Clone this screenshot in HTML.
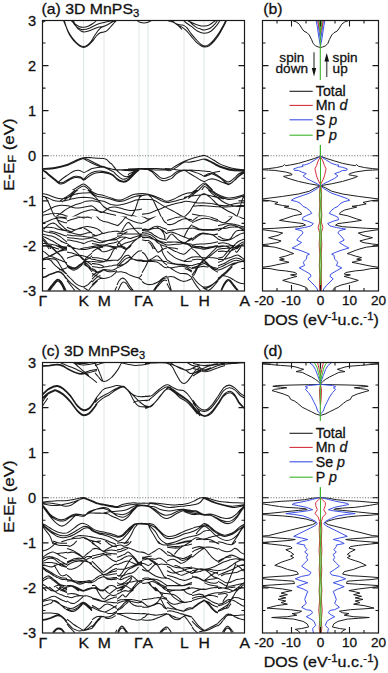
<!DOCTYPE html><html><head><meta charset="utf-8"><style>html,body{margin:0;padding:0;background:#fff;width:388px;height:673px;overflow:hidden;position:relative}</style></head><body>
<svg width="388" height="673" viewBox="0 0 388 673" style="position:absolute;left:0;top:0" font-family='"Liberation Sans", sans-serif' fill="#111">
<defs><clipPath id="clipd0"><rect x="262.5" y="20.5" width="116.0" height="270.5"/></clipPath></defs>
<g clip-path="url(#clipd0)"><path d="M289.0,18.0L293.1,20.8L296.2,21.9L299.3,24.2L301.6,28.0L303.9,31.1L307.0,32.7L309.3,35.0L311.6,39.6L313.2,43.5L315.5,45.8L318.6,47.1L320.5,47.4M352.0,18.0L347.9,20.8L344.8,21.9L341.7,24.2L339.4,28.0L337.1,31.1L334.0,32.7L331.7,35.0L329.4,39.6L327.8,43.5L325.5,45.8L322.4,47.1L320.5,47.4" stroke="#1e1e1e" stroke-width="1.0" fill="none" stroke-linejoin="round"/><path d="M320.5,156.2L326.9,158.6L334.7,161.0L342.6,163.4L350.4,164.9L355.2,165.7L356.7,164.6L358.3,166.2L364.6,167.6L372.5,168.6L383.0,169.5L372.5,170.1L366.2,170.4L363.0,170.9L355.2,172.0L349.7,173.6L348.9,174.8L352.8,175.5L357.5,176.4L355.2,177.5L350.4,179.1L342.6,181.4L331.6,183.8L322.1,185.4L320.6,185.8L325.3,187.7L331.6,191.2L342.6,194.0L358.3,196.4L370.9,198.0L383.0,199.5L370.9,200.8L363.0,202.4L366.2,203.9L358.3,205.5L352.0,206.3L356.7,207.1L350.4,208.6L344.2,210.2L340.2,212.6L339.4,214.2L347.3,215.7L356.7,218.9L361.5,220.4L350.4,222.0L337.9,223.6L335.5,225.2L342.6,226.7L366.2,228.3L383.0,229.0L366.2,231.4L358.3,233.0L363.0,235.4L372.5,237.7L366.2,239.3L359.9,240.9L363.0,242.5L372.5,244.0L383.0,245.2L366.2,247.2L359.9,248.9L355.2,250.5L347.3,253.6L350.4,254.4L355.2,256.0L361.5,257.6L356.7,259.2L361.5,259.9L355.2,261.5L352.0,262.3L359.9,263.9L370.9,266.2L383.0,267.8L370.9,268.6L363.0,270.2L355.2,270.9L345.7,272.5L344.2,274.1L350.4,274.9L344.2,276.4L350.4,278.0L358.3,280.4L350.4,282.7L341.0,285.1L334.7,287.5L333.2,289.8L332.5,293.0M320.5,156.2L314.1,158.6L306.3,161.0L298.4,163.4L290.6,164.9L285.8,165.7L284.3,164.6L282.7,166.2L276.4,167.6L268.5,168.6L258.0,169.5L268.5,170.1L274.8,170.4L278.0,170.9L285.8,172.0L291.3,173.6L292.1,174.8L288.2,175.5L283.5,176.4L285.8,177.5L290.6,179.1L298.4,181.4L309.4,183.8L318.9,185.4L320.4,185.8L315.7,187.7L309.4,191.2L298.4,194.0L282.7,196.4L270.1,198.0L258.0,199.5L270.1,200.8L278.0,202.4L274.8,203.9L282.7,205.5L289.0,206.3L284.3,207.1L290.6,208.6L296.8,210.2L300.8,212.6L301.6,214.2L293.7,215.7L284.3,218.9L279.5,220.4L290.6,222.0L303.1,223.6L305.5,225.2L298.4,226.7L274.8,228.3L258.0,229.0L274.8,231.4L282.7,233.0L278.0,235.4L268.5,237.7L274.8,239.3L281.1,240.9L278.0,242.5L268.5,244.0L258.0,245.2L274.8,247.2L281.1,248.9L285.8,250.5L293.7,253.6L290.6,254.4L285.8,256.0L279.5,257.6L284.3,259.2L279.5,259.9L285.8,261.5L289.0,262.3L281.1,263.9L270.1,266.2L258.0,267.8L270.1,268.6L278.0,270.2L285.8,270.9L295.3,272.5L296.8,274.1L290.6,274.9L296.8,276.4L290.6,278.0L282.7,280.4L290.6,282.7L300.0,285.1L306.3,287.5L307.8,289.8L308.5,293.0" stroke="#1e1e1e" stroke-width="1.0" fill="none" stroke-linejoin="round"/><path d="M315.5,18.0L316.3,20.8L317.5,28.0L318.5,35.0L319.5,41.0L320.5,45.8M325.5,18.0L324.7,20.8L323.5,28.0L322.5,35.0L321.5,41.0L320.5,45.8M317.5,18.0L318.2,24.0L319.2,32.0L320.5,40.0M323.5,18.0L322.8,24.0L321.8,32.0L320.5,40.0" stroke="#3c50e6" stroke-width="1.0" fill="none" stroke-linejoin="round"/><path d="M320.5,156.2L325.3,159.4L331.6,163.4L336.3,164.9L338.7,164.9L337.9,166.5L342.6,167.3L347.3,168.9L346.5,170.4L342.6,170.4L339.4,172.0L334.7,173.6L337.9,175.9L334.7,178.3L330.0,180.7L323.7,183.8L320.6,185.8L323.7,188.5L331.6,193.2L341.0,196.4L347.3,198.7L349.7,200.3L344.2,201.6L341.0,203.1L337.9,206.3L334.7,207.9L331.6,210.2L329.2,213.4L334.7,215.7L337.9,217.3L338.7,219.7L333.2,221.2L327.6,223.6L330.0,225.9L336.3,227.5L345.7,229.1L339.4,230.7L337.9,233.0L341.8,237.0L344.2,240.1L339.4,242.5L344.2,245.6L348.9,248.0L341.0,250.3L334.7,252.7L331.6,254.2L333.9,255.2L334.7,259.2L337.9,262.3L336.3,265.4L341.8,267.8L336.3,270.9L330.8,274.1L330.0,276.4L333.2,278.8L330.0,282.0L326.1,285.9L323.7,289.0L322.8,293.0M320.5,156.2L315.7,159.4L309.4,163.4L304.7,164.9L302.3,164.9L303.1,166.5L298.4,167.3L293.7,168.9L294.5,170.4L298.4,170.4L301.6,172.0L306.3,173.6L303.1,175.9L306.3,178.3L311.0,180.7L317.3,183.8L320.4,185.8L317.3,188.5L309.4,193.2L300.0,196.4L293.7,198.7L291.3,200.3L296.8,201.6L300.0,203.1L303.1,206.3L306.3,207.9L309.4,210.2L311.8,213.4L306.3,215.7L303.1,217.3L302.3,219.7L307.8,221.2L313.4,223.6L311.0,225.9L304.7,227.5L295.3,229.1L301.6,230.7L303.1,233.0L299.2,237.0L296.8,240.1L301.6,242.5L296.8,245.6L292.1,248.0L300.0,250.3L306.3,252.7L309.4,254.2L307.1,255.2L306.3,259.2L303.1,262.3L304.7,265.4L299.2,267.8L304.7,270.9L310.2,274.1L311.0,276.4L307.8,278.8L311.0,282.0L314.9,285.9L317.3,289.0L318.2,293.0" stroke="#3c50e6" stroke-width="1.0" fill="none" stroke-linejoin="round"/><path d="M317.3,18.0L317.8,20.8L318.8,26.0L319.7,30.0L320.5,33.5M323.7,18.0L323.2,20.8L322.2,26.0L321.3,30.0L320.5,33.5" stroke="#d6303c" stroke-width="1.0" fill="none" stroke-linejoin="round"/><path d="M320.5,156.6L322.9,161.0L324.5,165.7L326.1,168.9L325.3,172.0L324.5,175.9L322.9,179.9L320.6,184.6L321.0,186.0L321.6,195.0L321.2,205.0L321.8,215.0L321.3,222.0L322.9,227.5L321.2,233.0L321.8,245.0L321.2,255.0L321.7,265.0L321.2,275.0L321.6,285.0L321.0,293.0M320.5,156.6L318.1,161.0L316.5,165.7L314.9,168.9L315.7,172.0L316.5,175.9L318.1,179.9L320.4,184.6L320.0,186.0L319.4,195.0L319.8,205.0L319.2,215.0L319.7,222.0L318.1,227.5L319.8,233.0L319.2,245.0L319.8,255.0L319.3,265.0L319.8,275.0L319.4,285.0L320.0,293.0" stroke="#d6303c" stroke-width="1.0" fill="none" stroke-linejoin="round"/><path d="M319.0,18.0L319.6,25.0L320.5,32.0M322.0,18.0L321.4,25.0L320.5,32.0" stroke="#3cb428" stroke-width="1.0" fill="none" stroke-linejoin="round"/><path d="M320.5,145.0L320.5,186.0L321.2,195.0L320.8,205.0L321.3,215.0L320.7,225.0L321.2,235.0L320.8,250.0L321.2,265.0L320.8,280.0L320.5,293.0M320.5,145.0L320.5,186.0L319.8,195.0L320.2,205.0L319.7,215.0L320.3,225.0L319.8,235.0L320.2,250.0L319.8,265.0L320.2,280.0L320.5,293.0" stroke="#3cb428" stroke-width="1.0" fill="none" stroke-linejoin="round"/><path d="M320.3,18V80M320.3,145V158" stroke="#3cb428" stroke-width="1.1"/></g>
<rect x="286" y="80" width="66" height="65" fill="#fff"/>
<path d="M289.5,91.3H312.7" stroke="#1e1e1e" stroke-width="1.1"/>
<path d="M289.5,105.4H312.7" stroke="#d6303c" stroke-width="1.1"/>
<path d="M289.5,119.8H312.7" stroke="#3c50e6" stroke-width="1.1"/>
<path d="M289.5,135.2H312.7" stroke="#3cb428" stroke-width="1.1"/>
<text transform="translate(315.80,96.20) scale(1.0,1)" font-size="14.2" text-anchor="start" stroke="#111" stroke-width="0.3" >Total</text>
<text transform="translate(315.80,110.30) scale(1.0,1)" font-size="14.2" text-anchor="start" stroke="#111" stroke-width="0.3" >Mn <tspan font-style="italic">d</tspan></text>
<text transform="translate(315.80,124.70) scale(1.0,1)" font-size="14.2" text-anchor="start" stroke="#111" stroke-width="0.3" >S <tspan font-style="italic">p</tspan></text>
<text transform="translate(315.80,140.10) scale(1.0,1)" font-size="14.2" text-anchor="start" stroke="#111" stroke-width="0.3" >P <tspan font-style="italic">p</tspan></text>
<text transform="translate(291.80,62.00) scale(1.0,1)" font-size="13.6" text-anchor="middle" stroke="#111" stroke-width="0.3" >spin</text>
<text transform="translate(291.80,73.00) scale(1.0,1)" font-size="13.6" text-anchor="middle" stroke="#111" stroke-width="0.3" >down</text>
<text transform="translate(332.60,62.00) scale(1.0,1)" font-size="13.6" text-anchor="start" stroke="#111" stroke-width="0.3" >spin</text>
<text transform="translate(332.60,73.00) scale(1.0,1)" font-size="13.6" text-anchor="start" stroke="#111" stroke-width="0.3" >up</text>
<path d="M314,52.3V69M326.7,61V77" stroke="#666" stroke-width="1.5"/>
<path d="M311.8,68L316.2,68L314,76.4Z M324.4,61.5L329.1,61.5L326.7,53Z" fill="#111"/>
<defs><clipPath id="clipb0"><rect x="42.5" y="20.5" width="202.0" height="270.5"/></clipPath></defs>
<path d="M83.5,20.5V291.0M104,20.5V291.0M139,20.5V291.0M148,20.5V291.0M184,20.5V291.0M204,20.5V291.0" stroke="#dfe6e8" stroke-width="1" fill="none"/>
<path d="M42.5,155.75H244.5M262.5,155.75H378.5" stroke="#666" stroke-width="1" stroke-dasharray="1,1.7" fill="none"/>
<rect x="42.5" y="20.5" width="202.0" height="270.5" fill="none" stroke="#1a1a1a" stroke-width="1.2"/>
<rect x="262.5" y="20.5" width="116.0" height="270.5" fill="none" stroke="#1a1a1a" stroke-width="1.2"/>
<path d="M42.5,268.46h3M244.5,268.46h-3M42.5,245.92h6M244.5,245.92h-6M42.5,223.38h3M244.5,223.38h-3M42.5,200.83h6M244.5,200.83h-6M42.5,178.29h3M244.5,178.29h-3M42.5,155.75h6M244.5,155.75h-6M42.5,133.21h3M244.5,133.21h-3M42.5,110.67h6M244.5,110.67h-6M42.5,88.12h3M244.5,88.12h-3M42.5,65.58h6M244.5,65.58h-6M42.5,43.04h3M244.5,43.04h-3" stroke="#1a1a1a" stroke-width="1.1" fill="none"/>
<path d="M262.5,268.46h3M378.5,268.46h-3M262.5,245.92h6M378.5,245.92h-6M262.5,223.38h3M378.5,223.38h-3M262.5,200.83h6M378.5,200.83h-6M262.5,178.29h3M378.5,178.29h-3M262.5,155.75h6M378.5,155.75h-6M262.5,133.21h3M378.5,133.21h-3M262.5,110.67h6M378.5,110.67h-6M262.5,88.12h3M378.5,88.12h-3M262.5,65.58h6M378.5,65.58h-6M262.5,43.04h3M378.5,43.04h-3" stroke="#1a1a1a" stroke-width="1.1" fill="none"/>
<path d="M277.00,291.0v-3M277.00,20.5v3M291.50,291.0v-6M291.50,20.5v6M306.00,291.0v-3M306.00,20.5v3M320.50,291.0v-6M320.50,20.5v6M335.00,291.0v-3M335.00,20.5v3M349.50,291.0v-6M349.50,20.5v6M364.00,291.0v-3M364.00,20.5v3" stroke="#1a1a1a" stroke-width="1.1" fill="none"/>
<text transform="translate(36.00,296.00) scale(1.0,1)" font-size="14.6" text-anchor="end" stroke="#111" stroke-width="0.3" >-3</text>
<text transform="translate(36.00,250.92) scale(1.0,1)" font-size="14.6" text-anchor="end" stroke="#111" stroke-width="0.3" >-2</text>
<text transform="translate(36.00,205.83) scale(1.0,1)" font-size="14.6" text-anchor="end" stroke="#111" stroke-width="0.3" >-1</text>
<text transform="translate(36.00,160.75) scale(1.0,1)" font-size="14.6" text-anchor="end" stroke="#111" stroke-width="0.3" >0</text>
<text transform="translate(36.00,115.67) scale(1.0,1)" font-size="14.6" text-anchor="end" stroke="#111" stroke-width="0.3" >1</text>
<text transform="translate(36.00,70.58) scale(1.0,1)" font-size="14.6" text-anchor="end" stroke="#111" stroke-width="0.3" >2</text>
<text transform="translate(36.00,25.50) scale(1.0,1)" font-size="14.6" text-anchor="end" stroke="#111" stroke-width="0.3" >3</text>
<text transform="translate(42.80,305.60) scale(1.05,1)" font-size="15.0" text-anchor="middle" stroke="#111" stroke-width="0.3" >Γ</text>
<text transform="translate(83.80,305.60) scale(1.05,1)" font-size="15.0" text-anchor="middle" stroke="#111" stroke-width="0.3" >K</text>
<text transform="translate(104.30,305.60) scale(1.05,1)" font-size="15.0" text-anchor="middle" stroke="#111" stroke-width="0.3" >M</text>
<text transform="translate(184.30,305.60) scale(1.05,1)" font-size="15.0" text-anchor="middle" stroke="#111" stroke-width="0.3" >L</text>
<text transform="translate(204.30,305.60) scale(1.05,1)" font-size="15.0" text-anchor="middle" stroke="#111" stroke-width="0.3" >H</text>
<text transform="translate(244.80,305.60) scale(1.05,1)" font-size="15.0" text-anchor="middle" stroke="#111" stroke-width="0.3" >A</text>
<text transform="translate(143.50,305.60) scale(1.05,1)" font-size="15.0" text-anchor="middle" stroke="#111" stroke-width="0.3" >ΓA</text>
<text transform="translate(264.00,305.20) scale(1.0,1)" font-size="13.6" text-anchor="middle" stroke="#111" stroke-width="0.3" >-20</text>
<text transform="translate(291.00,305.20) scale(1.0,1)" font-size="13.6" text-anchor="middle" stroke="#111" stroke-width="0.3" >-10</text>
<text transform="translate(320.50,305.20) scale(1.0,1)" font-size="13.6" text-anchor="middle" stroke="#111" stroke-width="0.3" >0</text>
<text transform="translate(349.50,305.20) scale(1.0,1)" font-size="13.6" text-anchor="middle" stroke="#111" stroke-width="0.3" >10</text>
<text transform="translate(378.50,305.20) scale(1.0,1)" font-size="13.6" text-anchor="middle" stroke="#111" stroke-width="0.3" >20</text>
<text transform="translate(321.20,324.90) scale(1.08,1)" font-size="14.8" text-anchor="middle" stroke="#111" stroke-width="0.3" >DOS (eV<tspan font-size="10.5" dy="-5">-1</tspan><tspan dy="5">u.c.</tspan><tspan font-size="10.5" dy="-5">-1</tspan><tspan dy="5">)</tspan></text>
<defs><clipPath id="cb0_0"><rect x="42.5" y="20.5" width="202.0" height="169.5"/></clipPath></defs>
<g clip-path="url(#cb0_0)"><path d="M42.0,168.8C44.1,168.6,50.6,168.3,54.9,167.5C59.2,166.7,64.4,165.4,67.8,164.2C71.2,163.0,72.9,161.5,75.5,160.4C78.1,159.3,80.9,158.3,83.2,157.8C85.5,157.3,87.5,157.6,89.4,157.6C91.3,157.6,92.5,158.0,94.8,158.1C97.1,158.2,101.5,158.1,103.5,158.4C105.5,158.7,105.6,158.9,106.7,159.7C107.8,160.5,109.1,162.2,110.0,163.0C110.9,163.8,111.0,163.2,112.0,164.3C113.0,165.4,114.6,167.8,115.9,169.3C117.2,170.8,118.4,172.0,119.7,173.1C121.0,174.2,122.3,175.3,123.6,175.9C124.9,176.5,126.2,176.8,127.5,176.6C128.8,176.4,130.0,175.6,131.3,174.7C132.6,173.8,133.9,172.1,135.2,171.2C136.5,170.2,138.5,169.4,139.2,169.0M42.0,169.4C44.1,169.2,50.6,169.1,54.9,168.4C59.2,167.7,64.4,166.4,67.8,165.3C71.2,164.2,72.9,162.8,75.5,161.7C78.1,160.5,81.0,158.7,83.2,158.4C85.4,158.1,86.5,158.9,88.4,159.7C90.3,160.5,92.8,162.0,94.8,163.0C96.8,164.0,98.8,165.1,100.2,165.7C101.7,166.3,102.2,166.1,103.5,166.5C104.8,166.9,106.2,167.4,107.8,167.9C109.4,168.4,111.4,169.2,113.2,169.5C115.0,169.8,116.5,170.0,118.6,170.0C120.7,170.0,123.3,169.6,126.0,169.5C128.7,169.4,132.8,169.2,135.0,169.2C137.2,169.2,138.5,169.3,139.2,169.3M83.2,158.6C84.2,159.2,87.5,160.9,89.4,161.9C91.3,162.9,93.0,163.8,94.8,164.6C96.6,165.4,98.8,166.4,100.2,166.8C101.7,167.2,102.0,166.8,103.5,167.1C105.0,167.4,107.1,168.0,108.9,168.4C110.7,168.8,112.5,169.3,114.3,169.5C116.1,169.7,117.5,169.6,119.7,169.8C121.9,170.0,124.9,170.5,127.5,170.6C130.1,170.7,133.2,170.5,135.2,170.4C137.1,170.3,138.5,169.9,139.2,169.8M42.0,169.4C42.7,169.8,44.7,170.9,46.0,171.8C47.3,172.7,48.0,173.6,49.7,175.0C51.4,176.4,54.5,178.9,56.2,180.2C57.9,181.5,58.7,182.4,60.0,182.7C61.3,183.0,62.2,182.8,63.9,182.1C65.6,181.3,68.5,179.2,70.4,178.2C72.3,177.2,73.8,176.5,75.5,176.3C77.2,176.1,79.3,176.5,80.7,176.9C82.1,177.3,82.6,179.3,83.9,178.9C85.2,178.5,86.6,175.8,88.4,174.6C90.2,173.4,92.8,172.2,94.8,171.6C96.8,171.0,98.8,171.1,100.2,171.1C101.7,171.1,102.0,171.3,103.5,171.6C105.0,171.9,107.3,172.1,108.9,172.7C110.5,173.2,111.9,174.0,113.2,174.9C114.5,175.8,115.4,177.2,116.5,178.1C117.6,179.0,118.6,179.8,119.7,180.3C120.8,180.8,122.0,181.1,123.0,181.2C124.0,181.3,125.0,181.2,126.0,180.8C127.0,180.4,127.8,179.6,129.0,178.6C130.2,177.6,131.6,176.0,132.9,174.7C134.2,173.4,135.6,171.6,136.7,170.8C137.8,170.0,138.8,169.9,139.2,169.7M42.0,170.0C42.7,170.5,44.7,171.8,46.0,172.8C47.3,173.8,48.0,174.8,49.7,176.2C51.4,177.6,54.5,180.1,56.2,181.4C57.9,182.7,58.7,183.6,60.0,183.9C61.3,184.2,62.2,184.1,63.9,183.3C65.6,182.6,68.5,180.4,70.4,179.4C72.3,178.4,73.8,177.7,75.5,177.5C77.2,177.3,79.3,177.7,80.7,178.1C82.1,178.5,82.5,180.4,83.9,180.1C85.4,179.8,87.6,177.1,89.4,176.0C91.2,174.9,93.0,173.9,94.8,173.3C96.6,172.7,98.8,172.5,100.2,172.4C101.7,172.3,102.0,172.4,103.5,172.6C105.0,172.8,107.3,173.1,108.9,173.7C110.5,174.2,111.9,175.0,113.2,175.9C114.5,176.8,115.4,178.1,116.5,179.0C117.6,179.9,118.6,180.7,119.7,181.2C120.8,181.7,122.0,182.0,123.0,182.1C124.0,182.2,125.0,182.2,126.0,181.8C127.0,181.4,127.8,180.8,129.0,179.8C130.2,178.8,131.6,177.3,132.9,176.0C134.2,174.7,135.6,172.9,136.7,172.0C137.8,171.1,138.8,170.6,139.2,170.3M58.8,181.9C59.3,181.4,60.7,180.0,62.0,179.0C63.3,178.0,64.5,177.1,66.5,175.8C68.5,174.5,72.0,172.0,74.2,171.1C76.4,170.2,77.8,170.2,79.4,170.4C81.0,170.6,82.4,172.4,83.9,172.4C85.4,172.4,87.1,171.0,88.4,170.4C89.8,169.8,90.9,169.0,92.0,168.6C93.1,168.2,93.4,168.1,94.8,167.9C96.2,167.7,98.8,167.4,100.2,167.3C101.7,167.2,102.0,166.9,103.5,167.3C105.0,167.7,107.3,168.8,108.9,169.5C110.5,170.2,111.9,170.7,113.2,171.6C114.5,172.5,115.4,173.9,116.5,174.9C117.6,175.9,118.6,176.9,119.7,177.6C120.8,178.3,122.0,179.0,123.0,179.2C124.0,179.4,124.8,179.1,126.0,178.7C127.2,178.2,129.3,176.9,130.0,176.5M58.0,200.0C58.7,199.6,60.4,198.7,62.0,197.5C63.6,196.3,65.8,194.4,67.8,193.0C69.8,191.6,72.3,190.4,74.2,189.2C76.1,188.0,77.8,186.9,79.4,186.0C81.0,185.1,82.4,183.8,83.9,184.0C85.4,184.2,87.1,186.1,88.4,187.2C89.8,188.3,90.5,189.3,92.0,190.5C93.5,191.7,95.0,193.6,97.2,194.5C99.4,195.4,102.6,195.3,104.9,195.8C107.2,196.3,109.2,197.0,111.3,197.7C113.4,198.3,115.6,199.0,117.8,199.7C120.0,200.4,123.1,201.6,124.2,202.0M60.0,201.0C60.7,200.6,62.5,199.9,64.0,198.8C65.5,197.7,67.1,195.7,69.0,194.3C70.9,192.9,73.5,191.7,75.5,190.5C77.5,189.3,79.3,187.9,80.7,187.2C82.1,186.4,82.6,185.7,83.9,186.0C85.2,186.3,87.1,188.0,88.4,189.2C89.8,190.4,90.6,191.7,92.0,193.0C93.4,194.3,95.3,195.8,97.0,197.0C98.7,198.2,100.5,199.2,102.0,200.0C103.5,200.8,105.3,201.7,106.0,202.0M66.0,202.0C66.6,201.5,68.3,200.1,69.5,199.0C70.7,197.9,71.3,196.8,73.0,195.6C74.7,194.4,77.6,192.8,79.4,191.8C81.2,190.8,82.4,189.8,83.9,189.8C85.4,189.8,87.1,191.1,88.4,191.8C89.8,192.6,90.7,193.3,92.0,194.3C93.3,195.3,94.8,196.7,96.0,198.0C97.2,199.3,98.9,201.3,99.5,202.0M42.0,193.7C43.1,193.9,46.2,194.3,48.4,195.0C50.5,195.7,52.8,197.0,54.9,197.6C57.0,198.2,59.1,198.7,61.3,198.8C63.4,198.9,65.6,198.6,67.8,198.2C70.0,197.8,72.0,197.1,74.2,196.3C76.4,195.6,78.8,194.2,80.7,193.7C82.6,193.2,83.9,193.2,85.8,193.2C87.7,193.2,89.6,193.4,92.0,193.8C94.4,194.2,97.7,195.0,100.0,195.5C102.3,196.0,104.0,196.6,106.0,197.0C108.0,197.4,110.3,197.5,112.0,197.9C113.7,198.3,114.6,199.0,115.9,199.4C117.2,199.8,118.4,200.3,119.7,200.2C121.0,200.1,122.3,199.3,123.6,198.7C124.9,198.1,126.2,197.1,127.5,196.4C128.8,195.7,130.0,194.9,131.3,194.4C132.6,193.9,133.9,193.6,135.2,193.3C136.5,193.1,138.4,193.0,139.1,192.9M42.0,195.6C42.9,195.7,45.3,195.8,47.2,196.3C49.1,196.8,51.7,198.3,53.6,198.8C55.5,199.3,56.9,199.5,58.8,199.5C60.7,199.5,63.1,199.1,65.2,198.8C67.3,198.5,69.4,197.9,71.6,197.6C73.8,197.3,75.9,197.1,78.1,196.9C80.2,196.7,82.2,196.4,84.5,196.3C86.8,196.2,89.4,196.2,92.0,196.3C94.6,196.4,97.3,196.6,100.0,197.0C102.7,197.4,105.3,198.4,108.0,199.0C110.7,199.6,114.0,200.2,115.9,200.5C117.9,200.8,118.4,201.1,119.7,201.0C121.0,200.9,122.3,200.6,123.6,200.2C124.9,199.8,126.1,199.3,127.5,198.7C128.9,198.1,130.6,197.0,132.1,196.4C133.6,195.8,135.5,195.4,136.7,195.2C137.9,195.0,138.7,195.4,139.1,195.4M42.0,196.9C42.6,197.0,44.8,196.9,45.9,197.6C47.0,198.2,47.5,199.6,48.4,200.8C49.2,202.0,50.6,204.3,51.0,205.0M54.9,205.0C55.5,204.8,56.6,204.5,58.8,204.0C60.9,203.5,65.2,202.5,67.8,202.0C70.4,201.5,72.0,201.1,74.2,200.8C76.4,200.5,77.7,200.4,80.7,200.1C83.7,199.8,88.8,198.9,92.0,198.8C95.2,198.7,97.7,199.1,100.0,199.5C102.3,199.9,105.0,200.8,106.0,201.0M71.6,205.0C72.7,204.5,76.0,202.8,78.1,202.0C80.1,201.2,82.2,200.3,83.9,200.1C85.6,199.9,87.1,200.5,88.4,200.8C89.8,201.1,91.4,201.8,92.0,202.0M130.6,205.0C131.1,204.2,132.7,201.6,133.7,200.2C134.7,198.8,135.8,197.2,136.7,196.4C137.6,195.6,138.7,195.4,139.1,195.2M112.0,200.2C112.8,200.3,115.0,200.5,116.6,201.0C118.1,201.5,120.0,202.6,121.3,203.3C122.6,204.0,123.9,204.7,124.4,205.0M128.0,169.0C129.9,168.9,135.8,168.7,139.2,168.6C142.6,168.5,145.4,168.4,148.4,168.4C151.4,168.4,154.1,168.5,157.0,168.6C159.9,168.7,163.5,168.8,165.7,168.9C167.9,169.0,168.2,169.9,170.0,169.3C171.8,168.7,174.1,166.8,176.4,165.5C178.7,164.2,181.5,162.7,183.9,161.6C186.3,160.5,188.2,159.8,190.6,159.0C193.0,158.2,196.1,157.3,198.4,156.7C200.7,156.1,202.7,155.2,204.5,155.4C206.3,155.6,207.7,156.7,209.4,157.6C211.1,158.5,213.0,159.7,214.8,160.8C216.6,161.9,218.4,163.2,220.2,164.1C222.0,165.0,223.8,165.6,225.6,166.2C227.4,166.8,229.3,167.4,231.1,167.9C232.9,168.4,234.0,168.6,236.5,168.9C239.0,169.2,244.4,169.8,246.0,170.0M128.0,169.8C129.9,169.7,135.8,169.4,139.2,169.3C142.6,169.2,145.4,169.4,148.4,169.5C151.4,169.6,154.1,169.9,157.0,170.0C159.9,170.1,163.5,169.9,165.7,170.0C167.9,170.1,168.2,171.0,170.0,170.6C171.8,170.2,174.1,168.8,176.4,167.4C178.7,166.0,181.8,163.1,183.9,162.2C186.1,161.3,187.3,162.4,189.3,162.2C191.3,162.0,193.3,161.5,195.8,161.0C198.3,160.5,202.2,159.0,204.5,159.0C206.8,159.0,207.7,160.1,209.4,160.8C211.1,161.6,213.0,162.6,214.8,163.5C216.6,164.4,218.4,165.5,220.2,166.2C222.0,166.9,223.6,167.3,225.6,167.9C227.6,168.5,229.9,169.2,232.1,169.5C234.3,169.8,236.3,169.8,238.6,170.0C240.9,170.2,244.8,170.5,246.0,170.6M204.5,159.6C205.3,159.9,207.7,160.8,209.4,161.6C211.1,162.4,213.0,163.6,214.8,164.5C216.6,165.4,218.4,166.4,220.2,167.2C222.0,167.9,223.6,168.5,225.6,169.0C227.6,169.5,228.7,170.0,232.1,170.4C235.5,170.8,243.7,171.1,246.0,171.2M165.0,168.4C165.8,168.4,167.9,168.4,170.0,168.7C172.1,169.0,175.4,169.7,177.7,170.0C180.0,170.3,181.8,170.4,183.9,170.4C186.1,170.4,188.2,170.0,190.6,170.0C193.0,170.0,196.2,170.4,198.4,170.6C200.6,170.8,202.2,170.9,204.0,171.1C205.8,171.3,207.6,171.1,209.4,171.6C211.2,172.1,213.0,172.9,214.8,173.8C216.6,174.7,218.6,176.0,220.2,177.1C221.8,178.2,223.3,179.5,224.6,180.3C225.9,181.1,226.7,181.8,227.8,181.9C228.9,182.0,229.8,181.6,231.1,180.8C232.4,180.0,234.0,178.3,235.4,177.1C236.8,175.8,237.9,174.4,239.7,173.3C241.5,172.2,244.9,170.9,246.0,170.4M148.4,169.3C148.9,169.5,150.3,169.8,151.6,170.6C152.9,171.3,154.6,172.6,156.0,173.8C157.4,175.0,158.9,176.8,160.3,177.6C161.7,178.4,163.2,178.5,164.6,178.4C166.0,178.3,167.8,177.6,169.0,177.1C170.2,176.6,170.8,176.3,172.0,175.4C173.2,174.5,174.4,172.8,176.4,171.9C178.4,171.0,181.8,170.2,183.9,170.0C186.1,169.8,187.3,170.2,189.3,170.6C191.3,171.0,193.9,171.9,195.8,172.6C197.7,173.2,199.5,173.9,200.9,174.5C202.3,175.1,203.2,176.3,204.5,176.4C205.8,176.5,207.1,175.7,208.7,175.1C210.2,174.5,211.9,173.2,213.8,172.6C215.7,172.0,219.0,171.5,220.0,171.3M204.0,176.0C204.9,175.6,207.6,173.8,209.4,173.6C211.2,173.4,213.0,174.2,214.8,174.9C216.6,175.7,218.4,176.8,220.2,178.1C222.0,179.4,224.1,181.5,225.6,182.5C227.1,183.5,227.8,184.1,228.9,184.1C230.0,184.1,230.8,183.5,232.1,182.5C233.4,181.5,235.1,179.5,236.5,178.1C237.9,176.7,239.2,175.0,240.8,173.8C242.4,172.6,245.1,171.5,246.0,171.0M148.4,169.8C148.9,170.1,150.5,170.8,151.6,171.6C152.7,172.4,153.8,173.8,154.9,174.9C156.0,176.0,157.0,177.2,158.1,178.1C159.2,179.0,160.3,179.9,161.4,180.3C162.5,180.8,163.5,180.9,164.6,180.8C165.7,180.7,166.7,180.2,167.9,179.8C169.1,179.4,170.6,179.1,172.0,178.1C173.4,177.1,174.4,175.1,176.4,173.8C178.4,172.6,181.8,170.7,183.9,170.6C186.1,170.5,187.3,172.1,189.3,173.2C191.3,174.3,193.9,175.9,195.8,177.1C197.7,178.3,199.5,179.5,200.9,180.2C202.3,180.9,203.1,181.6,204.5,181.4C205.9,181.2,207.7,179.6,209.4,179.2C211.1,178.8,213.0,178.8,214.8,179.2C216.6,179.6,218.4,180.7,220.2,181.4C222.0,182.1,224.1,183.0,225.6,183.5C227.1,184.0,227.8,184.8,228.9,184.6C230.0,184.4,230.9,183.4,232.1,182.5C233.3,181.6,234.7,180.2,236.0,179.0C237.3,177.8,238.3,176.7,240.0,175.5C241.7,174.3,245.0,172.6,246.0,172.0M128.0,177.5C128.3,177.2,128.9,176.8,130.0,176.0C131.1,175.2,132.8,173.8,134.3,172.7C135.8,171.6,138.4,170.0,139.2,169.5M128.0,175.0C128.3,174.7,128.8,174.0,130.0,173.3C131.2,172.7,133.9,171.8,135.4,171.1C136.9,170.4,138.6,169.6,139.2,169.3M188.0,199.0C188.5,198.3,189.7,196.5,191.0,195.0C192.3,193.5,194.4,191.5,195.8,190.0C197.2,188.5,198.2,187.3,199.6,186.1C201.0,184.9,203.0,182.9,204.5,182.9C206.0,182.9,207.4,184.9,208.7,186.1C210.0,187.3,211.3,188.6,212.5,190.0C213.7,191.4,214.9,193.2,216.0,194.5C217.1,195.8,218.0,196.8,219.0,198.0C220.0,199.2,221.5,201.3,222.0,202.0M190.0,200.0C190.5,199.4,191.8,197.8,193.0,196.5C194.2,195.2,195.8,193.4,197.0,192.0C198.2,190.6,199.2,189.4,200.5,188.2C201.8,187.0,203.2,184.8,204.5,184.6C205.8,184.4,206.9,185.7,208.3,186.8C209.7,187.9,211.2,189.7,212.7,191.1C214.1,192.5,215.8,194.2,217.0,195.5C218.2,196.8,219.2,197.6,220.2,198.7C221.2,199.8,222.5,201.4,223.0,202.0M192.0,201.0C192.5,200.5,193.9,199.2,195.0,198.0C196.1,196.8,197.4,195.2,198.5,194.0C199.6,192.8,200.5,191.8,201.5,190.5C202.5,189.2,203.4,186.8,204.5,186.5C205.6,186.2,206.9,187.9,208.3,189.0C209.7,190.1,211.4,191.9,212.7,193.3C214.0,194.7,215.0,196.2,215.9,197.6C216.8,199.0,217.7,201.3,218.0,202.0M194.0,192.2C194.9,191.8,197.7,189.8,199.4,190.0C201.1,190.2,202.3,192.6,204.0,193.3C205.7,194.0,207.6,193.9,209.4,194.4C211.2,194.9,213.0,195.8,214.8,196.5C216.6,197.2,218.5,197.9,220.2,198.7C221.9,199.5,224.2,201.0,225.0,201.5M224.0,202.0C224.7,201.6,226.8,200.2,228.0,199.5C229.2,198.8,229.7,198.3,231.1,197.6C232.5,196.9,234.9,196.0,236.5,195.5C238.1,195.0,239.2,194.8,240.8,194.4C242.4,194.0,245.1,193.5,246.0,193.3M233.0,202.0C233.6,201.7,235.2,200.7,236.5,200.0C237.8,199.3,239.2,198.3,240.8,197.6C242.4,196.8,245.1,195.8,246.0,195.5M139.0,194.5C139.5,194.4,140.5,194.1,142.0,193.9C143.5,193.7,145.7,192.8,147.8,193.2C150.0,193.6,152.7,195.5,154.9,196.5C157.2,197.5,159.5,198.1,161.3,199.0C163.2,199.9,165.2,201.5,166.0,202.0M139.0,195.5C139.5,195.4,140.6,195.1,142.0,195.2C143.4,195.2,145.5,195.3,147.2,195.8C148.9,196.3,150.8,197.4,152.3,198.4C153.9,199.4,155.8,201.4,156.5,202.0M165.0,199.5C165.5,199.3,166.1,199.0,167.8,198.4C169.6,197.8,172.9,196.7,175.5,195.8C178.1,194.9,180.4,193.8,183.2,193.2C185.9,192.6,190.2,192.2,192.0,192.0C193.8,191.8,193.7,192.2,194.0,192.2M178.0,203.0C178.4,202.8,179.2,202.8,180.7,202.0C182.2,201.2,185.2,199.4,187.1,198.4C189.0,197.4,190.5,196.5,192.0,195.8C193.5,195.1,195.3,194.3,196.0,194.0M62.5,18.0C63.4,20.1,66.4,27.7,68.0,30.9C69.6,34.1,70.6,35.5,71.9,37.3C73.2,39.1,74.4,40.5,75.7,41.8C77.0,43.1,78.3,44.3,79.6,45.1C80.9,45.9,82.4,46.4,83.7,46.4C85.0,46.4,86.0,46.0,87.3,45.1C88.5,44.2,89.9,42.9,91.2,41.2C92.5,39.5,93.8,36.7,95.1,34.8C96.4,32.9,97.7,30.9,98.9,29.6C100.1,28.3,101.0,27.6,102.1,27.0C103.2,26.4,104.2,26.2,105.4,25.7C106.6,25.2,107.9,24.6,109.2,23.8C110.5,23.0,112.3,21.6,113.1,20.6C113.9,19.6,113.8,18.4,114.0,18.0M63.5,18.0C64.2,20.3,66.6,28.5,68.0,31.9C69.4,35.3,70.6,36.6,71.9,38.4C73.2,40.2,74.4,41.4,75.7,42.7C77.0,44.0,78.3,45.3,79.6,46.1C80.9,46.9,82.4,47.4,83.7,47.4C85.0,47.4,85.8,47.1,87.3,46.1C88.8,45.1,91.0,42.9,92.5,41.2C94.0,39.5,95.1,37.4,96.4,36.0C97.7,34.6,99.1,33.4,100.2,32.8C101.3,32.2,101.9,32.5,103.0,32.2C104.1,31.9,105.5,31.8,106.7,30.9C108.0,30.0,109.2,28.4,110.5,27.0C111.8,25.6,113.4,23.6,114.4,22.5C115.4,21.4,115.9,21.4,116.3,20.6C116.7,19.9,116.9,18.4,117.0,18.0M70.0,18.0C70.2,18.4,70.2,19.5,71.2,20.6C72.2,21.7,74.3,23.4,75.7,24.4C77.1,25.4,78.3,26.3,79.6,26.8C80.9,27.3,82.2,27.4,83.7,27.3C85.2,27.2,87.1,26.6,88.6,26.0C90.1,25.4,91.3,24.6,92.5,23.8C93.7,23.0,95.0,22.2,95.7,21.2C96.4,20.2,96.4,18.5,96.5,18.0M70.5,18.0C70.7,18.4,71.0,19.3,71.9,20.6C72.8,21.9,74.3,24.6,75.7,26.0C77.1,27.4,78.9,28.4,80.2,29.0C81.5,29.6,82.3,29.7,83.7,29.6C85.1,29.5,86.9,29.2,88.6,28.6C90.3,28.0,92.1,26.8,93.8,26.0C95.5,25.2,97.2,24.4,98.9,23.8C100.6,23.2,102.3,22.9,104.0,22.5C105.7,22.1,107.9,21.5,109.2,21.2C110.5,20.9,111.2,21.1,111.8,20.6C112.4,20.1,112.8,18.4,113.0,18.0M72.0,18.0C72.2,18.4,72.4,19.0,73.2,20.6C74.0,22.2,75.7,26.0,77.0,27.7C78.3,29.4,79.8,30.2,80.9,30.9C82.0,31.6,82.4,31.9,83.7,31.9C85.0,31.9,86.9,31.4,88.6,30.9C90.3,30.4,92.1,29.6,93.8,29.0C95.5,28.4,97.4,27.4,98.9,27.0C100.4,26.6,101.5,26.8,103.0,26.4C104.5,26.0,106.3,25.2,108.0,24.4C109.7,23.6,111.8,22.2,113.1,21.6C114.4,21.0,115.0,21.2,115.7,20.6C116.4,20.0,116.8,18.4,117.0,18.0M42.5,22.5C42.8,22.3,43.5,21.8,44.0,21.5C44.5,21.2,45.2,20.7,45.5,20.5M137.0,20.5C137.5,20.8,138.8,21.9,140.0,22.3C141.2,22.7,142.7,23.0,144.0,23.0C145.3,23.0,146.8,22.7,148.0,22.3C149.2,21.9,150.9,20.8,151.5,20.5M169.0,18.0C169.4,18.4,170.1,19.5,171.3,20.5C172.5,21.5,174.5,23.1,176.2,23.8C177.8,24.5,179.9,24.6,181.2,24.9C182.4,25.2,182.7,24.9,183.7,25.4C184.7,25.9,185.8,26.5,187.0,27.9C188.2,29.3,189.6,31.8,191.1,33.7C192.6,35.6,194.3,37.6,196.0,39.4C197.7,41.2,199.6,43.3,201.0,44.4C202.4,45.5,203.2,46.0,204.6,46.0C206.0,46.0,207.6,45.5,209.2,44.4C210.8,43.3,212.5,41.3,214.2,39.4C215.8,37.5,217.6,35.1,219.1,32.8C220.6,30.5,222.2,27.4,223.3,25.4C224.4,23.3,225.2,21.7,225.7,20.5C226.2,19.3,226.4,18.4,226.5,18.0M170.0,18.0C170.3,18.4,170.9,19.4,172.1,20.5C173.3,21.6,175.4,23.8,177.1,24.9C178.8,26.0,180.5,26.2,182.0,27.1C183.5,28.0,184.6,28.9,186.1,30.4C187.6,31.9,189.4,34.2,191.1,36.1C192.8,38.0,194.3,40.3,196.0,41.9C197.7,43.5,199.6,44.9,201.0,45.7C202.4,46.6,203.2,47.0,204.6,47.0C206.0,47.0,207.6,46.7,209.2,45.7C210.8,44.7,212.5,43.0,214.2,41.1C215.8,39.2,217.6,36.8,219.1,34.5C220.6,32.2,222.1,29.4,223.3,27.1C224.6,24.8,225.9,22.0,226.6,20.5C227.3,19.0,227.3,18.4,227.5,18.0M186.5,18.0C186.7,18.4,186.5,19.5,187.8,20.5C189.1,21.5,192.5,23.0,194.4,23.8C196.3,24.6,197.6,25.0,199.3,25.4C201.0,25.8,202.9,26.0,204.6,25.9C206.2,25.8,207.7,25.5,209.2,24.9C210.7,24.3,212.3,22.8,213.4,22.1C214.5,21.4,215.2,21.2,215.8,20.5C216.4,19.8,216.8,18.4,217.0,18.0M188.0,18.0C188.2,18.6,188.1,19.8,189.4,21.3C190.7,22.8,194.1,25.8,196.0,27.1C197.9,28.4,199.6,28.7,201.0,29.2C202.4,29.7,203.1,30.1,204.6,29.9C206.1,29.7,208.4,29.2,210.1,28.2C211.8,27.2,213.8,25.1,215.0,23.8C216.2,22.5,216.9,21.5,217.5,20.5C218.1,19.5,218.3,18.4,218.5,18.0M183.0,18.0C183.2,18.6,183.2,19.9,184.5,21.3C185.8,22.7,188.9,24.6,191.1,26.2C193.3,27.8,195.4,30.0,197.7,31.2C199.9,32.4,202.4,33.2,204.6,33.2C206.8,33.2,208.9,32.5,210.9,31.2C212.9,29.9,215.2,27.2,216.7,25.4C218.2,23.6,219.3,21.7,220.0,20.5C220.7,19.3,220.8,18.4,221.0,18.0M167.0,18.0C167.2,18.4,167.0,19.8,168.0,20.5C169.0,21.2,171.3,21.3,173.0,22.1C174.7,22.9,176.4,24.2,177.9,25.4C179.4,26.6,181.3,28.8,182.0,29.5" stroke="#1c1c1c" stroke-width="1.05" fill="none"/></g>
<defs><clipPath id="cb0_1"><rect x="42.5" y="190" width="202.0" height="26.5"/></clipPath></defs>
<g clip-path="url(#cb0_1)"><path d="M60.0,201.0C60.9,200.4,63.5,198.6,65.2,197.5C66.9,196.4,68.7,195.5,70.4,194.2C72.1,192.9,73.8,191.2,75.5,189.7C77.2,188.2,79.4,186.2,80.7,185.2C82.0,184.2,82.1,183.7,83.2,183.9C84.3,184.1,85.6,185.2,87.1,186.5C88.6,187.8,90.3,190.4,92.0,191.7C93.7,193.0,95.3,193.6,97.2,194.2C99.1,194.8,101.2,194.8,103.6,195.5C105.9,196.2,108.9,197.3,111.3,198.1C113.7,198.8,115.9,199.8,117.8,200.0C119.7,200.2,121.0,200.0,122.9,199.4C124.8,198.8,127.5,197.1,129.4,196.2C131.3,195.3,132.4,194.6,134.5,194.2C136.6,193.8,139.7,193.6,142.0,193.6C144.3,193.6,146.0,193.8,148.2,194.2C150.3,194.6,152.7,195.4,154.9,196.2C157.1,197.0,159.4,198.0,161.3,198.8C163.2,199.7,164.6,201.2,166.5,201.3C168.4,201.4,170.8,200.2,172.9,199.4C175.1,198.6,177.6,197.1,179.4,196.2C181.2,195.3,182.5,194.7,183.9,194.2C185.3,193.7,186.7,193.3,188.0,193.0C189.3,192.7,190.4,193.2,192.0,192.4C193.6,191.6,195.5,189.7,197.6,188.3C199.7,186.9,202.4,184.0,204.5,184.1C206.6,184.2,208.2,187.5,210.1,189.0C212.0,190.5,213.8,191.9,215.7,193.1C217.5,194.2,219.1,195.1,221.2,195.9C223.3,196.7,225.9,197.8,228.2,198.0C230.5,198.2,232.8,197.8,235.1,197.3C237.4,196.8,240.3,195.7,242.1,195.2C243.9,194.7,245.3,194.6,246.0,194.5M62.0,202.0C63.0,201.2,66.0,198.9,67.8,197.5C69.6,196.1,71.2,195.0,72.9,193.6C74.6,192.2,76.4,190.4,78.1,189.1C79.8,187.8,81.7,186.0,83.2,185.9C84.7,185.8,85.6,187.2,87.1,188.4C88.6,189.6,90.3,191.7,92.0,193.0C93.7,194.3,95.3,195.4,97.2,196.2C99.1,196.9,101.2,197.0,103.6,197.5C105.9,198.0,108.9,198.8,111.3,199.4C113.7,200.0,115.6,201.1,117.8,201.3C120.0,201.5,122.1,201.2,124.2,200.7C126.3,200.2,128.8,198.8,130.7,198.1C132.6,197.3,133.9,196.6,135.8,196.2C137.7,195.8,139.9,195.7,142.0,195.5C144.1,195.3,146.0,194.6,148.2,194.9C150.3,195.2,152.7,196.5,154.9,197.5C157.1,198.5,159.2,199.8,161.3,200.7C163.5,201.5,165.7,202.5,167.8,202.6C170.0,202.7,172.0,201.8,174.2,201.3C176.3,200.8,179.1,199.8,180.7,199.4C182.3,199.0,182.7,199.3,183.9,198.8C185.1,198.3,186.7,197.3,188.0,196.5C189.3,195.7,190.4,194.9,192.0,193.8C193.6,192.7,195.5,191.1,197.6,189.7C199.7,188.3,202.4,185.4,204.5,185.5C206.6,185.6,208.2,188.9,210.1,190.4C212.0,191.9,213.8,193.3,215.7,194.5C217.5,195.7,219.1,196.5,221.2,197.3C223.3,198.1,225.9,199.2,228.2,199.4C230.5,199.6,232.8,199.2,235.1,198.7C237.4,198.2,240.3,197.0,242.1,196.6C243.9,196.2,245.3,196.1,246.0,196.0M69.0,200.0C70.1,198.6,73.1,193.8,75.5,191.7C77.9,189.6,81.1,187.5,83.2,187.2C85.3,186.9,86.5,188.8,88.0,190.0C89.5,191.2,90.7,192.9,92.0,194.2C93.3,195.4,94.6,196.2,95.9,197.5C97.2,198.8,98.4,200.5,99.7,202.0C101.0,203.5,102.1,205.2,103.6,206.5C105.1,207.8,106.9,208.8,108.8,209.7C110.7,210.5,113.1,211.1,115.2,211.6C117.3,212.1,119.4,212.3,121.6,212.9C123.8,213.5,125.9,214.4,128.1,214.9C130.2,215.4,132.8,215.7,134.5,216.1C136.2,216.5,137.4,217.3,138.0,217.5M42.0,193.6C43.1,193.8,46.2,194.2,48.4,194.9C50.5,195.6,52.8,196.8,54.9,197.5C57.0,198.2,59.1,198.8,61.3,198.8C63.4,198.8,65.9,198.2,67.8,197.5C69.7,196.8,71.2,195.6,72.9,194.9C74.6,194.2,76.4,193.9,78.1,193.6C79.8,193.3,80.9,193.2,83.2,193.0C85.5,192.8,90.5,192.7,92.0,192.6M42.0,196.2C42.9,196.4,45.5,196.9,47.2,197.5C48.9,198.1,50.4,199.4,52.3,200.0C54.2,200.6,56.6,201.2,58.8,201.3C60.9,201.4,62.9,201.1,65.2,200.7C67.6,200.3,70.3,199.3,72.9,198.8C75.5,198.3,78.3,197.7,80.7,197.5C83.1,197.3,85.2,197.4,87.1,197.5C89.0,197.6,90.3,197.7,92.0,198.1C93.7,198.5,95.3,199.5,97.2,200.0C99.1,200.5,101.2,200.5,103.6,201.3C105.9,202.1,108.9,203.9,111.3,204.6C113.7,205.2,115.6,205.3,117.8,205.2C120.0,205.1,122.1,204.4,124.2,203.9C126.3,203.4,128.8,202.7,130.7,202.0C132.6,201.3,133.9,200.4,135.8,200.0C137.7,199.6,140.0,199.5,142.0,199.4C144.0,199.3,146.1,199.4,148.0,199.5C149.9,199.6,151.4,199.2,153.6,200.0C155.8,200.8,158.9,203.2,161.3,204.6C163.7,206.0,165.7,207.2,167.8,208.4C170.0,209.6,172.0,210.4,174.2,211.6C176.3,212.8,179.0,214.5,180.7,215.5C182.4,216.5,183.9,217.2,184.5,217.5M44.6,196.2C45.0,196.8,46.4,198.5,47.2,200.0C48.1,201.5,48.9,203.3,49.7,205.2C50.6,207.1,51.4,209.5,52.3,211.6C53.2,213.7,54.5,216.5,54.9,217.5M42.0,212.9C42.6,212.6,44.6,211.6,45.9,211.0C47.2,210.4,48.2,209.8,49.7,209.1C51.2,208.3,53.0,207.2,54.9,206.5C56.8,205.8,59.1,205.3,61.3,205.2C63.4,205.1,65.6,205.4,67.8,205.8C70.0,206.2,72.0,207.5,74.2,207.8C76.4,208.1,78.6,208.0,80.7,207.8C82.8,207.6,85.2,206.8,87.1,206.5C89.0,206.2,90.5,205.6,92.0,206.0C93.5,206.4,94.8,208.1,96.0,209.0C97.2,209.9,98.0,210.9,99.0,211.5C100.0,212.1,100.8,212.8,102.0,212.5C103.2,212.2,104.7,210.8,106.0,210.0C107.3,209.2,108.5,208.0,110.0,207.5C111.5,207.0,113.3,206.9,115.0,207.0C116.7,207.1,118.3,207.6,120.0,208.0C121.7,208.4,123.3,209.1,125.0,209.5C126.7,209.9,128.2,210.4,130.0,210.5C131.8,210.6,134.0,210.2,136.0,210.0C138.0,209.8,141.0,209.2,142.0,209.0M54.9,217.5C56.0,216.7,59.1,214.4,61.3,212.9C63.4,211.4,65.6,209.7,67.8,208.4C70.0,207.1,72.0,206.0,74.2,205.2C76.4,204.3,78.8,204.0,80.7,203.3C82.6,202.7,83.9,201.7,85.8,201.3C87.7,200.9,90.1,200.7,92.0,200.7C93.9,200.7,95.5,201.1,97.0,201.5C98.5,201.9,100.3,202.8,101.0,203.0M71.6,217.5C72.7,216.9,75.9,215.2,78.1,214.2C80.2,213.2,82.2,212.3,84.5,211.6C86.8,210.8,89.8,209.8,92.0,209.7C94.2,209.6,96.0,210.5,98.0,211.0C100.0,211.5,102.0,212.0,104.0,212.5C106.0,213.0,108.0,213.5,110.0,214.0C112.0,214.5,115.0,215.2,116.0,215.5M42.0,215.5C43.1,215.3,46.2,214.6,48.4,214.2C50.6,213.8,52.7,213.1,55.0,213.2C57.3,213.2,59.8,213.9,62.0,214.5C64.2,215.1,67.0,216.2,68.0,216.5M148.2,194.9C148.9,195.6,151.0,196.9,152.3,198.8C153.6,200.7,155.1,204.4,156.2,206.5C157.3,208.6,158.0,209.8,158.8,211.6C159.7,213.4,160.9,216.5,161.3,217.5M142.0,214.2C143.0,214.1,146.0,214.1,148.2,213.6C150.3,213.1,152.7,211.9,154.9,211.0C157.1,210.1,159.2,209.3,161.3,208.4C163.5,207.5,165.7,206.6,167.8,205.8C170.0,205.1,172.0,204.4,174.2,203.9C176.3,203.4,178.8,203.0,180.7,202.6C182.6,202.2,183.9,201.4,185.8,201.3C187.7,201.2,190.0,201.7,192.0,202.0C194.0,202.3,195.5,202.8,197.6,202.9C199.7,203.1,202.2,202.8,204.5,202.9C206.8,203.0,209.2,203.2,211.5,203.6C213.8,203.9,216.1,204.7,218.4,205.0C220.7,205.3,223.1,205.8,225.4,205.7C227.7,205.6,230.1,204.8,232.4,204.3C234.7,203.8,237.0,203.1,239.3,202.9C241.6,202.7,244.9,202.9,246.0,202.9M184.0,217.5C184.9,216.5,188.4,213.2,189.7,211.6C191.0,210.0,190.9,209.5,192.0,207.8C193.1,206.1,195.0,203.2,196.2,201.5C197.4,199.8,198.1,198.5,199.0,197.3C199.9,196.1,200.8,195.1,201.7,194.5C202.6,193.9,203.1,193.3,204.5,193.8C205.9,194.3,208.2,195.8,210.1,197.3C212.0,198.8,213.8,201.3,215.7,202.9C217.5,204.5,219.1,205.6,221.2,207.0C223.3,208.4,226.1,210.0,228.2,211.2C230.3,212.4,232.2,212.9,233.8,214.0C235.4,215.1,237.3,216.9,238.0,217.5M184.0,197.5C184.7,197.3,186.7,196.8,188.0,196.5C189.3,196.2,190.4,196.1,192.0,195.9C193.6,195.7,195.5,195.4,197.6,195.2C199.7,195.0,202.2,194.4,204.5,194.5C206.8,194.6,209.2,195.4,211.5,195.9C213.8,196.4,215.9,197.0,218.0,197.5C220.1,198.0,223.0,198.8,224.0,199.0M192.0,206.4C192.9,206.3,195.5,205.8,197.6,205.7C199.7,205.6,202.2,205.6,204.5,205.7C206.8,205.8,209.2,206.0,211.5,206.2C213.8,206.4,216.1,206.7,218.4,206.8C220.7,206.9,223.1,207.1,225.4,207.0C227.7,206.9,230.1,206.7,232.4,206.4C234.7,206.2,237.0,205.7,239.3,205.5C241.6,205.3,244.9,205.5,246.0,205.5M236.5,217.5C237.0,216.2,238.4,212.7,239.3,209.8C240.2,206.9,241.3,202.4,242.1,200.1C242.9,197.8,243.5,196.9,244.2,195.9C244.8,194.9,245.7,194.3,246.0,194.0M188.0,198.5C188.7,198.0,190.4,196.8,192.0,195.5C193.6,194.2,195.5,192.4,197.6,191.0C199.7,189.6,202.2,186.6,204.5,186.9C206.8,187.2,209.4,191.4,211.5,193.1C213.6,194.8,215.2,195.9,217.1,197.3C218.9,198.7,220.8,200.3,222.6,201.5C224.4,202.7,226.3,203.6,228.2,204.3C230.1,205.1,232.0,205.6,234.0,206.0C236.0,206.4,238.0,206.5,240.0,206.5C242.0,206.5,245.0,206.1,246.0,206.0M192.0,214.0C193.2,214.2,196.9,215.1,199.0,215.4C201.1,215.8,202.7,215.8,204.5,216.1C206.3,216.4,209.1,217.3,210.0,217.5M130.7,217.5C131.3,216.4,133.4,213.2,134.5,211.0C135.6,208.8,136.2,206.2,137.0,204.0C137.8,201.8,138.7,198.8,139.5,197.5C140.3,196.2,141.6,196.2,142.0,196.0" stroke="#1c1c1c" stroke-width="1.05" fill="none"/></g>
<defs><clipPath id="cb0_2"><rect x="42.5" y="216.5" width="202.0" height="74.5"/></clipPath></defs>
<g clip-path="url(#cb0_2)"><path d="M46.8,199.0C47.3,199.7,48.7,202.0,49.4,203.5C50.1,204.9,50.3,206.4,50.9,207.9C51.5,209.4,52.4,211.0,53.1,212.4C53.9,213.7,54.8,215.0,55.4,216.1C56.0,217.2,56.2,217.9,56.9,219.1C57.5,220.2,58.2,221.7,59.1,222.8C60.0,223.9,61.2,224.9,62.1,225.7C62.9,226.6,63.5,227.2,64.3,228.0C65.1,228.7,66.5,229.8,67.0,230.2M53.1,199.0C53.8,199.1,55.6,199.2,56.9,199.4C58.1,199.5,58.9,199.6,60.6,199.7C62.3,199.9,65.9,200.1,67.0,200.1M49.4,206.4C50.0,206.4,51.9,206.2,53.1,206.1C54.4,205.9,55.6,205.7,56.9,205.7C58.1,205.6,58.9,205.8,60.6,205.7C62.3,205.6,65.9,205.1,67.0,204.9M42.0,215.0C42.5,214.7,44.0,213.8,45.0,213.1C46.0,212.4,47.1,211.4,47.9,210.9C48.8,210.3,49.6,210.0,50.2,209.8C50.7,209.5,51.1,209.5,51.3,209.4M42.0,216.1C42.6,215.9,44.5,215.4,45.7,215.0C47.0,214.5,48.2,213.9,49.4,213.5C50.7,213.1,51.9,212.5,53.1,212.7C54.4,213.0,55.7,214.4,56.9,215.0C58.0,215.6,58.7,216.1,59.8,216.5C60.9,216.8,62.4,217.1,63.5,217.2C64.7,217.3,66.4,216.9,67.0,216.8M55.4,216.1C56.0,215.7,57.8,214.6,59.1,213.9C60.3,213.1,61.5,212.4,62.8,211.6C64.1,210.9,66.3,209.8,67.0,209.4M56.1,217.6C56.7,217.3,58.6,216.3,59.8,215.7C61.1,215.2,62.4,214.7,63.5,214.2C64.7,213.8,66.4,213.3,67.0,213.1M42.0,223.1C42.6,223.0,44.5,222.5,45.7,222.0C47.0,221.6,48.2,221.0,49.4,220.5C50.7,220.1,51.9,219.4,53.1,219.1C54.4,218.7,55.6,218.6,56.9,218.3C58.1,218.1,59.3,217.6,60.6,217.6C61.8,217.6,63.2,218.1,64.3,218.3C65.4,218.6,66.5,218.9,67.0,219.1M56.9,219.8C57.5,220.1,59.3,220.9,60.6,221.3C61.8,221.7,63.2,222.2,64.3,222.4C65.4,222.7,66.5,222.7,67.0,222.8M43.5,229.5C44.0,229.0,45.5,227.4,46.5,226.5C47.4,225.6,48.3,224.8,49.4,224.3C50.5,223.7,52.2,223.2,53.1,223.1C54.1,223.1,54.5,223.3,55.4,223.9C56.2,224.4,57.4,225.7,58.3,226.5C59.3,227.3,60.3,228.1,61.3,228.7C62.3,229.3,63.3,229.8,64.3,230.2C65.2,230.6,66.5,230.8,67.0,230.9M42.0,228.3C42.5,228.2,44.0,227.8,45.0,227.6C46.0,227.4,46.8,227.2,47.9,227.2C49.1,227.2,50.4,227.4,51.7,227.6C52.9,227.8,54.1,228.0,55.4,228.3C56.6,228.7,57.8,229.2,59.1,229.5C60.3,229.8,61.5,230.0,62.8,230.2C64.1,230.5,66.3,230.8,67.0,230.9M42.0,230.2C42.6,230.5,44.5,231.3,45.7,231.7C47.0,232.1,48.2,232.2,49.4,232.4C50.7,232.7,51.9,232.8,53.1,233.2C54.4,233.5,55.6,234.0,56.9,234.7C58.1,235.3,59.3,236.0,60.6,236.9C61.8,237.8,63.2,239.0,64.3,239.9C65.4,240.7,66.5,241.7,67.0,242.1M42.0,233.9C42.5,234.0,44.0,234.4,45.0,234.7C46.0,234.9,46.8,235.2,47.9,235.4C49.1,235.7,50.4,235.8,51.7,236.1C52.9,236.5,54.1,237.0,55.4,237.6C56.6,238.3,57.8,239.1,59.1,239.9C60.3,240.6,61.5,241.5,62.8,242.1C64.1,242.7,66.3,243.3,67.0,243.6M42.0,236.1C42.4,236.3,43.5,236.6,44.2,236.9C45.0,237.2,45.6,237.6,46.5,238.0C47.3,238.4,48.3,238.9,49.4,239.5C50.5,240.0,51.9,240.7,53.1,241.3C54.4,242.0,55.6,242.8,56.9,243.6C58.1,244.3,59.3,245.1,60.6,245.8C61.8,246.5,63.4,247.5,64.3,248.0C65.2,248.6,65.5,248.8,65.8,249.0M42.0,237.6C42.4,237.9,43.5,238.7,44.2,239.5C45.0,240.2,45.7,241.2,46.5,242.1C47.2,243.0,47.9,243.9,48.7,245.1C49.4,246.2,50.5,248.3,50.9,249.0M42.0,239.1C42.4,239.5,43.5,240.5,44.2,241.3C45.0,242.2,45.8,243.3,46.5,244.3C47.1,245.3,47.5,246.5,47.9,247.3C48.4,248.1,48.9,248.7,49.1,249.0M42.0,243.6C42.5,243.6,43.7,243.5,45.0,243.6C46.2,243.6,47.8,243.7,49.4,243.9C51.0,244.2,52.9,244.6,54.6,245.1C56.4,245.5,58.2,246.1,59.8,246.5C61.4,247.0,63.1,247.4,64.3,247.7C65.5,247.9,66.5,248.0,67.0,248.0M42.0,245.8C42.6,245.8,44.5,245.7,45.7,245.8C47.0,245.9,48.2,246.3,49.4,246.5C50.7,246.8,51.9,247.0,53.1,247.3C54.4,247.6,55.9,248.1,56.9,248.4C57.8,248.7,58.7,248.9,59.1,249.0M49.4,230.9C50.0,231.1,51.9,231.4,53.1,231.7C54.4,232.0,55.6,232.4,56.9,232.8C58.1,233.2,59.3,233.5,60.6,233.9C61.8,234.4,63.2,235.0,64.3,235.4C65.4,235.8,66.5,236.0,67.0,236.1M67.0,206.1C67.4,205.7,68.8,204.9,69.6,204.2C70.4,203.5,71.2,202.5,71.8,201.6C72.4,200.7,73.1,199.4,73.3,199.0M73.7,199.0C74.4,199.1,76.5,199.6,78.1,199.7C79.8,199.9,82.4,200.0,83.7,200.1C85.1,200.2,85.4,200.1,86.3,200.5C87.2,200.9,88.3,201.7,89.3,202.7C90.2,203.7,91.5,205.8,92.0,206.4M67.0,210.5C67.7,210.3,70.0,209.5,71.5,209.0C72.9,208.6,74.4,208.2,75.9,207.9C77.4,207.7,79.1,207.6,80.4,207.5C81.7,207.5,82.5,207.5,83.7,207.5C85.0,207.6,86.4,207.7,87.8,207.9C89.2,208.1,91.3,208.5,92.0,208.7M67.0,215.0C67.6,214.9,69.5,214.5,70.7,214.6C72.0,214.7,73.1,215.0,74.4,215.3C75.8,215.7,77.3,216.0,78.9,216.5C80.4,216.9,82.5,217.9,83.7,217.9C85.0,218.0,85.4,217.2,86.3,216.8C87.2,216.5,88.3,216.0,89.3,215.7C90.2,215.5,91.5,215.4,92.0,215.3M67.0,221.3C67.6,221.0,69.5,220.2,70.7,219.8C72.0,219.4,73.1,219.1,74.4,218.7C75.8,218.3,77.3,217.9,78.9,217.6C80.4,217.3,82.0,216.8,83.7,216.8C85.4,216.8,87.9,217.3,89.3,217.6C90.7,217.8,91.5,218.2,92.0,218.3M67.0,227.2C67.6,227.5,69.5,228.3,70.7,228.7C72.0,229.2,73.2,229.8,74.4,229.8C75.7,229.8,76.6,229.2,78.1,228.7C79.7,228.2,82.1,227.2,83.7,226.9C85.3,226.5,86.4,226.4,87.8,226.5C89.2,226.6,91.3,227.1,92.0,227.2M67.0,230.2C67.7,230.5,70.2,231.7,71.5,231.7C72.7,231.7,73.3,230.7,74.4,230.2C75.5,229.7,76.9,229.0,78.1,228.7C79.4,228.4,81.2,228.4,81.9,228.3M67.0,231.7C67.7,231.9,70.0,232.4,71.5,232.8C72.9,233.2,74.4,233.6,75.9,233.9C77.4,234.2,79.1,234.7,80.4,234.7C81.7,234.7,82.5,234.2,83.7,233.9C85.0,233.6,86.4,233.1,87.8,232.8C89.2,232.6,91.3,232.5,92.0,232.4M67.0,234.7C67.7,234.8,70.0,235.2,71.5,235.4C72.9,235.6,74.4,235.7,75.9,235.8C77.4,235.9,79.1,236.0,80.4,236.1C81.7,236.3,82.5,236.4,83.7,236.5C85.0,236.6,86.4,236.8,87.8,236.9C89.2,237.0,91.3,237.2,92.0,237.3M67.0,237.6C67.7,237.7,70.0,237.9,71.5,238.0C72.9,238.1,74.4,238.2,75.9,238.4C77.4,238.6,79.1,239.0,80.4,239.1C81.7,239.2,82.5,239.2,83.7,239.1C85.0,239.0,86.4,238.6,87.8,238.4C89.2,238.1,91.3,237.8,92.0,237.6M67.0,239.9C67.7,240.0,70.0,240.4,71.5,240.6C72.9,240.9,74.4,241.0,75.9,241.3C77.4,241.7,79.1,242.1,80.4,242.5C81.7,242.8,82.6,243.6,83.7,243.6C84.8,243.5,85.7,242.6,87.1,242.1C88.4,241.6,91.1,240.9,92.0,240.6M67.0,243.6C67.5,243.9,69.0,245.1,70.0,245.8C71.0,246.5,72.2,247.5,72.9,248.0C73.7,248.6,74.2,248.8,74.4,249.0M80.4,249.0C80.9,248.8,82.5,248.3,83.7,248.0C85.0,247.7,86.4,247.5,87.8,247.3C89.2,247.0,91.3,246.7,92.0,246.5M83.7,228.0C84.4,228.3,86.4,229.3,87.8,230.2C89.2,231.1,91.3,232.7,92.0,233.2M96.5,199.0C97.0,199.6,98.3,201.2,99.4,202.3C100.5,203.5,101.9,205.4,103.1,206.1C104.4,206.7,105.5,206.4,106.9,206.4C108.2,206.5,109.6,206.4,111.3,206.4C113.0,206.4,116.0,206.4,117.0,206.4M92.0,207.2C92.4,207.8,93.4,210.0,94.2,210.9C95.1,211.8,96.2,212.5,97.2,212.4C98.2,212.2,99.2,211.1,100.2,210.1C101.2,209.2,102.6,207.0,103.1,206.4M100.2,200.5C100.8,200.6,102.6,200.7,103.9,201.2C105.1,201.7,106.4,202.6,107.6,203.5C108.8,204.3,110.2,205.4,111.3,206.4C112.4,207.4,113.3,208.6,114.3,209.4C115.2,210.2,116.5,210.9,117.0,211.3M103.9,199.0C104.6,199.1,106.9,199.6,108.3,199.7C109.8,199.9,111.4,200.1,112.8,200.1C114.2,200.1,116.3,199.8,117.0,199.7M92.0,216.1C92.4,215.9,93.5,215.0,94.2,215.0C95.0,215.0,95.6,215.3,96.5,216.1C97.3,216.8,98.3,218.6,99.4,219.4C100.5,220.3,101.9,220.9,103.1,221.3C104.4,221.7,105.5,221.7,106.9,222.0C108.2,222.4,110.1,223.1,111.3,223.5C112.6,224.0,113.3,224.3,114.3,224.6C115.2,224.9,116.5,225.3,117.0,225.4M92.0,212.0C92.5,212.2,94.0,212.7,95.0,213.1C96.0,213.5,97.0,213.9,97.9,214.2C98.9,214.5,99.4,214.8,100.9,215.0C102.4,215.1,104.2,215.2,106.9,215.2C109.5,215.2,115.3,215.2,117.0,215.2M92.0,227.2C92.6,227.4,94.5,227.9,95.7,228.3C97.0,228.8,98.4,229.5,99.4,230.2C100.4,230.9,101.0,231.9,101.7,232.4C102.3,233.0,102.3,233.5,103.1,233.5C104.0,233.5,105.5,232.7,106.9,232.4C108.2,232.1,109.6,231.9,111.3,231.7C113.0,231.4,116.0,231.1,117.0,230.9M92.0,233.9C92.6,234.2,94.5,235.3,95.7,235.4C97.0,235.5,98.4,235.0,99.4,234.7C100.4,234.4,101.0,233.7,101.7,233.5C102.3,233.4,102.9,233.5,103.1,233.5M92.0,236.1C92.7,236.1,95.0,236.1,96.5,235.8C97.9,235.4,99.8,234.3,100.9,233.9C102.0,233.5,102.8,233.6,103.1,233.5M92.0,237.6C92.7,237.9,95.2,238.6,96.5,239.1C97.7,239.6,98.3,240.2,99.4,240.6C100.5,241.0,101.9,241.3,103.1,241.3C104.4,241.3,105.5,240.9,106.9,240.6C108.2,240.3,109.6,240.0,111.3,239.5C113.0,239.0,116.0,237.9,117.0,237.6M92.0,240.6C92.7,240.9,95.0,241.7,96.5,242.1C97.9,242.5,99.6,242.9,100.9,242.8C102.3,242.8,103.4,242.1,104.6,241.7C105.9,241.3,107.0,240.9,108.3,240.6C109.7,240.3,111.4,240.0,112.8,239.9C114.2,239.7,116.3,239.6,117.0,239.5M92.0,243.6C92.7,243.7,95.0,244.1,96.5,244.3C97.9,244.6,99.4,245.0,100.9,245.1C102.4,245.1,103.9,244.9,105.4,244.7C106.9,244.4,108.3,243.9,109.8,243.6C111.3,243.3,113.1,243.1,114.3,242.8C115.5,242.6,116.5,242.2,117.0,242.1M92.0,246.5C92.7,246.7,95.0,247.3,96.5,247.3C97.9,247.3,99.4,246.8,100.9,246.5C102.4,246.3,103.9,245.8,105.4,245.8C106.9,245.8,108.3,246.2,109.8,246.5C111.3,246.9,113.1,247.6,114.3,248.0C115.5,248.4,116.5,248.8,117.0,249.0M96.5,249.0C97.0,248.8,98.3,248.3,99.4,248.0C100.5,247.7,102.5,247.4,103.1,247.3M117.0,199.7C117.7,199.7,120.0,199.5,121.5,199.4C122.9,199.2,125.2,199.1,125.9,199.0M117.0,202.0C117.7,201.8,120.2,201.5,121.5,201.2C122.7,201.0,123.3,200.7,124.4,200.5C125.5,200.2,126.9,200.0,128.1,199.7C129.4,199.5,131.2,199.1,131.9,199.0M117.0,206.1C117.7,205.9,120.0,205.3,121.5,204.9C122.9,204.6,124.4,204.6,125.9,204.2C127.4,203.8,129.0,203.6,130.4,202.7C131.7,201.8,133.5,199.6,134.1,199.0M120.0,199.0C120.5,199.5,122.0,201.1,122.9,202.0C123.9,202.8,124.8,203.6,125.9,204.2C127.0,204.8,128.4,205.1,129.6,205.3C130.9,205.6,132.2,205.7,133.3,205.7C134.5,205.6,135.8,205.1,136.3,204.9M134.8,199.0C134.5,199.7,133.3,201.8,132.6,203.5C131.9,205.1,131.1,207.0,130.4,208.7C129.6,210.3,129.0,211.6,128.1,213.1C127.3,214.6,126.2,216.2,125.2,217.6C124.2,218.9,123.3,220.1,122.2,221.3C121.1,222.5,119.4,224.3,118.5,225.0C117.6,225.7,117.2,225.6,117.0,225.7M117.0,210.9C117.6,211.3,119.5,212.2,120.7,213.1C122.0,214.0,123.6,215.3,124.4,216.1C125.3,216.8,125.0,217.0,125.9,217.6C126.8,218.2,128.4,219.2,129.6,219.8C130.9,220.4,132.0,220.8,133.3,221.3C134.7,221.8,136.4,222.4,137.8,222.8C139.2,223.1,141.3,223.4,142.0,223.5M117.0,215.0C117.6,215.1,119.5,215.4,120.7,215.7C122.0,216.0,123.4,216.5,124.4,216.8C125.4,217.1,126.3,217.4,126.7,217.6M130.4,210.9C131.0,211.3,132.8,212.5,134.1,213.1C135.3,213.7,136.5,214.1,137.8,214.6C139.1,215.1,141.3,215.8,142.0,216.1M117.0,230.9C117.5,231.1,119.0,231.9,120.0,232.1C121.0,232.2,122.2,231.9,122.9,231.7C123.7,231.5,123.7,231.3,124.4,230.9C125.2,230.6,126.2,229.8,127.4,229.5C128.6,229.1,130.4,228.9,131.9,228.7C133.3,228.5,134.6,228.4,136.3,228.3C138.0,228.3,141.0,228.3,142.0,228.3M121.5,231.7C122.0,230.8,123.3,228.0,124.4,226.5C125.5,224.9,126.9,222.5,128.1,222.4C129.4,222.3,130.7,224.6,131.9,225.7C133.0,226.9,133.8,228.3,134.8,229.5C135.8,230.6,136.9,231.6,137.8,232.4C138.7,233.3,139.3,234.2,140.0,234.7C140.7,235.2,141.6,235.3,142.0,235.4M117.0,233.9C117.6,233.9,119.5,233.5,120.7,233.5C122.0,233.5,123.2,233.9,124.4,233.9C125.7,234.0,126.9,233.9,128.1,233.9C129.4,233.9,130.5,233.9,131.9,233.9C133.2,233.9,135.1,233.9,136.3,233.9C137.6,233.9,138.3,233.9,139.3,233.9C140.2,233.9,141.5,233.9,142.0,233.9M117.0,236.1C117.6,236.1,119.5,236.3,120.7,235.8C122.0,235.3,123.3,233.9,124.4,233.2C125.5,232.5,126.9,231.9,127.4,231.7M117.0,239.1C117.5,238.9,119.0,238.0,120.0,237.6C121.0,237.3,121.8,236.9,122.9,236.9C124.1,236.9,125.4,237.4,126.7,237.6C127.9,237.9,129.0,238.5,130.4,238.4C131.7,238.3,133.3,237.4,134.8,236.9C136.3,236.4,138.1,235.8,139.3,235.4C140.5,235.0,141.5,234.8,142.0,234.7M117.0,245.1C117.5,244.4,119.0,242.3,120.0,241.3C121.0,240.4,122.0,239.7,122.9,239.1C123.9,238.5,125.4,237.9,125.9,237.6M117.0,247.3C117.6,247.0,119.5,246.1,120.7,245.4C122.0,244.8,123.1,244.1,124.4,243.6C125.8,243.0,127.4,242.6,128.9,242.1C130.4,241.6,131.9,241.2,133.3,240.6C134.8,240.0,136.4,239.1,137.8,238.4C139.2,237.6,141.3,236.5,142.0,236.1M125.9,249.0C126.4,248.6,127.9,247.5,128.9,246.5C129.9,245.6,130.9,244.6,131.9,243.6C132.8,242.6,133.8,241.5,134.8,240.6C135.8,239.7,136.9,239.1,137.8,238.4C138.7,237.6,139.3,236.8,140.0,236.1C140.7,235.5,141.6,234.9,142.0,234.7M117.0,240.6C117.5,241.1,119.0,242.6,120.0,243.6C121.0,244.6,122.1,245.6,122.9,246.5C123.8,247.5,124.8,248.6,125.2,249.0M153.1,199.0C153.5,199.6,154.6,201.2,155.4,202.7C156.1,204.2,156.9,206.2,157.6,207.9C158.3,209.6,159.1,211.5,159.8,213.1C160.6,214.7,161.3,216.2,162.1,217.6C162.8,218.9,163.5,220.3,164.3,221.3C165.1,222.3,166.5,223.1,167.0,223.5M156.1,199.0C156.6,199.4,158.0,200.6,159.1,201.2C160.2,201.8,161.5,202.3,162.8,202.7C164.1,203.1,166.3,203.3,167.0,203.5M157.6,199.0C158.2,199.4,160.2,200.5,161.3,201.2C162.4,202.0,163.3,202.6,164.3,203.5C165.2,204.3,166.5,205.9,167.0,206.4M153.1,204.9C153.8,204.8,155.6,204.4,156.9,204.2C158.1,204.0,159.3,203.8,160.6,203.5C161.8,203.1,163.2,202.5,164.3,202.0C165.4,201.5,166.5,200.7,167.0,200.5M142.0,214.6C142.5,214.6,143.9,214.7,145.0,214.6C146.0,214.5,147.2,214.5,148.3,214.2C149.4,214.0,150.5,213.5,151.7,213.1C152.8,212.7,154.1,212.1,155.4,211.6C156.6,211.1,157.8,210.6,159.1,210.1C160.3,209.6,161.5,209.3,162.8,208.7C164.1,208.0,166.3,206.8,167.0,206.4M142.0,216.5C142.5,216.6,143.9,217.1,145.0,217.6C146.0,218.0,147.0,219.1,148.3,219.1C149.7,219.1,151.7,218.2,153.1,217.6C154.6,217.0,156.2,215.7,156.9,215.3M142.0,223.1C142.5,223.0,143.9,222.5,145.0,222.0C146.0,221.5,147.0,220.9,148.3,220.2C149.7,219.4,151.7,218.4,153.1,217.6C154.6,216.7,155.5,216.0,156.9,215.0C158.2,214.0,159.6,212.8,161.3,211.6C163.0,210.5,166.0,208.5,167.0,207.9M142.0,229.5C142.5,229.4,143.9,229.1,145.0,229.1C146.0,229.1,147.2,229.6,148.3,229.5C149.4,229.3,150.5,228.5,151.7,228.0C152.8,227.5,154.1,226.7,155.4,226.5C156.6,226.2,157.8,226.2,159.1,226.5C160.3,226.7,161.5,227.5,162.8,228.0C164.1,228.5,166.3,229.2,167.0,229.5M142.0,230.6C142.5,230.5,143.9,230.3,145.0,230.2C146.0,230.1,147.1,230.5,148.3,230.2C149.6,230.0,151.0,229.0,152.4,228.7C153.8,228.4,155.4,228.2,156.9,228.3C158.3,228.5,160.1,228.9,161.3,229.5C162.6,230.0,163.3,230.9,164.3,231.7C165.2,232.4,166.5,233.5,167.0,233.9M142.0,232.4C142.5,232.4,143.9,232.2,145.0,232.1C146.0,231.9,147.2,231.5,148.3,231.7C149.4,231.9,150.6,232.6,151.7,233.2C152.7,233.8,153.5,234.7,154.6,235.4C155.7,236.1,157.1,237.0,158.3,237.6C159.6,238.3,160.6,238.7,162.1,239.1C163.5,239.5,166.1,239.7,167.0,239.9M142.0,233.9C142.5,233.9,143.9,233.9,145.0,233.9C146.0,233.9,147.2,233.7,148.3,233.9C149.4,234.2,150.5,234.7,151.7,235.4C152.8,236.1,154.3,237.5,155.4,238.4C156.5,239.2,157.1,240.0,158.3,240.6C159.6,241.2,161.4,241.7,162.8,242.1C164.2,242.5,166.3,242.7,167.0,242.8M142.0,236.1C142.5,236.1,143.9,235.8,145.0,235.8C146.0,235.8,147.2,235.8,148.3,236.1C149.4,236.5,150.5,236.9,151.7,237.6C152.8,238.4,154.1,239.6,155.4,240.6C156.6,241.6,157.7,242.7,159.1,243.6C160.4,244.4,162.2,245.3,163.5,245.8C164.9,246.3,166.4,246.4,167.0,246.5M142.0,239.9C142.5,240.0,143.9,240.5,145.0,240.6C146.0,240.7,147.3,240.4,148.3,240.6C149.3,240.9,150.1,241.3,150.9,242.1C151.7,242.8,152.5,243.9,153.1,245.1C153.8,246.2,154.4,248.3,154.6,249.0M142.0,237.6C142.5,237.6,143.9,237.6,145.0,237.6C146.0,237.6,147.2,237.4,148.3,237.6C149.4,237.8,150.2,238.3,151.7,238.7C153.1,239.2,155.2,239.9,156.9,240.6C158.5,241.3,159.6,242.1,161.3,242.8C163.0,243.6,166.0,244.7,167.0,245.1M148.3,242.1C148.6,242.3,149.6,243.0,150.2,243.6C150.7,244.2,151.2,244.9,151.7,245.8C152.2,246.7,152.9,248.5,153.1,249.0M156.9,227.2C157.6,227.7,160.1,229.0,161.3,230.2C162.6,231.4,163.7,233.2,164.3,234.7C164.9,236.1,164.9,238.4,165.0,239.1M167.0,200.5C167.7,200.4,170.0,200.2,171.5,200.1C172.9,200.0,174.4,199.9,175.9,199.7C177.4,199.6,179.1,199.5,180.4,199.4C181.7,199.2,183.2,199.1,183.7,199.0M167.0,206.4C167.7,206.2,170.0,205.5,171.5,204.9C172.9,204.4,174.4,203.7,175.9,203.1C177.4,202.5,179.1,201.7,180.4,201.2C181.7,200.7,182.5,200.5,183.7,200.1C185.0,199.7,187.1,199.2,187.8,199.0M167.0,201.2C167.7,201.2,170.0,201.4,171.5,201.2C172.9,201.1,174.7,200.9,175.9,200.5C177.2,200.1,178.4,199.2,178.9,199.0M167.0,207.9C167.6,208.4,169.5,210.0,170.7,210.9C172.0,211.8,173.2,212.7,174.4,213.5C175.7,214.3,176.9,215.2,178.1,215.7C179.4,216.2,180.7,216.4,181.9,216.5C183.0,216.5,183.8,216.8,184.8,216.1C185.8,215.4,186.8,213.5,187.8,212.4C188.8,211.3,190.1,210.1,190.8,209.4C191.5,208.7,191.8,208.2,192.0,207.9M183.7,200.1C184.3,200.4,186.0,201.4,187.1,202.0C188.1,202.5,189.2,203.1,190.0,203.5C190.8,203.8,191.6,204.1,192.0,204.2M167.0,220.5C167.7,220.3,170.0,219.6,171.5,219.1C172.9,218.6,174.4,217.9,175.9,217.6C177.4,217.2,179.1,217.0,180.4,216.8C181.7,216.7,182.7,216.6,183.7,216.8C184.7,217.1,185.4,217.7,186.3,218.3C187.2,218.9,188.3,220.1,189.3,220.5C190.2,221.0,191.5,221.2,192.0,221.3M167.0,224.3C167.6,224.3,169.5,224.8,170.7,224.6C172.0,224.5,173.2,224.1,174.4,223.5C175.7,223.0,176.9,222.0,178.1,221.3C179.4,220.6,180.7,219.9,181.9,219.4C183.0,219.0,183.8,218.7,184.8,218.7C185.8,218.6,186.6,218.9,187.8,219.1C189.0,219.2,191.3,219.7,192.0,219.8M167.0,230.9C167.7,230.8,170.0,230.5,171.5,230.2C172.9,230.0,174.4,229.7,175.9,229.5C177.4,229.2,179.1,228.8,180.4,228.7C181.7,228.6,182.5,228.8,183.7,228.7C185.0,228.7,186.4,228.4,187.8,228.3C189.2,228.3,191.3,228.3,192.0,228.3M167.0,233.2C167.7,233.0,170.0,232.0,171.5,232.1C172.9,232.1,174.4,233.0,175.9,233.5C177.4,234.1,179.0,234.8,180.4,235.4C181.7,236.0,182.8,236.4,184.1,236.9C185.3,237.4,186.5,238.0,187.8,238.4C189.1,238.7,191.3,239.0,192.0,239.1M167.0,239.1C167.4,238.6,168.5,237.0,169.2,236.1C170.0,235.3,170.6,233.9,171.5,233.9C172.3,233.9,173.4,235.3,174.4,236.1C175.4,237.0,176.4,238.3,177.4,239.1C178.4,240.0,179.3,240.7,180.4,241.3C181.5,242.0,182.8,242.5,184.1,242.8C185.3,243.2,186.5,243.3,187.8,243.6C189.1,243.8,191.3,244.2,192.0,244.3M184.1,236.9C184.5,236.1,185.6,233.8,186.3,232.4C187.1,231.1,187.8,229.8,188.5,228.7C189.3,227.6,190.2,226.4,190.8,225.7C191.3,225.1,191.8,224.8,192.0,224.6M167.0,242.1C167.7,242.1,170.0,242.1,171.5,242.1C172.9,242.1,174.4,242.0,175.9,242.1C177.4,242.2,179.1,242.3,180.4,242.5C181.7,242.6,182.7,242.9,183.7,242.8C184.7,242.8,185.4,242.5,186.3,242.1C187.2,241.7,188.3,241.1,189.3,240.6C190.2,240.1,191.5,239.4,192.0,239.1M167.0,245.1C167.7,245.0,170.0,244.8,171.5,244.7C172.9,244.6,174.4,244.4,175.9,244.3C177.4,244.2,179.1,244.1,180.4,243.9C181.7,243.8,182.6,243.5,183.7,243.6C184.8,243.6,185.9,243.9,187.1,244.3C188.2,244.7,190.0,245.4,190.8,245.8C191.6,246.2,191.8,246.4,192.0,246.5M167.0,247.3C167.7,247.4,170.0,247.5,171.5,247.7C172.9,247.8,174.8,248.2,175.9,248.4C177.0,248.6,177.8,248.9,178.1,249.0M184.8,243.6C185.3,243.1,186.8,241.5,187.8,240.6C188.8,239.7,190.1,238.9,190.8,238.4C191.5,237.9,191.8,237.8,192.0,237.6M192.0,204.6C192.4,204.1,193.5,202.9,194.2,202.0C194.9,201.0,195.8,199.5,196.1,199.0M212.1,199.0C212.4,199.5,213.5,201.0,214.3,202.0C215.0,203.0,215.9,204.2,216.5,204.9C217.1,205.7,217.8,206.2,218.0,206.4M213.5,199.0C213.9,199.4,215.0,200.5,215.8,201.2C216.5,202.0,217.6,203.1,218.0,203.5M192.0,206.4C192.6,206.2,194.5,205.4,195.7,204.9C197.0,204.5,198.0,204.1,199.4,203.8C200.9,203.6,202.6,203.5,204.3,203.5C205.9,203.4,207.5,203.5,209.1,203.5C210.6,203.5,212.1,203.5,213.5,203.5C215.0,203.4,217.3,203.1,218.0,203.1M192.0,207.9C192.6,207.7,194.5,206.7,195.7,206.4C197.0,206.2,198.0,206.2,199.4,206.4C200.9,206.7,202.6,207.7,204.3,207.9C205.9,208.1,207.5,207.8,209.1,207.5C210.6,207.3,212.1,206.7,213.5,206.4C215.0,206.2,217.3,206.1,218.0,206.1M192.0,221.3C192.6,220.8,194.5,219.2,195.7,218.3C197.0,217.4,198.0,216.6,199.4,216.1C200.9,215.6,202.6,215.3,204.3,215.3C205.9,215.4,207.5,216.0,209.1,216.5C210.6,217.0,212.1,217.8,213.5,218.3C215.0,218.9,217.3,219.6,218.0,219.8M192.0,222.8C192.6,222.5,194.5,221.5,195.7,220.9C197.0,220.4,198.0,219.9,199.4,219.4C200.9,219.0,202.6,218.4,204.3,218.3C205.9,218.2,207.5,218.4,209.1,218.7C210.6,219.0,212.1,219.7,213.5,220.2C215.0,220.6,217.3,221.1,218.0,221.3M192.0,225.7C192.6,226.0,194.5,226.7,195.7,227.2C197.0,227.8,198.0,228.7,199.4,229.1C200.9,229.5,202.6,229.4,204.3,229.5C205.9,229.5,207.5,229.5,209.1,229.5C210.6,229.5,212.1,229.6,213.5,229.5C215.0,229.3,217.3,228.8,218.0,228.7M192.0,228.0C192.6,228.1,194.5,228.4,195.7,228.7C197.0,229.0,198.0,229.6,199.4,229.8C200.9,230.1,202.6,230.1,204.3,230.2C205.9,230.3,207.5,230.2,209.1,230.2C210.6,230.2,212.1,230.3,213.5,230.2C215.0,230.1,217.3,229.6,218.0,229.5M192.0,239.1C192.5,238.7,194.0,237.6,195.0,236.9C196.0,236.1,196.8,235.3,197.9,234.7C199.1,234.0,200.6,233.4,201.7,233.2C202.7,232.9,203.0,233.1,204.3,233.2C205.5,233.3,207.5,233.7,209.1,233.9C210.6,234.2,212.1,234.7,213.5,234.7C215.0,234.7,217.3,234.0,218.0,233.9M192.0,240.6C192.5,240.2,194.0,239.1,195.0,238.4C196.0,237.6,196.8,236.9,197.9,236.1C199.1,235.4,200.6,234.3,201.7,233.9C202.7,233.5,203.0,233.9,204.3,233.9C205.5,234.0,207.5,234.0,209.1,234.3C210.6,234.5,212.3,234.8,213.5,235.4C214.8,236.0,215.8,237.0,216.5,237.6C217.3,238.3,217.8,238.9,218.0,239.1M192.0,245.1C192.7,244.9,195.0,244.5,196.5,244.3C197.9,244.1,199.6,244.0,200.9,243.9C202.2,243.9,202.9,244.0,204.3,243.9C205.6,243.9,207.5,243.8,209.1,243.6C210.6,243.4,212.1,243.1,213.5,242.8C215.0,242.5,217.3,241.9,218.0,241.7M192.0,247.3C192.7,247.2,195.0,247.0,196.5,246.9C197.9,246.8,199.6,246.5,200.9,246.5C202.2,246.6,202.9,247.0,204.3,247.3C205.6,247.5,207.5,248.0,209.1,248.0C210.6,248.0,212.1,247.7,213.5,247.3C215.0,246.9,217.3,246.1,218.0,245.8M218.0,199.7C218.7,199.8,221.0,200.0,222.5,200.1C223.9,200.2,225.4,200.5,226.9,200.5C228.4,200.5,229.9,200.2,231.4,200.1C232.9,200.0,234.3,199.9,235.8,199.7C237.3,199.6,239.5,199.4,240.3,199.4M218.0,203.1C218.7,203.4,221.0,204.4,222.5,204.9C223.9,205.4,225.4,205.4,226.9,206.1C228.4,206.7,230.1,207.8,231.4,208.7C232.6,209.5,233.2,210.6,234.3,211.3C235.5,211.9,236.7,212.0,238.1,212.4C239.4,212.7,241.2,213.2,242.5,213.5C243.8,213.7,245.4,213.8,246.0,213.9M240.3,199.0C239.9,199.7,238.8,201.8,238.1,203.5C237.3,205.1,236.6,206.9,235.8,208.7C235.1,210.4,234.3,212.4,233.6,213.9C232.9,215.3,232.2,216.5,231.4,217.6C230.5,218.7,229.5,219.7,228.4,220.5C227.3,221.4,225.9,222.5,224.7,222.8C223.4,223.0,222.1,222.4,221.0,222.0C219.9,221.7,218.5,220.8,218.0,220.5M218.0,206.1C218.7,206.1,221.0,206.4,222.5,206.4C223.9,206.5,225.4,206.2,226.9,206.4C228.4,206.7,230.1,207.2,231.4,207.9C232.6,208.7,233.8,210.4,234.3,210.9M218.0,208.7C218.5,209.2,220.0,210.8,221.0,211.6C222.0,212.5,223.0,213.2,223.9,213.9C224.9,214.5,225.8,214.9,226.9,215.3C228.0,215.8,229.4,216.7,230.6,216.5C231.9,216.2,233.7,214.3,234.3,213.9M234.3,213.9C235.0,214.2,236.7,215.3,238.1,216.1C239.4,216.8,241.2,217.8,242.5,218.3C243.8,218.8,245.4,218.9,246.0,219.1M218.0,230.9C218.6,230.6,220.5,229.5,221.7,228.7C223.0,228.0,224.1,227.1,225.4,226.5C226.8,225.9,228.4,225.2,229.9,225.0C231.4,224.8,232.9,225.0,234.3,225.4C235.8,225.7,237.4,226.6,238.8,227.2C240.2,227.9,241.3,229.0,242.5,229.5C243.7,230.0,245.4,230.1,246.0,230.2M218.0,228.7C218.6,228.7,220.5,228.4,221.7,228.3C223.0,228.3,224.1,228.5,225.4,228.3C226.8,228.2,228.4,227.5,229.9,227.2C231.4,227.0,232.9,226.9,234.3,226.9C235.8,226.9,237.4,227.0,238.8,227.2C240.2,227.4,241.3,227.8,242.5,228.0C243.7,228.2,245.4,228.3,246.0,228.3M218.0,225.7C218.5,225.6,220.0,225.3,221.0,225.0C222.0,224.8,222.8,224.5,223.9,224.3C225.1,224.0,226.2,223.6,227.7,223.5C229.1,223.5,231.2,223.6,232.9,223.9C234.5,224.1,235.8,224.6,237.3,225.0C238.8,225.4,240.3,226.1,241.8,226.5C243.2,226.9,245.3,227.1,246.0,227.2M218.0,236.1C218.5,236.4,220.0,237.1,221.0,237.6C222.0,238.1,222.8,238.8,223.9,239.1C225.1,239.4,226.5,239.6,227.7,239.5C228.8,239.4,229.6,239.3,230.6,238.4C231.6,237.4,232.6,235.2,233.6,233.9C234.6,232.7,235.5,231.6,236.6,230.9C237.7,230.3,238.7,230.2,240.3,230.2C241.9,230.2,245.1,230.8,246.0,230.9M218.0,239.1C218.5,239.3,220.0,240.0,221.0,240.2C222.0,240.5,222.8,240.6,223.9,240.6C225.1,240.6,226.4,240.5,227.7,240.2C228.9,240.0,230.1,239.7,231.4,239.1C232.6,238.6,233.8,237.6,235.1,236.9C236.3,236.1,237.6,235.3,238.8,234.7C240.0,234.0,241.3,233.5,242.5,233.2C243.7,232.9,245.4,232.9,246.0,232.8M232.9,246.5C233.4,246.1,234.8,244.4,235.8,243.6C236.8,242.7,237.8,242.0,238.8,241.3C239.8,240.7,240.6,240.2,241.8,239.9C243.0,239.5,245.3,239.2,246.0,239.1M234.3,248.0C234.8,247.7,236.3,246.5,237.3,245.8C238.3,245.1,239.3,244.2,240.3,243.6C241.3,243.0,242.3,242.4,243.3,242.1C244.2,241.8,245.6,241.8,246.0,241.7M236.6,249.0C237.1,248.6,238.6,247.3,239.5,246.5C240.5,245.8,241.4,244.9,242.5,244.3C243.6,243.8,245.4,243.4,246.0,243.2M218.0,243.6C218.7,243.5,221.0,242.8,222.5,242.8C223.9,242.8,225.6,243.2,226.9,243.6C228.3,243.9,229.4,244.4,230.6,245.1C231.9,245.7,233.2,246.6,234.3,247.3C235.5,247.9,236.8,248.7,237.3,249.0M218.0,246.5C218.7,246.4,221.0,245.8,222.5,245.8C223.9,245.8,225.7,246.2,226.9,246.5C228.2,246.9,229.1,247.6,229.9,248.0C230.6,248.4,231.1,248.8,231.4,249.0M49.1,245.0C49.6,245.5,50.9,246.8,52.0,247.9C53.1,248.9,54.4,250.3,55.6,251.4C56.7,252.5,58.0,253.3,59.1,254.3C60.2,255.2,61.0,255.9,62.0,257.1C62.9,258.3,64.0,260.1,64.8,261.4C65.7,262.7,66.7,264.4,67.0,265.0M50.6,245.0C51.0,245.6,52.3,247.4,53.4,248.6C54.5,249.8,55.8,250.9,57.0,252.1C58.2,253.3,59.5,254.5,60.5,255.7C61.6,256.9,62.4,258.0,63.4,259.3C64.3,260.6,65.6,262.6,66.2,263.5C66.9,264.5,66.9,264.7,67.0,265.0M55.6,245.0C56.1,245.4,57.9,246.5,59.1,247.1C60.3,247.7,61.4,248.2,62.7,248.6C64.0,248.9,66.3,249.2,67.0,249.3M58.4,245.0C59.0,245.2,60.5,246.1,62.0,246.4C63.4,246.8,66.2,247.0,67.0,247.1M42.0,250.7C42.6,251.1,44.4,252.0,45.6,252.8C46.8,253.7,47.9,255.0,49.1,255.7C50.3,256.4,51.5,256.6,52.7,257.1C53.9,257.6,55.1,258.1,56.3,258.6C57.5,259.0,58.6,259.5,59.8,260.0C61.0,260.5,62.2,260.9,63.4,261.4C64.6,261.9,66.4,262.6,67.0,262.8M43.4,258.6C44.4,258.2,47.3,257.2,49.1,256.4C50.9,255.6,52.7,254.3,54.1,253.6C55.6,252.8,56.4,252.6,57.7,252.1C59.0,251.7,60.4,251.1,62.0,250.7C63.5,250.3,66.2,250.1,67.0,250.0M42.0,259.3C42.6,259.0,44.4,258.3,45.6,257.8C46.8,257.4,47.9,256.9,49.1,256.4C50.3,255.9,51.5,255.6,52.7,255.0C53.9,254.4,55.1,253.6,56.3,252.8C57.5,252.1,58.6,251.3,59.8,250.7C61.0,250.1,62.2,249.6,63.4,249.3C64.6,248.9,66.4,248.7,67.0,248.6M42.0,260.3C42.7,260.2,44.9,259.3,46.3,259.3C47.7,259.3,49.4,259.6,50.6,260.3C51.7,261.0,52.5,262.5,53.4,263.5C54.4,264.6,55.3,265.6,56.3,266.4C57.2,267.2,58.2,267.8,59.1,268.5C60.1,269.2,61.0,270.0,62.0,270.7C62.9,271.4,64.0,272.2,64.8,272.8C65.7,273.4,66.7,274.0,67.0,274.2M42.0,260.0C42.7,259.8,44.9,259.1,46.3,258.9C47.7,258.7,49.1,258.5,50.6,258.6C52.0,258.6,53.6,258.8,54.8,259.3C56.0,259.7,56.9,260.5,57.7,261.4C58.5,262.4,59.1,263.8,59.8,265.0C60.5,266.2,61.3,267.5,62.0,268.5C62.7,269.6,63.3,270.4,64.1,271.4C65.0,272.3,66.5,273.8,67.0,274.2M42.0,277.8C42.6,277.7,44.4,277.6,45.6,277.1C46.8,276.6,47.8,275.5,49.1,275.0C50.4,274.4,52.0,274.0,53.4,273.5C54.8,273.1,56.5,272.3,57.7,272.1C58.9,271.9,59.6,272.0,60.5,272.5C61.5,272.9,62.6,274.1,63.4,275.0C64.2,275.8,64.9,277.1,65.5,277.8C66.1,278.5,66.8,279.0,67.0,279.2M42.0,277.2C42.6,277.1,44.4,277.0,45.6,276.5C46.8,276.0,47.8,275.0,49.1,274.4C50.4,273.8,52.0,273.4,53.4,273.0C54.8,272.5,56.5,271.7,57.7,271.5C58.9,271.4,59.6,271.4,60.5,271.9C61.5,272.4,62.6,273.5,63.4,274.4C64.2,275.3,64.9,276.5,65.5,277.2C66.1,278.0,66.8,278.4,67.0,278.7M47.7,290.6C48.3,289.8,50.1,287.2,51.3,285.7C52.5,284.1,53.8,282.4,54.8,281.4C55.9,280.3,56.7,279.4,57.7,279.2C58.6,279.1,59.6,279.7,60.5,280.7C61.5,281.6,62.6,283.5,63.4,284.9C64.2,286.4,65.1,288.3,65.5,289.2C66.0,290.2,66.1,290.4,66.2,290.6M48.8,290.6C49.3,289.9,50.9,287.4,52.0,286.0C53.1,284.6,54.2,283.1,55.2,282.1C56.1,281.1,56.9,280.2,57.7,280.1C58.5,280.0,59.3,280.6,60.2,281.5C61.0,282.4,62.0,284.1,62.8,285.5C63.6,286.9,64.6,289.1,65.0,289.9C65.4,290.8,65.2,290.5,65.3,290.6M49.8,290.6C50.3,290.0,51.7,288.0,52.7,286.7C53.6,285.4,54.7,283.8,55.6,282.8C56.4,281.8,57.0,281.1,57.7,281.0C58.4,281.0,59.1,281.6,59.8,282.4C60.6,283.3,61.6,284.6,62.3,286.0C63.1,287.4,63.9,289.9,64.3,290.6M59.1,270.0C59.7,269.8,61.4,269.6,62.7,269.2C64.0,268.9,66.3,268.1,67.0,267.8M67.0,245.4C67.7,245.7,69.9,246.6,71.3,247.1C72.7,247.7,74.1,248.2,75.6,248.6C77.0,248.9,78.5,249.1,79.8,249.3C81.2,249.4,82.5,249.5,83.8,249.4C85.1,249.4,86.3,249.2,87.7,248.9C89.1,248.7,91.3,248.0,92.0,247.9M68.4,245.0C69.1,245.6,71.4,247.4,72.7,248.6C74.0,249.8,75.1,250.9,76.3,252.1C77.5,253.3,78.6,254.5,79.8,255.7C81.1,256.9,82.5,258.2,83.8,259.3C85.1,260.3,86.3,261.2,87.7,262.1C89.1,263.1,91.3,264.5,92.0,265.0M67.0,252.1C67.7,252.3,69.9,252.5,71.3,252.8C72.7,253.2,74.1,253.7,75.6,254.3C77.0,254.9,78.5,255.5,79.8,256.4C81.2,257.4,82.6,259.9,83.8,260.0C84.9,260.1,85.8,258.1,87.0,257.1C88.1,256.2,89.7,255.0,90.5,254.3C91.4,253.6,91.8,253.1,92.0,252.8M67.0,258.2C68.2,257.8,72.0,256.2,74.1,255.7C76.3,255.2,78.2,255.3,79.8,255.3C81.4,255.4,82.5,255.7,83.8,256.1C85.1,256.4,86.3,256.9,87.7,257.5C89.1,258.0,91.3,259.0,92.0,259.3M83.8,261.4C84.3,261.0,85.8,260.0,87.0,259.3C88.1,258.6,89.7,257.7,90.5,257.1C91.4,256.5,91.8,255.9,92.0,255.7M67.0,265.7C67.6,266.0,69.4,267.3,70.6,267.8C71.8,268.4,72.9,269.0,74.1,268.9C75.3,268.8,76.5,267.9,77.7,267.1C78.9,266.3,80.3,265.1,81.3,264.3C82.3,263.4,82.7,262.1,83.8,262.1C84.8,262.1,86.6,263.3,87.7,264.3C88.8,265.2,89.8,266.9,90.5,267.8C91.3,268.8,91.8,269.6,92.0,270.0M67.0,266.4C67.6,266.8,69.4,268.2,70.6,268.9C71.8,269.5,72.9,270.4,74.1,270.3C75.3,270.3,76.5,269.3,77.7,268.5C78.9,267.8,80.3,266.6,81.3,265.7C82.3,264.7,82.8,262.8,83.8,262.8C84.7,262.8,85.8,264.5,87.0,265.7C88.1,266.9,89.7,268.9,90.5,270.0C91.4,271.0,91.8,271.7,92.0,272.1M67.0,265.0C67.7,265.3,70.0,266.6,71.3,267.1C72.6,267.6,73.7,268.1,74.8,267.8C76.0,267.6,77.2,266.5,78.4,265.7C79.6,264.9,81.1,263.8,82.0,263.2C82.9,262.5,83.5,262.0,83.8,261.8M67.0,275.0C67.6,275.5,69.4,277.3,70.6,278.5C71.8,279.7,72.9,281.0,74.1,282.1C75.3,283.2,76.5,284.2,77.7,284.9C78.9,285.7,80.3,286.1,81.3,286.4C82.3,286.7,82.7,287.0,83.8,286.7C84.8,286.5,86.6,285.7,87.7,284.9C88.8,284.2,89.8,282.8,90.5,282.1C91.3,281.4,91.8,280.9,92.0,280.7M67.0,279.2C67.6,279.8,69.4,281.7,70.6,282.8C71.8,283.9,72.9,284.7,74.1,285.7C75.3,286.6,76.6,287.7,77.7,288.5C78.8,289.3,80.1,290.3,80.6,290.6M67.0,280.7C67.5,281.3,68.9,283.0,69.9,284.2C70.8,285.4,71.9,286.7,72.7,287.8C73.5,288.9,74.5,290.2,74.8,290.6M83.8,287.4C84.2,287.7,85.5,288.7,86.3,289.2C87.0,289.8,88.0,290.4,88.4,290.6M88.4,290.6C88.8,290.2,89.9,288.6,90.5,287.8C91.1,287.0,91.8,286.0,92.0,285.7M83.8,264.3C84.3,264.6,85.8,265.7,87.0,266.4C88.1,267.1,89.7,268.0,90.5,268.5C91.4,269.1,91.8,269.4,92.0,269.6M83.8,261.4C84.4,261.4,86.3,261.3,87.7,261.4C89.1,261.5,91.3,261.7,92.0,261.8M92.0,246.4C92.7,246.3,94.9,245.9,96.3,245.7C97.7,245.5,99.3,245.4,100.6,245.4C101.8,245.3,102.5,245.3,103.8,245.4C105.1,245.4,106.9,245.5,108.4,245.7C109.9,245.9,111.2,246.2,112.7,246.4C114.1,246.6,116.3,246.7,117.0,246.8M92.0,247.9C92.7,247.8,95.1,247.3,96.3,247.5C97.5,247.7,98.2,248.6,99.1,249.3C100.1,249.9,101.2,251.0,102.0,251.4C102.8,251.8,102.7,251.9,103.8,251.8C104.8,251.7,106.9,251.2,108.4,250.7C109.9,250.2,111.6,249.4,112.7,248.9C113.8,248.4,114.1,248.2,114.8,247.9C115.5,247.6,116.7,247.3,117.0,247.1M92.0,252.1C92.5,251.8,93.9,250.6,94.9,250.0C95.8,249.3,96.9,248.3,97.7,248.2C98.5,248.1,99.1,248.7,99.8,249.3C100.6,249.8,101.6,251.1,102.0,251.4M92.0,257.5C92.7,257.5,94.9,257.7,96.3,257.8C97.7,258.0,99.3,258.3,100.6,258.6C101.8,258.8,102.8,259.0,103.8,259.3C104.7,259.5,105.3,259.7,106.3,260.0C107.3,260.2,108.6,260.6,109.8,260.7C111.0,260.8,112.2,260.4,113.4,260.3C114.6,260.3,116.4,260.3,117.0,260.3M92.0,259.3C92.7,259.4,94.9,259.7,96.3,260.0C97.7,260.2,99.3,260.5,100.6,260.7C101.8,260.9,102.7,261.5,103.8,261.4C104.8,261.3,106.0,260.7,107.0,260.0C108.0,259.3,109.0,258.3,109.8,257.1C110.7,255.9,111.3,254.2,112.0,252.8C112.7,251.5,113.4,250.2,114.1,249.3C114.8,248.3,115.8,247.6,116.2,247.1C116.7,246.7,116.9,246.5,117.0,246.4M92.0,261.4C92.7,261.5,94.9,261.6,96.3,261.8C97.7,261.9,99.3,262.1,100.6,262.1C101.8,262.1,102.6,262.0,103.8,261.8C105.0,261.5,106.3,260.9,107.7,260.7C109.1,260.5,110.4,260.4,112.0,260.3C113.5,260.3,116.2,260.3,117.0,260.3M92.0,266.4C92.7,266.5,94.9,266.9,96.3,267.1C97.7,267.3,99.3,267.8,100.6,267.8C101.8,267.8,102.6,267.3,103.8,267.1C105.0,266.9,106.3,266.6,107.7,266.4C109.1,266.2,110.4,265.9,112.0,265.7C113.5,265.4,116.2,265.1,117.0,265.0M92.0,263.5C92.7,263.6,94.9,263.7,96.3,263.9C97.7,264.1,99.3,264.6,100.6,265.0C101.8,265.4,103.2,266.2,103.8,266.4M92.0,268.5C92.5,268.8,93.9,269.4,94.9,270.0C95.8,270.6,96.8,272.0,97.7,272.1C98.7,272.2,99.5,271.1,100.6,270.7C101.6,270.3,102.6,269.7,103.8,269.6C105.0,269.5,106.3,269.8,107.7,270.0C109.1,270.1,110.8,270.4,112.0,270.3C113.2,270.2,114.0,269.7,114.8,269.2C115.7,268.8,116.7,268.1,117.0,267.8M92.0,270.0C92.5,270.2,93.9,270.9,94.9,271.4C95.8,271.9,96.6,272.8,97.7,272.8C98.8,272.8,100.3,271.9,101.3,271.4C102.3,270.9,102.7,270.0,103.8,270.0C104.8,270.0,106.3,271.1,107.7,271.4C109.1,271.7,110.4,271.9,112.0,271.7C113.5,271.6,116.2,270.9,117.0,270.7M92.0,273.5C92.5,273.8,93.9,274.5,94.9,275.0C95.8,275.4,96.8,275.9,97.7,276.4C98.7,276.9,99.5,277.5,100.6,277.8C101.6,278.2,102.6,278.5,103.8,278.5C105.0,278.5,106.4,278.2,107.7,277.8C108.9,277.5,110.1,277.1,111.3,276.4C112.4,275.7,113.9,274.4,114.8,273.5C115.8,272.7,116.7,271.7,117.0,271.4M92.0,276.4C92.4,276.0,93.4,274.8,94.1,274.2C94.9,273.6,95.4,273.3,96.3,272.8C97.1,272.3,97.9,271.9,99.1,271.4C100.4,270.9,103.0,269.9,103.8,269.6M92.0,279.2C92.4,278.9,93.4,277.8,94.1,277.1C94.9,276.4,95.6,275.5,96.3,275.0C97.0,274.4,98.1,273.8,98.4,273.5M92.0,282.1C92.4,281.7,93.4,280.7,94.1,279.9C94.9,279.2,95.6,278.4,96.3,277.8C97.0,277.2,97.7,276.7,98.4,276.4C99.1,276.0,100.2,275.8,100.6,275.7M92.0,284.9C92.5,284.5,93.9,282.9,94.9,282.1C95.8,281.3,96.8,280.5,97.7,279.9C98.7,279.4,99.5,278.8,100.6,278.5C101.6,278.3,103.2,278.5,103.8,278.5M92.0,286.4C92.5,285.9,93.9,284.5,94.9,283.5C95.8,282.6,97.2,281.1,97.7,280.7M114.8,290.6C115.1,290.2,115.9,288.5,116.2,287.8C116.6,287.1,116.9,286.6,117.0,286.4M117.0,245.7C117.6,245.8,119.4,245.8,120.6,246.1C121.8,246.3,123.1,246.7,124.1,247.1C125.2,247.6,126.0,248.6,127.0,248.6C127.9,248.6,129.1,247.7,129.8,247.1C130.6,246.5,131.0,245.4,131.3,245.0M117.0,246.8C117.6,246.8,119.4,246.8,120.6,247.1C121.8,247.4,123.2,248.2,124.1,248.6C125.1,249.0,125.6,249.8,126.3,249.6C127.0,249.5,127.7,248.5,128.4,247.9C129.1,247.2,130.1,246.2,130.6,245.7C131.0,245.2,131.1,245.1,131.3,245.0M126.3,249.6C125.9,250.2,125.0,251.6,124.1,252.8C123.3,254.1,122.2,255.9,121.3,257.1C120.3,258.3,119.1,259.4,118.4,260.0C117.7,260.6,117.2,260.6,117.0,260.7M117.0,265.0C117.5,264.5,118.9,263.2,119.9,262.1C120.8,261.0,121.8,259.6,122.7,258.6C123.7,257.5,124.6,256.2,125.6,255.7C126.5,255.2,127.5,255.0,128.4,255.3C129.4,255.7,130.3,257.1,131.3,257.8C132.2,258.6,133.0,259.1,134.1,259.6C135.2,260.1,136.4,260.5,137.7,260.7C139.0,260.9,141.3,261.0,142.0,261.0M117.0,266.4C117.5,266.0,118.9,265.1,119.9,264.3C120.8,263.4,121.8,262.3,122.7,261.4C123.7,260.5,124.5,259.6,125.6,258.9C126.6,258.3,128.2,257.7,129.1,257.5C130.1,257.3,130.9,257.8,131.3,257.8M117.0,267.8C117.6,267.6,119.4,267.0,120.6,266.4C121.8,265.8,122.9,265.1,124.1,264.3C125.3,263.4,126.6,262.4,127.7,261.4C128.8,260.5,129.6,259.5,130.6,258.6C131.5,257.6,132.5,256.6,133.4,255.7C134.4,254.7,135.3,253.6,136.3,252.8C137.2,252.1,138.1,251.4,139.1,251.1C140.1,250.7,141.5,250.8,142.0,250.7M117.0,266.0C117.7,265.9,119.9,265.4,121.3,265.0C122.7,264.6,124.4,264.1,125.6,263.5C126.7,262.9,127.6,262.1,128.4,261.4C129.2,260.7,129.6,259.6,130.6,259.3C131.5,258.9,132.9,259.1,134.1,259.3C135.3,259.4,136.4,259.9,137.7,260.0C139.0,260.1,141.3,260.0,142.0,260.0M117.0,272.1C117.7,272.0,119.9,271.6,121.3,271.7C122.7,271.9,124.1,272.3,125.6,272.8C127.0,273.4,128.4,274.3,129.8,275.0C131.3,275.6,132.7,276.3,134.1,276.7C135.5,277.2,137.3,277.9,138.4,277.8C139.5,277.7,139.9,277.0,140.5,276.4C141.1,275.8,141.8,274.6,142.0,274.2M138.4,277.8C138.8,278.0,139.9,278.8,140.5,279.2C141.1,279.7,141.8,280.1,142.0,280.3M117.0,284.9C117.4,284.2,118.3,281.8,119.1,280.7C120.0,279.5,121.0,278.4,122.0,278.2C122.9,277.9,123.9,278.5,124.8,279.2C125.8,280.0,126.7,281.5,127.7,282.8C128.6,284.1,129.6,285.8,130.6,287.1C131.5,288.4,132.9,290.1,133.4,290.6M118.1,290.6C118.5,289.7,119.7,286.4,120.6,284.9C121.5,283.5,122.5,282.3,123.4,282.1C124.4,281.8,125.3,282.6,126.3,283.5C127.2,284.5,128.2,286.6,129.1,287.8C130.1,289.0,131.5,290.2,132.0,290.6M152.7,245.0C153.1,245.5,154.0,246.7,154.8,247.9C155.7,249.0,156.9,251.5,157.7,252.1C158.5,252.7,159.1,251.8,159.8,251.4C160.5,251.1,161.1,250.5,162.0,250.0C162.8,249.5,164.0,248.9,164.8,248.6C165.7,248.2,166.7,248.0,167.0,247.9M160.5,245.0C160.8,245.5,161.5,247.0,162.0,247.9C162.4,248.7,163.2,249.6,163.4,250.0M161.3,249.3C161.6,250.1,162.7,252.8,163.4,254.3C164.1,255.7,164.9,256.9,165.5,257.8C166.1,258.8,166.8,259.6,167.0,260.0M142.0,252.1C142.5,252.5,144.0,253.3,144.9,254.3C145.7,255.2,146.5,256.8,147.0,257.8C147.5,258.8,148.1,259.4,148.1,260.3C148.1,261.3,147.5,262.3,147.0,263.5C146.5,264.8,145.7,266.3,144.9,267.8C144.0,269.4,142.5,272.0,142.0,272.8M142.0,260.3C142.5,260.4,143.8,260.6,144.9,260.7C145.9,260.8,146.9,261.0,148.1,260.7C149.3,260.3,150.5,259.4,152.0,258.6C153.5,257.7,155.6,255.7,157.0,255.7C158.4,255.7,159.5,257.5,160.5,258.6C161.6,259.6,162.3,261.0,163.4,262.1C164.5,263.2,166.4,264.5,167.0,265.0M142.0,261.4C142.5,261.4,143.8,261.4,144.9,261.4C145.9,261.4,146.8,261.4,148.1,261.4C149.4,261.4,151.2,261.3,152.7,261.4C154.2,261.5,155.7,261.6,157.0,262.1C158.3,262.6,159.4,263.4,160.5,264.3C161.7,265.1,163.0,266.5,164.1,267.1C165.2,267.7,166.5,267.7,167.0,267.8M148.1,260.3C148.7,260.3,150.6,260.4,152.0,260.3C153.4,260.3,154.8,259.9,156.3,260.0C157.7,260.0,159.1,260.5,160.5,260.7C162.0,260.9,163.7,261.2,164.8,261.4C165.9,261.6,166.7,261.7,167.0,261.8M142.0,281.4C142.5,281.7,143.8,283.0,144.9,283.5C145.9,284.0,147.1,284.5,148.4,284.6C149.7,284.7,151.4,284.5,152.7,284.2C154.0,283.9,155.1,283.4,156.3,282.8C157.5,282.2,158.6,281.5,159.8,280.7C161.0,279.8,162.4,278.5,163.4,277.8C164.3,277.1,164.9,276.6,165.5,276.4C166.1,276.1,166.8,276.4,167.0,276.4M153.4,290.6C153.9,289.9,155.3,287.7,156.3,286.4C157.2,285.1,158.2,283.9,159.1,282.8C160.1,281.7,161.1,280.7,162.0,279.9C162.8,279.2,163.3,278.9,164.1,278.5C165.0,278.2,166.5,277.9,167.0,277.8M154.5,290.6C155.0,290.0,156.4,287.9,157.3,286.7C158.3,285.5,159.3,284.5,160.2,283.5C161.1,282.6,161.9,281.6,162.7,281.0C163.5,280.4,164.1,280.0,164.8,279.9C165.5,279.9,166.7,280.5,167.0,280.7M167.0,247.1C167.7,247.5,169.9,248.6,171.3,249.3C172.7,250.0,174.1,250.8,175.6,251.4C177.0,252.1,178.5,252.7,179.8,253.2C181.2,253.7,182.6,254.5,183.8,254.3C184.9,254.1,186.0,253.0,187.0,252.1C188.0,251.3,189.0,250.0,189.8,249.3C190.7,248.6,191.7,248.1,192.0,247.9M167.0,251.4C167.6,251.9,169.4,253.3,170.6,254.3C171.8,255.2,172.8,256.3,174.1,257.1C175.4,258.0,176.8,258.6,178.4,259.3C180.0,259.9,182.2,261.1,183.8,261.0C185.3,261.0,186.3,259.6,187.7,258.9C189.1,258.3,191.3,257.4,192.0,257.1M167.0,260.0C167.6,260.3,169.4,261.5,170.6,262.1C171.8,262.7,172.8,263.2,174.1,263.5C175.4,263.9,176.8,264.1,178.4,264.3C180.0,264.4,182.2,264.4,183.8,264.6C185.3,264.8,186.3,265.1,187.7,265.3C189.1,265.5,191.3,265.6,192.0,265.7M167.0,262.8C167.7,262.9,169.9,263.3,171.3,263.5C172.7,263.8,174.1,264.0,175.6,264.3C177.0,264.5,178.5,264.8,179.8,265.0C181.2,265.1,182.5,265.1,183.8,265.3C185.1,265.6,186.3,265.9,187.7,266.4C189.1,266.9,191.3,268.2,192.0,268.5M167.0,266.4C167.7,266.8,169.9,267.7,171.3,268.5C172.7,269.4,174.1,270.6,175.6,271.4C177.0,272.2,178.5,272.8,179.8,273.2C181.2,273.5,182.5,273.4,183.8,273.5C185.1,273.7,186.6,273.8,187.7,274.2C188.8,274.7,189.8,275.8,190.5,276.4C191.3,277.0,191.8,277.6,192.0,277.8M167.0,267.1C167.7,267.2,169.9,267.8,171.3,267.8C172.7,267.8,174.1,267.3,175.6,267.1C177.0,266.9,178.5,266.5,179.8,266.4C181.2,266.3,182.6,266.2,183.8,266.4C184.9,266.6,185.8,267.2,187.0,267.8C188.1,268.4,189.7,269.5,190.5,270.0C191.4,270.4,191.8,270.6,192.0,270.7M183.8,261.4C184.4,261.4,186.3,261.5,187.7,261.4C189.1,261.3,191.3,261.1,192.0,261.0M167.0,277.1C167.6,277.0,169.4,276.4,170.6,276.4C171.8,276.4,172.9,276.6,174.1,277.1C175.3,277.6,176.5,278.6,177.7,279.2C178.9,279.8,180.3,280.3,181.3,280.7C182.3,281.0,182.8,281.4,183.8,281.4C184.7,281.4,185.8,281.0,187.0,280.7C188.1,280.3,189.7,279.6,190.5,279.2C191.4,278.9,191.8,278.6,192.0,278.5M167.7,277.8C168.0,278.6,168.7,281.1,169.1,282.8C169.6,284.5,170.2,286.5,170.6,287.8C170.9,289.1,171.2,290.2,171.3,290.6M167.0,283.5C167.2,284.0,168.0,285.4,168.4,286.4C168.9,287.3,169.5,288.5,169.9,289.2C170.2,289.9,170.4,290.4,170.6,290.6M184.8,268.5C185.4,268.8,187.2,269.4,188.4,270.0C189.6,270.6,191.4,271.7,192.0,272.1M188.4,245.0C188.8,245.2,189.9,246.0,190.5,246.4C191.1,246.9,191.8,247.6,192.0,247.9M192.0,245.7C192.7,245.8,194.9,246.2,196.3,246.4C197.7,246.7,199.2,246.9,200.6,247.1C201.9,247.4,203.1,247.9,204.5,247.9C205.9,247.9,207.6,247.4,209.1,247.1C210.6,246.9,211.9,246.7,213.4,246.4C214.9,246.2,217.3,245.8,218.0,245.7M192.0,247.1C192.7,247.3,194.9,247.6,196.3,247.9C197.7,248.1,199.2,248.3,200.6,248.6C201.9,248.8,203.1,249.3,204.5,249.3C205.9,249.2,207.6,248.6,209.1,248.2C210.6,247.9,211.9,247.4,213.4,247.1C214.9,246.8,217.3,246.5,218.0,246.4M192.0,248.6C192.6,249.0,194.4,250.3,195.6,251.4C196.8,252.5,197.9,253.8,199.1,255.0C200.3,256.2,201.8,257.7,202.7,258.6C203.6,259.4,203.6,259.5,204.5,260.3C205.3,261.2,206.6,262.5,207.7,263.5C208.8,264.6,210.1,265.7,211.3,266.4C212.4,267.1,213.7,267.5,214.8,267.8C216.0,268.2,217.5,268.4,218.0,268.5M218.0,246.4C217.5,246.9,216.0,248.2,214.8,249.3C213.7,250.3,212.4,251.7,211.3,252.8C210.1,254.0,208.8,255.3,207.7,256.4C206.6,257.5,205.6,258.3,204.5,259.3C203.4,260.2,202.4,260.9,201.3,262.1C200.1,263.3,198.9,264.7,197.7,266.4C196.5,268.1,195.1,270.7,194.1,272.1C193.2,273.5,192.4,274.5,192.0,275.0M218.0,249.3C217.5,249.8,216.0,251.2,214.8,252.1C213.7,253.1,212.4,254.0,211.3,255.0C210.1,255.9,208.8,257.0,207.7,257.8C206.6,258.7,205.6,259.1,204.5,260.0C203.4,260.8,202.4,261.5,201.3,262.8C200.1,264.1,198.8,266.0,197.7,267.8C196.6,269.6,195.6,272.2,194.9,273.5C194.1,274.8,193.7,275.3,193.4,275.7M192.0,257.1C192.7,257.1,194.9,256.8,196.3,256.8C197.7,256.8,199.2,256.9,200.6,257.1C201.9,257.3,203.1,257.8,204.5,257.8C205.9,257.9,207.6,257.5,209.1,257.5C210.6,257.5,211.9,257.7,213.4,257.8C214.9,258.0,217.3,258.4,218.0,258.6M192.0,260.0C192.7,259.9,194.9,259.3,196.3,259.3C197.7,259.2,199.2,259.4,200.6,259.6C201.9,259.8,203.8,260.2,204.5,260.3M192.0,265.7C192.7,265.4,194.9,264.7,196.3,264.3C197.7,263.8,199.2,263.5,200.6,263.2C201.9,262.8,203.1,261.8,204.5,262.1C205.9,262.4,207.6,263.9,209.1,265.0C210.6,266.0,211.9,267.7,213.4,268.5C214.9,269.4,217.3,269.7,218.0,270.0M192.0,267.8C192.7,267.6,194.9,266.9,196.3,266.4C197.7,265.9,199.2,265.4,200.6,265.0C201.9,264.5,203.1,263.3,204.5,263.5C205.9,263.8,207.8,265.4,209.1,266.4C210.5,267.3,211.5,268.4,212.7,269.2C213.9,270.1,215.4,270.9,216.2,271.4C217.1,271.9,217.7,272.0,218.0,272.1M192.0,268.5C192.7,268.4,194.9,268.1,196.3,267.8C197.7,267.5,199.2,267.0,200.6,266.8C201.9,266.5,203.2,266.3,204.5,266.4C205.8,266.5,207.8,267.0,208.4,267.1M192.0,275.7C192.4,276.1,193.4,277.6,194.1,278.5C194.9,279.5,195.4,280.4,196.3,281.4C197.1,282.3,198.2,283.4,199.1,284.2C200.1,285.1,201.1,285.9,202.0,286.4C202.9,286.8,203.4,287.1,204.5,287.1C205.6,287.1,207.0,286.8,208.4,286.4C209.8,285.9,211.4,285.1,212.7,284.2C214.0,283.4,215.4,282.2,216.2,281.4C217.1,280.5,217.7,279.6,218.0,279.2M192.0,278.5C192.4,279.1,193.3,280.8,194.1,282.1C195.0,283.4,196.0,285.1,197.0,286.4C197.9,287.7,199.3,289.2,199.8,289.9C200.4,290.6,200.4,290.5,200.6,290.6M204.5,288.9C205.0,288.7,206.6,288.3,207.7,287.8C208.8,287.3,210.1,286.5,211.3,285.7C212.4,284.8,213.7,283.6,214.8,282.8C216.0,282.0,217.5,281.0,218.0,280.7M208.4,290.6C208.9,290.3,210.3,289.3,211.3,288.5C212.2,287.7,213.2,286.7,214.1,285.7C215.1,284.6,216.3,282.9,217.0,282.1C217.6,281.3,217.9,280.9,218.0,280.7M202.7,287.8C203.0,287.9,203.8,288.2,204.5,288.5C205.2,288.9,206.2,289.6,207.0,289.9C207.8,290.3,208.8,290.5,209.1,290.6M218.0,247.2C218.7,247.0,220.9,246.6,222.3,246.4C223.8,246.3,225.2,246.2,226.7,246.1C228.1,246.0,229.5,245.8,231.0,245.7C232.4,245.6,234.6,245.4,235.3,245.4M218.0,249.3C218.7,249.2,220.9,248.8,222.3,248.6C223.8,248.4,225.2,248.4,226.7,248.2C228.1,248.1,229.5,248.1,231.0,247.9C232.4,247.7,233.9,247.5,235.3,247.2C236.8,246.9,238.4,246.4,239.6,246.1C240.9,245.7,242.1,245.2,242.5,245.0M218.0,251.5C218.7,251.4,220.9,251.1,222.3,251.1C223.8,251.1,225.2,251.6,226.7,251.5C228.1,251.4,229.7,251.1,231.0,250.8C232.3,250.4,233.5,249.9,234.6,249.3C235.7,248.7,236.6,247.9,237.5,247.2C238.3,246.4,239.3,245.4,239.6,245.0M235.3,250.8C235.6,251.0,236.0,252.6,236.8,252.2C237.5,251.9,238.9,249.6,239.6,248.6C240.4,247.6,240.9,246.8,241.1,246.4M218.0,258.0C218.7,257.9,221.1,257.9,222.3,257.3C223.5,256.7,224.3,255.5,225.2,254.4C226.2,253.3,227.1,251.9,228.1,250.8C229.1,249.7,230.0,248.7,231.0,247.9C232.0,247.0,233.4,246.1,233.9,245.7M218.0,262.3C218.7,262.1,221.1,261.6,222.3,260.9C223.5,260.2,224.3,259.1,225.2,258.0C226.2,256.9,227.1,255.6,228.1,254.4C229.1,253.2,230.0,251.9,231.0,250.8C232.0,249.7,233.0,248.6,233.9,247.9C234.7,247.2,235.7,246.7,236.0,246.4M218.0,259.4C218.7,259.4,220.9,259.6,222.3,259.4C223.8,259.3,225.2,259.1,226.7,258.7C228.1,258.4,229.7,257.7,231.0,257.3C232.3,256.8,233.5,256.2,234.6,255.8C235.7,255.5,236.5,255.0,237.5,255.1C238.4,255.2,239.4,255.9,240.4,256.5C241.3,257.1,242.3,258.2,243.3,258.7C244.2,259.2,245.5,259.3,246.0,259.4M218.0,265.9C218.6,265.7,220.4,265.0,221.6,264.5C222.8,264.0,223.9,263.8,225.2,263.0C226.5,262.3,228.3,260.8,229.5,260.2C230.7,259.5,231.4,259.4,232.4,259.1C233.5,258.7,234.8,258.0,236.0,258.0C237.2,257.9,238.6,258.4,239.6,258.7C240.7,259.1,241.5,259.9,242.5,260.2C243.6,260.4,245.4,260.2,246.0,260.2M218.0,268.1C218.6,267.9,220.4,267.2,221.6,266.6C222.8,266.1,224.0,265.4,225.2,264.8C226.4,264.2,227.6,263.6,228.8,263.0C230.0,262.4,231.2,261.7,232.4,261.2C233.6,260.8,234.8,260.2,236.0,260.2C237.2,260.1,238.6,260.6,239.6,260.9C240.7,261.1,241.5,261.5,242.5,261.6C243.6,261.7,245.4,261.3,246.0,261.2M218.0,270.3C218.7,270.0,220.9,269.4,222.3,268.8C223.8,268.2,225.2,267.4,226.7,266.6C228.1,265.9,229.7,265.1,231.0,264.5C232.3,263.9,233.4,263.4,234.6,263.0C235.8,262.7,237.0,262.6,238.2,262.3C239.4,262.1,240.5,261.8,241.8,261.6C243.1,261.4,245.3,261.3,246.0,261.2M218.0,278.9C218.6,278.3,220.4,276.4,221.6,275.3C222.8,274.2,224.0,273.5,225.2,272.4C226.4,271.3,227.6,270.0,228.8,268.8C230.0,267.6,231.4,266.0,232.4,265.2C233.5,264.4,234.4,264.2,235.3,263.8C236.3,263.3,237.7,262.6,238.2,262.3M218.0,280.4C218.6,279.8,220.4,277.8,221.6,276.8C222.8,275.7,224.0,274.9,225.2,273.9C226.4,272.8,227.6,271.5,228.8,270.3C230.0,269.1,231.8,267.3,232.4,266.6M218.0,278.2C218.6,277.8,220.4,276.4,221.6,276.0C222.8,275.7,223.9,275.8,225.2,276.0C226.5,276.3,228.2,276.9,229.5,277.5C230.9,278.1,232.0,278.9,233.2,279.6C234.4,280.4,235.6,281.2,236.8,281.8C238.0,282.4,238.8,282.9,240.4,283.2C241.9,283.6,245.1,283.8,246.0,284.0M220.9,290.5C221.4,289.4,222.7,285.8,223.8,284.0C224.9,282.2,226.3,280.2,227.4,279.6C228.5,279.0,229.3,279.6,230.3,280.4C231.2,281.1,232.2,282.8,233.2,284.0C234.1,285.2,235.2,286.5,236.0,287.6C236.9,288.7,237.8,290.0,238.2,290.5M221.6,290.5C222.1,289.5,223.5,286.3,224.5,284.7C225.5,283.1,226.8,281.3,227.7,280.7C228.6,280.2,229.1,280.8,229.9,281.4C230.7,282.1,231.5,283.5,232.4,284.7C233.3,285.8,234.5,287.3,235.3,288.3C236.2,289.3,237.1,290.1,237.5,290.5" stroke="#1c1c1c" stroke-width="1.05" fill="none"/></g>
<text transform="translate(41.50,14.30) scale(1.07,1)" font-size="14.8" text-anchor="start" stroke="#111" stroke-width="0.3" >(a) 3D MnPS<tspan font-size="10.5" dy="3">3</tspan></text>
<text transform="translate(263.30,14.30) scale(1.07,1)" font-size="14.8" text-anchor="start" stroke="#111" stroke-width="0.3" >(b)</text>
<text transform="translate(13.6,154.6) rotate(-90) scale(1.12,1)" font-size="15.2" text-anchor="middle" stroke="#111" stroke-width="0.3">E-E<tspan font-size="11" dy="2.6">F</tspan><tspan dy="-2.6"> (eV)</tspan></text>
<defs><clipPath id="clipd342"><rect x="262.5" y="362.5" width="116.0" height="270.5"/></clipPath></defs>
<g clip-path="url(#clipd342)"><path d="M262.0,364.0L271.3,364.6L280.6,365.4L291.4,366.2L296.0,367.0L300.7,368.5L303.7,369.3L299.1,370.8L296.0,371.6L302.2,372.4L306.8,374.7L311.5,377.0L315.3,379.3L318.4,381.6L320.5,384.0M379.0,364.0L369.7,364.6L360.4,365.4L349.6,366.2L345.0,367.0L340.3,368.5L337.3,369.3L341.9,370.8L345.0,371.6L338.8,372.4L334.2,374.7L329.5,377.0L325.7,379.3L322.6,381.6L320.5,384.0M320.5,384.4L308.4,384.7L292.9,385.0L277.5,385.5L272.8,386.3L280.6,387.1L286.7,387.8L280.6,388.6L274.4,389.4L272.0,390.6L275.9,391.7L283.6,394.0L289.1,396.3L290.6,399.4L294.5,401.0L297.6,403.3L302.2,407.2L306.8,409.5L311.5,411.8L316.1,414.1L320.5,415.4M320.5,384.4L332.6,384.7L348.1,385.0L363.5,385.5L368.2,386.3L360.4,387.1L354.3,387.8L360.4,388.6L366.6,389.4L369.0,390.6L365.1,391.7L357.4,394.0L351.9,396.3L350.4,399.4L346.5,401.0L343.4,403.3L338.8,407.2L334.2,409.5L329.5,411.8L324.9,414.1L320.5,415.4M262.0,363.5L270.0,363.0L277.0,362.0M379.0,363.5L371.0,363.0L364.0,362.0" stroke="#1e1e1e" stroke-width="1.0" fill="none" stroke-linejoin="round"/><path d="M320.6,497.5L328.4,498.2L336.3,499.7L347.3,500.7L359.9,501.3L370.9,502.3L383.0,503.0L369.3,505.4L361.5,506.5L355.2,507.3L342.6,508.1L334.7,508.9L333.9,509.7L342.6,510.4L358.3,512.0L370.9,513.3L383.0,514.0L370.9,515.2L358.3,515.9L347.3,517.0L334.7,519.1L326.9,521.4L325.3,523.0L328.4,524.6L337.9,527.0L350.4,530.1L363.0,533.2L372.5,535.6L383.0,536.4L370.9,537.2L363.0,538.0L353.6,538.7L345.7,539.5L350.4,540.3L359.9,541.1L370.9,541.9L383.0,542.7L369.3,544.2L358.3,545.4L350.4,546.6L348.9,548.1L355.2,549.7L350.4,552.1L347.3,554.4L350.4,556.0L347.3,557.6L350.4,559.2L355.2,560.7L359.9,562.3L366.2,565.4L359.9,567.0L353.6,569.4L344.2,571.7L342.6,574.1L350.4,575.7L363.0,576.4L374.0,577.2L383.0,578.0L370.9,579.6L358.3,580.4L347.3,581.2L346.5,583.5L358.3,584.3L370.9,585.1L383.0,585.9L370.9,587.5L358.3,589.0L348.9,590.6L355.2,591.8L359.9,593.1L353.6,594.7L361.5,596.3L355.2,597.9L363.0,599.4L355.2,601.0L359.9,602.6L353.6,604.2L364.6,605.7L374.0,608.1L363.0,608.9L350.4,609.7L339.4,611.2L342.6,612.8L348.9,613.6L344.2,615.2L353.6,616.7L369.3,617.5L358.3,618.3L347.3,619.1L337.9,621.4L333.9,623.8L332.4,627.0L339.4,628.5L345.7,629.3L342.6,630.9L341.0,633.0M320.4,497.5L312.6,498.2L304.7,499.7L293.7,500.7L281.1,501.3L270.1,502.3L258.0,503.0L271.7,505.4L279.5,506.5L285.8,507.3L298.4,508.1L306.3,508.9L307.1,509.7L298.4,510.4L282.7,512.0L270.1,513.3L258.0,514.0L270.1,515.2L282.7,515.9L293.7,517.0L306.3,519.1L314.1,521.4L315.7,523.0L312.6,524.6L303.1,527.0L290.6,530.1L278.0,533.2L268.5,535.6L258.0,536.4L270.1,537.2L278.0,538.0L287.4,538.7L295.3,539.5L290.6,540.3L281.1,541.1L270.1,541.9L258.0,542.7L271.7,544.2L282.7,545.4L290.6,546.6L292.1,548.1L285.8,549.7L290.6,552.1L293.7,554.4L290.6,556.0L293.7,557.6L290.6,559.2L285.8,560.7L281.1,562.3L274.8,565.4L281.1,567.0L287.4,569.4L296.8,571.7L298.4,574.1L290.6,575.7L278.0,576.4L267.0,577.2L258.0,578.0L270.1,579.6L282.7,580.4L293.7,581.2L294.5,583.5L282.7,584.3L270.1,585.1L258.0,585.9L270.1,587.5L282.7,589.0L292.1,590.6L285.8,591.8L281.1,593.1L287.4,594.7L279.5,596.3L285.8,597.9L278.0,599.4L285.8,601.0L281.1,602.6L287.4,604.2L276.4,605.7L267.0,608.1L278.0,608.9L290.6,609.7L301.6,611.2L298.4,612.8L292.1,613.6L296.8,615.2L287.4,616.7L271.7,617.5L282.7,618.3L293.7,619.1L303.1,621.4L307.1,623.8L308.6,627.0L301.6,628.5L295.3,629.3L298.4,630.9L300.0,633.0" stroke="#1e1e1e" stroke-width="1.0" fill="none" stroke-linejoin="round"/><path d="M309.0,361.0L309.9,363.1L313.0,365.4L315.3,369.3L317.7,375.5L320.5,383.2M332.0,361.0L331.1,363.1L328.0,365.4L325.7,369.3L323.3,375.5L320.5,383.2M320.5,384.4L308.4,385.5L305.3,386.6L307.6,387.8L305.3,389.4L308.4,392.5L311.5,397.1L313.8,401.8L316.1,406.4L317.7,411.0L320.5,414.1M320.5,384.4L332.6,385.5L335.7,386.6L333.4,387.8L335.7,389.4L332.6,392.5L329.5,397.1L327.2,401.8L324.9,406.4L323.3,411.0L320.5,414.1" stroke="#3c50e6" stroke-width="1.0" fill="none" stroke-linejoin="round"/><path d="M320.6,497.5L328.4,499.4L334.7,501.0L341.0,502.3L347.3,503.4L348.9,504.5L342.6,505.7L334.7,507.3L328.4,509.7L333.2,510.8L342.6,512.0L355.2,513.6L347.3,514.4L337.9,515.9L331.6,518.3L325.3,521.4L323.7,523.8L326.9,526.2L334.7,530.1L342.6,534.0L347.3,536.4L339.4,538.0L333.2,539.5L339.4,541.1L344.2,543.5L336.3,545.0L336.3,546.6L333.9,549.7L336.3,552.1L333.2,554.4L334.7,557.6L333.2,559.9L336.3,563.1L339.4,566.2L334.7,569.4L330.0,572.5L331.6,574.9L339.4,576.4L345.7,578.8L341.0,580.4L333.2,582.7L337.9,584.3L344.2,586.7L337.9,589.0L333.2,591.4L334.7,595.0L336.3,599.4L334.7,603.4L339.4,607.3L334.7,609.7L330.0,610.4L328.4,612.8L331.6,615.2L334.7,616.7L330.0,619.1L326.9,621.4L325.3,625.4L328.4,628.5L327.6,633.0M320.4,497.5L312.6,499.4L306.3,501.0L300.0,502.3L293.7,503.4L292.1,504.5L298.4,505.7L306.3,507.3L312.6,509.7L307.8,510.8L298.4,512.0L285.8,513.6L293.7,514.4L303.1,515.9L309.4,518.3L315.7,521.4L317.3,523.8L314.1,526.2L306.3,530.1L298.4,534.0L293.7,536.4L301.6,538.0L307.8,539.5L301.6,541.1L296.8,543.5L304.7,545.0L304.7,546.6L307.1,549.7L304.7,552.1L307.8,554.4L306.3,557.6L307.8,559.9L304.7,563.1L301.6,566.2L306.3,569.4L311.0,572.5L309.4,574.9L301.6,576.4L295.3,578.8L300.0,580.4L307.8,582.7L303.1,584.3L296.8,586.7L303.1,589.0L307.8,591.4L306.3,595.0L304.7,599.4L306.3,603.4L301.6,607.3L306.3,609.7L311.0,610.4L312.6,612.8L309.4,615.2L306.3,616.7L311.0,619.1L314.1,621.4L315.7,625.4L312.6,628.5L313.4,633.0" stroke="#3c50e6" stroke-width="1.0" fill="none" stroke-linejoin="round"/><path d="M317.2,361.0L317.7,363.1L319.2,369.3L320.5,376.0M323.8,361.0L323.3,363.1L321.8,369.3L320.5,376.0M320.5,384.4L319.5,390.0L319.8,398.0L320.5,405.0M320.5,384.4L321.5,390.0L321.2,398.0L320.5,405.0" stroke="#d6303c" stroke-width="1.0" fill="none" stroke-linejoin="round"/><path d="M320.6,497.8L322.1,499.4L325.3,502.6L325.3,505.7L323.7,509.7L326.1,513.6L322.9,516.7L321.4,521.4L321.8,530.0L321.3,540.0L321.9,550.0L321.3,560.0L321.8,570.0L321.2,580.0L321.9,590.0L321.3,600.0L322.2,610.0L321.3,620.0L321.8,628.0L321.2,633.0M320.4,497.8L318.9,499.4L315.7,502.6L315.7,505.7L317.3,509.7L314.9,513.6L318.1,516.7L319.6,521.4L319.2,530.0L319.7,540.0L319.1,550.0L319.7,560.0L319.2,570.0L319.8,580.0L319.1,590.0L319.7,600.0L318.8,610.0L319.7,620.0L319.2,628.0L319.8,633.0" stroke="#d6303c" stroke-width="1.0" fill="none" stroke-linejoin="round"/><path d="M314.0,361.0L314.6,363.1L316.9,367.0L318.4,372.4L320.5,381.6M327.0,361.0L326.4,363.1L324.1,367.0L322.6,372.4L320.5,381.6" stroke="#3cb428" stroke-width="1.0" fill="none" stroke-linejoin="round"/><path d="M320.5,488.0L320.5,521.0L321.0,530.0L320.7,545.0L321.2,560.0L320.8,575.0L321.3,590.0L320.8,605.0L321.2,620.0L320.6,633.0M320.5,488.0L320.5,521.0L320.0,530.0L320.3,545.0L319.8,560.0L320.2,575.0L319.7,590.0L320.2,605.0L319.8,620.0L320.4,633.0" stroke="#3cb428" stroke-width="1.0" fill="none" stroke-linejoin="round"/><path d="M320.3,361V421M320.3,487V500" stroke="#3cb428" stroke-width="1.1"/></g>
<rect x="286" y="422" width="66" height="65" fill="#fff"/>
<path d="M289.5,433.3H312.7" stroke="#1e1e1e" stroke-width="1.1"/>
<path d="M289.5,447.4H312.7" stroke="#d6303c" stroke-width="1.1"/>
<path d="M289.5,461.8H312.7" stroke="#3c50e6" stroke-width="1.1"/>
<path d="M289.5,477.2H312.7" stroke="#3cb428" stroke-width="1.1"/>
<text transform="translate(315.80,438.20) scale(1.0,1)" font-size="14.2" text-anchor="start" stroke="#111" stroke-width="0.3" >Total</text>
<text transform="translate(315.80,452.30) scale(1.0,1)" font-size="14.2" text-anchor="start" stroke="#111" stroke-width="0.3" >Mn <tspan font-style="italic">d</tspan></text>
<text transform="translate(315.80,466.70) scale(1.0,1)" font-size="14.2" text-anchor="start" stroke="#111" stroke-width="0.3" >Se <tspan font-style="italic">p</tspan></text>
<text transform="translate(315.80,482.10) scale(1.0,1)" font-size="14.2" text-anchor="start" stroke="#111" stroke-width="0.3" >P <tspan font-style="italic">p</tspan></text>
<defs><clipPath id="clipb342"><rect x="42.5" y="362.5" width="202.0" height="270.5"/></clipPath></defs>
<path d="M83.5,362.5V633.0M104,362.5V633.0M139,362.5V633.0M148,362.5V633.0M184,362.5V633.0M204,362.5V633.0" stroke="#dfe6e8" stroke-width="1" fill="none"/>
<path d="M42.5,497.75H244.5M262.5,497.75H378.5" stroke="#666" stroke-width="1" stroke-dasharray="1,1.7" fill="none"/>
<rect x="42.5" y="362.5" width="202.0" height="270.5" fill="none" stroke="#1a1a1a" stroke-width="1.2"/>
<rect x="262.5" y="362.5" width="116.0" height="270.5" fill="none" stroke="#1a1a1a" stroke-width="1.2"/>
<path d="M42.5,610.46h3M244.5,610.46h-3M42.5,587.92h6M244.5,587.92h-6M42.5,565.38h3M244.5,565.38h-3M42.5,542.83h6M244.5,542.83h-6M42.5,520.29h3M244.5,520.29h-3M42.5,497.75h6M244.5,497.75h-6M42.5,475.21h3M244.5,475.21h-3M42.5,452.67h6M244.5,452.67h-6M42.5,430.12h3M244.5,430.12h-3M42.5,407.58h6M244.5,407.58h-6M42.5,385.04h3M244.5,385.04h-3" stroke="#1a1a1a" stroke-width="1.1" fill="none"/>
<path d="M262.5,610.46h3M378.5,610.46h-3M262.5,587.92h6M378.5,587.92h-6M262.5,565.38h3M378.5,565.38h-3M262.5,542.83h6M378.5,542.83h-6M262.5,520.29h3M378.5,520.29h-3M262.5,497.75h6M378.5,497.75h-6M262.5,475.21h3M378.5,475.21h-3M262.5,452.67h6M378.5,452.67h-6M262.5,430.12h3M378.5,430.12h-3M262.5,407.58h6M378.5,407.58h-6M262.5,385.04h3M378.5,385.04h-3" stroke="#1a1a1a" stroke-width="1.1" fill="none"/>
<path d="M277.00,633.0v-3M277.00,362.5v3M291.50,633.0v-6M291.50,362.5v6M306.00,633.0v-3M306.00,362.5v3M320.50,633.0v-6M320.50,362.5v6M335.00,633.0v-3M335.00,362.5v3M349.50,633.0v-6M349.50,362.5v6M364.00,633.0v-3M364.00,362.5v3" stroke="#1a1a1a" stroke-width="1.1" fill="none"/>
<text transform="translate(36.00,638.00) scale(1.0,1)" font-size="14.6" text-anchor="end" stroke="#111" stroke-width="0.3" >-3</text>
<text transform="translate(36.00,592.92) scale(1.0,1)" font-size="14.6" text-anchor="end" stroke="#111" stroke-width="0.3" >-2</text>
<text transform="translate(36.00,547.83) scale(1.0,1)" font-size="14.6" text-anchor="end" stroke="#111" stroke-width="0.3" >-1</text>
<text transform="translate(36.00,502.75) scale(1.0,1)" font-size="14.6" text-anchor="end" stroke="#111" stroke-width="0.3" >0</text>
<text transform="translate(36.00,457.67) scale(1.0,1)" font-size="14.6" text-anchor="end" stroke="#111" stroke-width="0.3" >1</text>
<text transform="translate(36.00,412.58) scale(1.0,1)" font-size="14.6" text-anchor="end" stroke="#111" stroke-width="0.3" >2</text>
<text transform="translate(36.00,367.50) scale(1.0,1)" font-size="14.6" text-anchor="end" stroke="#111" stroke-width="0.3" >3</text>
<text transform="translate(42.80,647.60) scale(1.05,1)" font-size="15.0" text-anchor="middle" stroke="#111" stroke-width="0.3" >Γ</text>
<text transform="translate(83.80,647.60) scale(1.05,1)" font-size="15.0" text-anchor="middle" stroke="#111" stroke-width="0.3" >K</text>
<text transform="translate(104.30,647.60) scale(1.05,1)" font-size="15.0" text-anchor="middle" stroke="#111" stroke-width="0.3" >M</text>
<text transform="translate(184.30,647.60) scale(1.05,1)" font-size="15.0" text-anchor="middle" stroke="#111" stroke-width="0.3" >L</text>
<text transform="translate(204.30,647.60) scale(1.05,1)" font-size="15.0" text-anchor="middle" stroke="#111" stroke-width="0.3" >H</text>
<text transform="translate(244.80,647.60) scale(1.05,1)" font-size="15.0" text-anchor="middle" stroke="#111" stroke-width="0.3" >A</text>
<text transform="translate(143.50,647.60) scale(1.05,1)" font-size="15.0" text-anchor="middle" stroke="#111" stroke-width="0.3" >ΓA</text>
<text transform="translate(264.00,647.20) scale(1.0,1)" font-size="13.6" text-anchor="middle" stroke="#111" stroke-width="0.3" >-20</text>
<text transform="translate(291.00,647.20) scale(1.0,1)" font-size="13.6" text-anchor="middle" stroke="#111" stroke-width="0.3" >-10</text>
<text transform="translate(320.50,647.20) scale(1.0,1)" font-size="13.6" text-anchor="middle" stroke="#111" stroke-width="0.3" >0</text>
<text transform="translate(349.50,647.20) scale(1.0,1)" font-size="13.6" text-anchor="middle" stroke="#111" stroke-width="0.3" >10</text>
<text transform="translate(378.50,647.20) scale(1.0,1)" font-size="13.6" text-anchor="middle" stroke="#111" stroke-width="0.3" >20</text>
<text transform="translate(321.20,666.90) scale(1.08,1)" font-size="14.8" text-anchor="middle" stroke="#111" stroke-width="0.3" >DOS (eV<tspan font-size="10.5" dy="-5">-1</tspan><tspan dy="5">u.c.</tspan><tspan font-size="10.5" dy="-5">-1</tspan><tspan dy="5">)</tspan></text>
<g clip-path="url(#clipb342)"><path d="M42.0,502.3C43.3,502.1,47.1,501.6,49.7,501.3C52.3,501.1,54.5,501.0,57.5,500.8C60.5,500.6,64.8,500.7,67.8,500.4C70.8,500.1,73.3,499.5,75.5,499.1C77.7,498.7,79.4,498.1,80.7,497.8C82.0,497.6,82.3,497.4,83.6,497.6C84.8,497.8,86.6,498.6,88.2,499.2C89.8,499.8,91.7,500.5,93.4,501.2C95.1,501.9,96.9,502.8,98.6,503.3C100.3,503.8,102.0,504.0,103.7,504.3C105.4,504.6,107.2,505.0,108.9,505.3C110.6,505.6,112.5,506.0,114.0,506.2C115.5,506.4,117.3,506.4,118.0,506.4M42.0,503.0C43.3,503.0,47.1,502.8,49.7,503.0C52.3,503.2,54.9,503.7,57.5,504.2C60.1,504.7,63.1,506.0,65.2,506.2C67.4,506.4,68.7,506.1,70.4,505.5C72.1,504.9,73.8,503.4,75.5,502.3C77.2,501.2,79.3,499.8,80.7,499.1C82.1,498.5,82.7,498.2,83.9,498.4C85.2,498.5,86.6,499.4,88.2,500.0C89.8,500.6,91.7,501.5,93.4,502.2C95.1,502.9,96.9,503.6,98.6,504.1C100.3,504.6,102.0,504.8,103.7,505.1C105.4,505.5,107.2,505.9,108.9,506.2C110.6,506.5,112.5,507.0,114.0,507.2C115.5,507.4,117.3,507.4,118.0,507.4M42.0,503.6C43.1,503.8,46.2,504.6,48.4,504.9C50.5,505.2,52.8,505.5,54.9,505.5C57.0,505.5,59.1,505.2,61.3,504.9C63.4,504.6,65.6,504.1,67.8,503.6C70.0,503.1,72.3,502.3,74.2,501.7C76.1,501.1,78.2,500.3,79.0,500.0M42.0,504.2C42.6,505.0,44.6,507.2,45.9,508.8C47.2,510.4,48.2,512.4,49.7,513.9C51.2,515.4,53.2,516.8,54.9,517.8C56.6,518.8,58.3,519.5,60.0,519.7C61.7,519.9,63.3,519.9,65.2,519.1C67.1,518.4,69.7,516.1,71.6,515.2C73.5,514.3,74.8,513.9,76.8,513.9C78.8,513.9,82.0,515.3,83.9,515.2C85.8,515.1,86.6,513.9,88.2,513.1C89.8,512.3,91.7,511.3,93.4,510.5C95.1,509.7,96.9,508.9,98.6,508.4C100.3,507.9,102.2,507.4,103.7,507.4C105.2,507.4,106.6,507.8,107.8,508.4C109.0,509.0,109.7,510.0,110.9,511.0C112.1,512.0,113.9,513.7,115.1,514.6C116.3,515.5,117.5,515.9,118.0,516.2M42.0,504.9C42.6,505.8,44.6,508.3,45.9,510.0C47.2,511.7,48.2,513.7,49.7,515.2C51.2,516.7,53.2,518.1,54.9,519.1C56.6,520.1,58.3,520.8,60.0,521.0C61.7,521.2,63.5,521.0,65.2,520.4C66.9,519.8,68.7,518.0,70.4,517.1C72.1,516.2,73.2,515.4,75.5,515.2C77.8,515.1,81.8,516.7,83.9,516.2C86.0,515.7,86.6,513.2,88.2,512.2C89.8,511.2,91.7,510.6,93.4,510.0C95.1,509.4,96.9,509.2,98.6,508.9C100.3,508.6,102.1,508.2,103.7,508.4C105.3,508.6,106.6,509.3,108.0,510.0C109.4,510.7,110.8,511.9,112.0,512.5C113.2,513.1,114.5,513.5,115.5,513.8C116.5,514.1,117.6,514.0,118.0,514.1M42.0,505.5C42.9,506.7,45.5,510.3,47.2,512.6C48.9,514.9,50.6,517.2,52.3,519.1C54.0,521.0,56.0,523.0,57.5,524.2C59.0,525.4,60.0,526.0,61.3,526.1C62.6,526.2,63.7,525.9,65.2,524.9C66.7,523.9,68.7,522.0,70.4,520.4C72.1,518.8,73.9,516.5,75.5,515.5C77.1,514.5,78.7,514.6,80.0,514.5C81.3,514.4,81.9,515.3,83.6,515.1C85.3,514.9,88.3,513.4,90.3,513.1C92.3,512.8,93.8,513.1,95.5,513.1C97.2,513.1,99.2,513.1,100.6,513.1C102.0,513.1,102.5,513.3,103.7,513.1C104.9,512.9,106.4,512.3,107.8,512.0C109.2,511.7,110.6,511.6,112.0,511.5C113.4,511.4,115.1,511.4,116.1,511.3C117.1,511.2,117.7,511.1,118.0,511.0M103.7,513.3C104.4,513.4,106.6,513.4,107.8,513.8C109.0,514.2,109.7,515.2,110.9,515.8C112.1,516.4,113.9,517.1,115.1,517.6C116.3,518.1,117.5,518.5,118.0,518.7M42.0,523.6C42.9,524.0,45.5,525.1,47.2,526.1C48.9,527.1,50.6,528.4,52.3,529.4C54.0,530.4,55.8,531.4,57.5,532.0C59.2,532.6,60.9,533.1,62.6,533.2C64.3,533.3,65.9,533.5,67.8,532.6C69.7,531.8,72.3,529.5,74.2,528.1C76.1,526.7,77.8,525.0,79.4,524.2C81.0,523.4,82.1,523.2,83.6,523.4C85.1,523.6,86.6,524.4,88.2,525.4C89.8,526.4,91.7,528.1,93.4,529.1C95.1,530.1,96.9,530.6,98.6,531.1C100.3,531.6,102.0,531.8,103.7,532.1C105.4,532.5,107.2,532.8,108.9,533.2C110.6,533.6,112.5,534.2,114.0,534.7C115.5,535.2,117.3,536.0,118.0,536.3M42.0,524.2C42.9,524.9,45.5,526.8,47.2,528.1C48.9,529.4,50.6,530.9,52.3,532.0C54.0,533.1,55.8,533.9,57.5,534.5C59.2,535.1,60.9,535.7,62.6,535.8C64.3,535.9,65.9,535.8,67.8,535.2C69.7,534.6,72.3,533.1,74.2,532.0C76.1,530.9,77.8,529.6,79.4,528.7C81.0,527.8,82.4,526.8,83.9,526.5C85.4,526.2,86.6,526.3,88.2,527.0C89.8,527.7,91.7,529.6,93.4,530.6C95.1,531.6,96.9,532.2,98.6,532.7C100.3,533.2,102.0,533.4,103.7,533.7C105.4,534.0,107.2,534.3,108.9,534.7C110.6,535.1,112.5,535.9,114.0,536.3C115.5,536.7,117.3,537.1,118.0,537.3M42.0,524.9C42.9,525.6,45.5,528.0,47.2,529.4C48.9,530.8,50.6,532.0,52.3,533.2C54.0,534.4,55.8,535.8,57.5,536.5C59.2,537.2,60.9,537.6,62.6,537.7C64.3,537.8,65.9,537.6,67.8,537.1C69.7,536.6,72.0,535.6,74.2,534.5C76.4,533.4,79.1,531.5,80.7,530.5C82.3,529.5,82.7,528.9,83.9,528.5C85.2,528.1,86.6,527.5,88.2,528.0C89.8,528.5,91.7,530.6,93.4,531.6C95.1,532.6,96.9,533.1,98.6,533.7C100.3,534.3,101.8,534.5,103.7,535.0C105.6,535.5,108.3,536.3,110.0,537.0C111.7,537.7,112.7,538.3,114.0,539.0C115.3,539.7,117.3,541.0,118.0,541.4M42.0,525.5C42.6,526.4,44.6,529.0,45.9,530.7C47.2,532.4,48.6,533.9,49.7,535.8C50.8,537.7,51.8,540.6,52.3,542.0C52.8,543.4,52.9,543.7,53.0,544.0M71.6,538.4C72.7,538.0,76.1,536.2,78.1,535.8C80.1,535.4,81.9,535.7,83.6,535.8C85.3,535.9,86.6,536.0,88.2,536.3C89.8,536.5,91.7,537.0,93.4,537.3C95.1,537.6,96.9,537.9,98.6,538.3C100.3,538.6,102.0,538.9,103.7,539.4C105.4,539.9,107.2,540.7,108.9,541.4C110.6,542.1,112.8,543.0,114.0,543.5C115.2,544.0,115.7,544.3,116.0,544.5M61.3,542.0C62.4,541.6,65.6,540.3,67.8,539.7C70.0,539.1,72.2,538.6,74.2,538.4C76.2,538.1,78.4,538.4,80.0,538.2C81.6,538.1,82.2,537.3,83.6,537.5C85.0,537.7,86.6,538.8,88.2,539.4C89.8,540.0,91.7,540.4,93.4,540.9C95.1,541.4,97.3,542.0,98.6,542.5C99.9,543.0,100.6,543.8,101.0,544.0M84.0,538.0C84.5,538.2,86.2,538.8,87.2,539.4C88.2,540.0,89.1,540.6,90.3,541.4C91.5,542.2,93.7,543.6,94.4,544.0M118.0,506.4C118.9,506.0,121.5,504.8,123.2,504.3C124.9,503.8,126.6,503.6,128.3,503.3C130.0,503.1,131.8,502.8,133.5,502.8C135.2,502.8,136.9,503.2,138.6,503.3C140.3,503.4,142.2,503.1,143.8,503.1C145.4,503.1,147.4,503.4,148.4,503.3C149.4,503.2,148.4,502.8,150.0,502.8C151.6,502.8,155.1,503.1,157.7,503.3C160.3,503.6,162.9,504.0,165.5,504.3C168.1,504.6,170.8,504.9,173.2,505.0C175.5,505.1,177.8,504.7,179.6,504.6C181.4,504.5,182.3,504.5,183.8,504.3C185.3,504.1,187.0,503.8,188.7,503.3C190.4,502.8,191.9,502.0,193.8,501.1C195.7,500.2,198.1,498.7,199.9,498.1C201.7,497.5,202.9,497.5,204.4,497.6C205.9,497.7,207.1,498.0,208.9,498.5C210.7,499.0,213.2,499.9,215.3,500.4C217.5,500.9,219.4,501.4,221.8,501.7C224.2,502.0,226.9,502.2,229.5,502.4C232.1,502.6,234.4,502.7,237.2,502.8C239.9,502.9,244.5,503.0,246.0,503.0M118.0,507.4C119.0,507.1,122.1,506.3,124.2,505.9C126.3,505.5,128.5,505.1,130.4,504.8C132.3,504.5,134.1,504.3,135.5,504.3C136.9,504.3,137.2,504.6,138.6,504.8C140.0,505.0,142.2,505.2,143.8,505.3C145.4,505.4,147.4,505.6,148.4,505.3C149.4,505.0,148.7,503.7,150.0,503.5C151.3,503.3,154.2,503.9,156.4,504.3C158.6,504.8,160.8,505.7,162.9,506.2C165.1,506.7,167.2,507.4,169.3,507.5C171.5,507.6,173.9,507.1,175.8,506.9C177.7,506.7,179.6,506.3,180.9,506.2C182.2,506.1,182.5,506.3,183.8,506.2C185.1,506.1,186.8,505.9,188.7,505.6C190.6,505.3,193.2,505.1,195.1,504.6C197.0,504.1,198.4,503.6,200.0,502.5C201.6,501.4,202.7,498.5,204.4,498.1C206.1,497.8,208.2,499.6,210.2,500.4C212.2,501.2,214.2,502.2,216.6,503.0C219.0,503.8,221.8,504.5,224.4,505.0C227.0,505.5,229.8,506.1,232.1,506.2C234.4,506.3,236.2,505.9,238.5,505.6C240.8,505.3,244.8,504.5,246.0,504.3M204.4,498.6C205.6,499.1,209.0,500.8,211.5,501.7C214.0,502.6,216.6,503.6,219.2,504.3C221.8,505.1,224.3,505.7,226.9,506.2C229.5,506.7,232.3,507.5,234.7,507.5C237.1,507.5,239.2,506.5,241.1,506.2C243.0,505.9,245.2,505.7,246.0,505.6M118.0,511.0C118.9,510.9,121.5,510.8,123.2,510.5C124.9,510.2,126.6,509.7,128.3,509.0C130.0,508.3,131.8,507.0,133.5,506.4C135.2,505.8,136.1,505.2,138.6,505.1C141.1,505.0,146.3,505.7,148.4,505.9C150.5,506.1,149.9,506.3,151.0,506.5C152.1,506.7,153.6,506.4,155.2,506.9C156.8,507.4,158.4,508.9,160.3,509.5C162.2,510.1,164.9,510.6,166.8,510.8C168.7,511.0,170.0,511.0,171.9,510.8C173.8,510.6,176.4,509.8,178.4,509.5C180.4,509.2,182.1,509.1,183.8,509.2C185.5,509.3,187.0,509.8,188.7,510.1C190.4,510.4,192.6,510.7,193.8,510.8C195.0,510.9,195.0,510.5,196.0,510.8C197.0,511.1,198.5,512.1,199.9,512.7C201.3,513.3,202.7,514.4,204.4,514.6C206.1,514.8,208.4,513.9,210.2,514.0C212.0,514.1,213.4,514.7,215.3,515.3C217.2,515.9,219.9,517.3,221.8,517.8C223.7,518.3,225.2,518.6,226.9,518.5C228.6,518.4,230.4,518.1,232.1,517.2C233.8,516.3,235.7,514.7,237.2,513.3C238.7,511.9,239.6,510.1,241.1,508.8C242.6,507.5,245.2,505.8,246.0,505.2M118.0,514.1C118.9,514.2,121.5,514.9,123.2,514.6C124.9,514.4,126.6,513.6,128.3,512.6C130.0,511.6,131.8,509.6,133.5,508.4C135.2,507.2,136.1,506.0,138.6,505.6C141.1,505.2,146.2,505.8,148.4,506.2C150.6,506.6,150.9,507.4,152.0,508.0C153.1,508.6,153.8,508.6,155.2,509.5C156.6,510.4,158.6,512.3,160.3,513.3C162.0,514.3,163.8,515.1,165.5,515.3C167.2,515.5,168.9,515.1,170.6,514.6C172.3,514.1,174.1,512.8,175.8,512.0C177.5,511.2,179.6,510.5,180.9,510.1C182.2,509.7,182.5,509.7,183.8,509.8C185.1,509.9,187.0,510.7,188.7,511.0C190.4,511.3,192.6,511.6,193.8,511.8C195.0,512.0,195.0,511.8,196.0,512.0C197.0,512.2,198.5,512.8,199.9,513.3C201.3,513.8,202.7,514.7,204.4,515.0C206.1,515.3,208.4,514.9,210.2,515.3C212.0,515.7,213.4,516.4,215.3,517.2C217.2,518.1,219.9,519.6,221.8,520.4C223.7,521.1,225.2,521.7,226.9,521.7C228.6,521.7,230.4,521.4,232.1,520.4C233.8,519.4,235.7,517.6,237.2,515.9C238.7,514.2,239.6,511.8,241.1,510.1C242.6,508.5,245.2,506.7,246.0,506.0M118.0,518.7C118.5,519.0,120.1,520.1,121.1,520.3C122.1,520.5,123.0,520.4,124.2,519.8C125.4,519.2,126.8,518.2,128.3,516.7C129.9,515.2,131.9,512.2,133.5,510.5C135.1,508.8,136.2,507.2,137.6,506.4C139.0,505.6,140.2,505.8,142.0,505.8C143.8,505.8,146.8,506.2,148.4,506.6C150.0,507.0,150.0,507.1,151.3,508.0C152.6,508.9,154.7,510.6,156.4,512.0C158.1,513.4,160.0,515.5,161.6,516.6C163.2,517.7,164.6,518.4,166.1,518.5C167.6,518.6,169.0,518.0,170.6,517.2C172.2,516.5,174.1,515.0,175.8,514.0C177.5,513.0,179.6,511.9,180.9,511.4C182.2,510.9,182.5,510.7,183.8,510.8C185.1,510.9,187.0,511.6,188.7,512.0C190.4,512.4,191.9,512.9,193.8,513.3C195.7,513.7,198.2,513.9,200.0,514.2C201.8,514.5,202.9,515.1,204.4,515.2C205.9,515.3,207.1,514.2,208.9,514.6C210.7,515.0,213.2,516.6,215.3,517.8C217.5,519.0,219.9,520.7,221.8,521.7C223.7,522.7,225.2,523.5,226.9,523.6C228.6,523.7,230.4,523.5,232.1,522.4C233.8,521.3,235.5,519.4,237.2,517.2C238.9,515.1,240.9,511.4,242.4,509.5C243.9,507.6,245.4,506.2,246.0,505.5M118.0,516.2C118.9,516.4,121.5,517.5,123.2,517.2C124.9,516.9,126.6,515.9,128.3,514.6C130.0,513.3,132.1,510.9,133.5,509.5C134.9,508.1,136.4,507.0,137.0,506.5M183.8,511.4C184.6,511.7,187.0,512.8,188.7,513.3C190.4,513.8,191.9,514.5,193.8,514.6C195.7,514.7,198.2,514.0,200.0,514.0C201.8,514.0,203.7,514.3,204.4,514.4M118.0,536.3C118.7,536.1,120.7,536.1,122.1,535.2C123.5,534.3,124.8,532.5,126.2,531.1C127.6,529.7,129.0,528.2,130.4,527.0C131.8,525.8,133.1,524.5,134.5,523.9C135.9,523.3,137.0,523.5,138.6,523.4C140.2,523.3,142.2,523.3,143.8,523.4C145.4,523.5,147.4,523.7,148.4,523.7C149.4,523.7,149.1,523.4,150.0,523.6C150.9,523.8,152.6,524.0,153.9,524.9C155.2,525.8,156.2,527.3,157.7,528.8C159.2,530.3,161.2,532.7,162.9,534.0C164.6,535.3,165.8,536.3,168.0,536.5C170.2,536.7,173.2,536.1,175.8,535.2C178.4,534.4,181.2,532.5,183.8,531.4C186.4,530.3,189.2,529.5,191.2,528.8C193.2,528.1,194.6,527.4,196.0,527.0C197.4,526.6,198.5,526.8,199.9,526.2C201.3,525.6,202.9,523.7,204.4,523.6C205.9,523.5,207.3,524.5,208.9,525.6C210.5,526.7,212.3,528.8,214.0,530.1C215.7,531.4,217.5,532.4,219.2,533.3C220.9,534.1,222.7,535.1,224.4,535.2C226.1,535.3,227.8,534.6,229.5,534.0C231.2,533.4,233.0,532.6,234.7,531.4C236.4,530.2,237.9,528.2,239.8,526.9C241.7,525.6,245.0,524.0,246.0,523.4M118.0,537.3C118.7,537.1,120.7,537.1,122.1,536.3C123.5,535.5,124.8,534.0,126.2,532.7C127.6,531.4,129.0,529.8,130.4,528.5C131.8,527.2,133.1,525.6,134.5,524.9C135.9,524.2,137.0,524.2,138.6,524.1C140.2,524.0,142.2,524.1,143.8,524.2C145.4,524.3,147.4,524.6,148.4,524.7C149.4,524.8,148.9,524.4,150.0,524.9C151.1,525.4,153.5,526.2,155.2,527.5C156.9,528.8,158.6,531.0,160.3,532.7C162.0,534.4,163.6,536.8,165.5,537.8C167.4,538.8,169.8,538.7,171.9,538.5C174.1,538.3,176.4,537.2,178.4,536.5C180.4,535.8,181.7,534.8,183.8,534.0C185.9,533.2,189.2,532.7,191.2,532.0C193.2,531.3,194.6,530.8,196.0,530.0C197.4,529.2,198.5,528.4,199.9,527.5C201.3,526.6,202.9,525.0,204.4,524.9C205.9,524.8,207.3,525.8,208.9,526.9C210.5,528.0,212.3,530.1,214.0,531.4C215.7,532.7,217.5,533.8,219.2,534.6C220.9,535.5,222.7,536.4,224.4,536.5C226.1,536.6,227.8,535.8,229.5,535.2C231.2,534.6,233.0,533.8,234.7,532.7C236.4,531.6,237.9,530.1,239.8,528.8C241.7,527.4,245.0,525.3,246.0,524.6M118.0,541.4C118.7,541.1,120.7,540.4,122.1,539.4C123.5,538.4,124.8,536.8,126.2,535.2C127.6,533.7,129.0,531.8,130.4,530.1C131.8,528.4,133.8,525.8,134.5,524.9M124.2,544.0C124.9,543.2,127.1,541.0,128.3,539.4C129.5,537.8,130.4,536.1,131.4,534.2C132.4,532.3,133.5,529.6,134.5,528.0C135.5,526.4,137.1,525.0,137.6,524.4M148.4,524.2C148.7,524.5,148.9,525.0,150.0,526.2C151.1,527.4,153.7,529.5,155.2,531.4C156.7,533.3,157.7,536.1,159.0,537.8C160.3,539.5,161.6,540.7,162.9,541.7C164.2,542.7,166.2,543.6,166.8,544.0M148.4,524.5C148.7,525.2,149.1,527.0,150.0,528.8C150.9,530.6,152.6,533.1,153.9,535.2C155.2,537.4,156.7,540.2,157.7,541.7C158.7,543.2,159.4,543.6,159.7,544.0M166.8,544.0C168.3,543.6,173.0,542.6,175.8,541.7C178.6,540.8,181.2,539.4,183.8,538.5C186.4,537.6,189.2,537.0,191.2,536.5C193.2,536.0,194.6,535.9,196.0,535.5C197.4,535.1,198.5,534.8,199.9,534.0C201.3,533.2,202.7,531.6,204.4,531.0C206.1,530.4,209.2,530.2,210.2,530.1M196.0,534.0C196.7,533.2,198.5,530.7,199.9,529.4C201.3,528.1,202.7,526.1,204.4,526.2C206.1,526.3,208.4,528.6,210.2,530.1C212.0,531.6,213.4,533.7,215.3,535.2C217.2,536.7,219.9,538.2,221.8,539.1C223.7,540.0,225.2,540.4,226.9,540.4C228.6,540.4,230.4,540.0,232.1,539.1C233.8,538.2,235.5,537.1,237.2,535.2C238.9,533.3,240.9,529.3,242.4,527.5C243.9,525.7,245.4,525.0,246.0,524.5M175.8,544.0C177.1,543.6,181.2,542.3,183.8,541.7C186.4,541.1,189.2,541.0,191.2,540.4C193.2,539.8,194.6,538.1,196.0,537.8C197.4,537.5,198.5,538.3,199.9,538.5C201.3,538.7,202.7,539.3,204.4,539.1C206.1,538.9,208.4,537.7,210.2,537.2C212.0,536.7,213.7,536.3,215.3,535.9C216.9,535.5,219.2,535.1,220.0,535.0M196.0,539.7C196.9,539.6,199.8,539.1,201.2,539.1C202.6,539.1,202.9,539.5,204.4,539.6C205.9,539.7,208.4,539.2,210.2,539.7C212.0,540.2,213.8,541.6,215.3,542.3C216.8,543.0,218.5,543.7,219.2,544.0M232.1,544.0C232.9,542.8,235.7,538.8,237.2,536.5C238.7,534.2,239.6,532.1,241.1,530.1C242.6,528.1,245.2,525.7,246.0,524.8M51.7,541.0C52.0,541.4,53.0,542.6,53.9,543.2C54.8,543.8,55.6,544.3,56.9,544.7C58.1,545.1,59.6,545.3,61.3,545.5C63.0,545.6,66.0,545.5,67.0,545.5M53.1,541.0C53.8,541.2,55.5,542.1,56.9,542.5C58.2,542.9,59.6,543.1,61.3,543.2C63.0,543.4,66.0,543.2,67.0,543.2M42.0,551.4C43.0,551.0,46.2,550.0,47.9,549.2C49.7,548.3,51.3,547.1,52.4,546.2C53.5,545.3,53.9,544.5,54.6,544.0C55.4,543.4,56.5,543.0,56.9,542.9M42.0,558.1C42.6,557.6,44.5,556.0,45.7,555.1C47.0,554.2,48.2,553.4,49.4,552.9C50.7,552.4,51.9,552.0,53.1,552.1C54.4,552.3,55.6,553.0,56.9,553.6C58.1,554.2,59.3,555.2,60.6,555.9C61.8,556.5,63.2,557.2,64.3,557.7C65.4,558.2,66.5,558.6,67.0,558.8M42.0,559.6C42.6,559.2,44.5,557.8,45.7,557.3C47.0,556.8,48.2,556.6,49.4,556.6C50.7,556.6,51.9,557.0,53.1,557.3C54.4,557.7,55.6,558.2,56.9,558.8C58.1,559.4,59.3,560.3,60.6,561.1C61.8,561.8,63.2,562.7,64.3,563.3C65.4,563.9,66.5,564.5,67.0,564.8M42.0,561.8C42.5,561.6,44.0,560.8,45.0,560.3C46.0,559.8,47.0,559.2,47.9,558.8C48.9,558.5,49.9,558.1,50.9,558.1C51.9,558.1,52.9,558.3,53.9,558.8C54.9,559.3,55.9,560.3,56.9,561.1C57.8,561.8,58.7,562.5,59.8,563.3C60.9,564.0,62.4,564.9,63.5,565.5C64.7,566.1,66.4,566.8,67.0,567.0M42.0,563.3C42.7,563.2,45.0,562.7,46.5,562.5C47.9,562.4,49.4,562.4,50.9,562.5C52.4,562.7,54.0,562.9,55.4,563.3C56.7,563.7,57.8,564.3,59.1,564.8C60.3,565.3,61.5,565.9,62.8,566.3C64.1,566.7,66.3,567.0,67.0,567.2M42.0,564.8C42.5,564.9,44.0,565.3,45.0,565.5C46.0,565.8,47.0,566.0,47.9,566.3C48.9,566.5,49.9,567.0,50.9,567.0C51.9,567.0,52.9,566.6,53.9,566.3C54.9,565.9,55.6,565.1,56.9,564.8C58.1,564.4,59.6,564.2,61.3,564.0C63.0,563.9,66.0,564.0,67.0,564.0M56.9,553.6C57.6,553.5,59.6,553.3,61.3,553.0C63.0,552.8,66.0,552.4,67.0,552.3M42.0,566.3C42.6,566.8,44.5,568.4,45.7,569.2C47.0,570.1,48.2,570.7,49.4,571.5C50.7,572.2,51.9,572.9,53.1,573.7C54.4,574.4,55.6,575.3,56.9,575.9C58.1,576.5,59.3,577.0,60.6,577.4C61.8,577.8,63.2,578.0,64.3,578.1C65.4,578.3,66.5,578.5,67.0,578.5M42.0,567.7C42.6,568.2,44.5,569.9,45.7,570.7C47.0,571.6,48.2,572.2,49.4,572.9C50.7,573.7,51.9,574.4,53.1,575.2C54.4,575.9,55.6,576.8,56.9,577.4C58.1,578.0,59.3,578.5,60.6,578.9C61.8,579.3,63.2,579.5,64.3,579.6C65.4,579.8,66.5,579.6,67.0,579.6M53.9,564.8C54.3,565.4,55.4,567.3,56.1,568.5C56.9,569.7,57.6,571.1,58.3,572.2C59.1,573.3,59.8,574.6,60.6,575.2C61.3,575.8,62.1,575.9,62.8,575.9C63.5,575.9,64.3,575.4,65.0,575.2C65.7,574.9,66.6,574.6,67.0,574.4M42.0,579.6C42.5,579.3,44.0,578.0,45.0,577.4C46.0,576.8,47.1,576.0,47.9,575.9C48.8,575.8,49.3,576.2,50.2,576.7C51.0,577.2,52.0,578.0,53.1,578.9C54.3,579.8,55.6,580.9,56.9,581.9C58.1,582.9,59.3,584.0,60.6,584.8C61.8,585.7,63.2,586.4,64.3,587.1C65.4,587.7,66.5,588.3,67.0,588.5M42.0,581.1C42.5,580.9,44.0,580.1,45.0,579.6C46.0,579.1,47.1,578.4,47.9,578.1C48.8,577.9,49.3,577.8,50.2,578.1C51.0,578.5,52.0,579.5,53.1,580.4C54.3,581.2,55.6,582.4,56.9,583.3C58.1,584.3,59.3,585.5,60.6,586.3C61.8,587.2,63.2,588.0,64.3,588.5C65.4,589.1,66.5,589.5,67.0,589.7M42.0,584.1C42.5,584.3,44.0,585.0,45.0,585.6C46.0,586.2,47.1,587.1,47.9,587.8C48.8,588.5,49.6,589.5,50.2,590.0C50.8,590.6,51.4,590.8,51.7,591.0M42.0,587.1C42.4,587.3,43.5,587.9,44.2,588.5C45.0,589.2,46.1,590.6,46.5,591.0M53.9,587.1C54.4,586.8,55.7,585.9,56.9,585.6C58.0,585.2,59.3,584.8,60.6,584.8C61.8,584.8,63.2,585.3,64.3,585.6C65.4,585.8,66.5,586.2,67.0,586.3M60.6,591.0C61.2,590.6,63.2,589.1,64.3,588.5C65.4,588.0,66.5,587.6,67.0,587.4M67.0,545.5C67.5,545.6,69.0,546.3,70.0,546.2C71.0,546.1,72.1,545.3,72.9,544.7C73.8,544.1,74.6,543.1,75.2,542.5C75.8,541.9,76.4,541.2,76.7,541.0M67.0,548.4C67.7,548.7,70.0,549.3,71.5,549.9C72.9,550.5,74.4,551.3,75.9,552.1C77.4,553.0,79.1,554.3,80.4,555.1C81.6,555.9,82.4,557.1,83.3,557.0C84.3,556.8,85.3,555.2,86.3,554.4C87.3,553.6,88.3,552.9,89.3,552.1C90.2,551.4,91.5,550.3,92.0,549.9M67.0,552.9C67.7,552.8,70.0,552.1,71.5,552.1C72.9,552.2,74.4,552.6,75.9,553.3C77.4,553.9,79.1,555.1,80.4,555.9C81.6,556.7,82.2,557.2,83.3,558.1C84.5,559.0,85.8,560.1,87.1,561.1C88.3,562.1,90.0,563.4,90.8,564.0C91.6,564.7,91.8,564.7,92.0,564.8M67.0,561.8C67.6,561.6,69.5,560.8,70.7,560.3C72.0,559.8,73.1,559.2,74.4,558.8C75.8,558.5,77.4,558.1,78.9,558.1C80.4,558.1,82.0,559.1,83.3,558.8C84.7,558.6,85.6,557.0,87.1,556.6C88.5,556.2,91.1,556.6,92.0,556.6M67.0,563.3C67.7,562.9,70.0,561.6,71.5,561.1C72.9,560.5,74.4,560.1,75.9,559.9C77.4,559.8,79.1,559.8,80.4,559.9C81.6,560.1,82.2,560.4,83.3,560.7C84.5,561.0,85.6,561.4,87.1,561.8C88.5,562.2,91.1,563.0,92.0,563.3M67.0,565.5C67.6,565.1,69.5,563.9,70.7,563.3C72.0,562.7,73.2,562.2,74.4,561.8C75.7,561.4,76.7,561.1,78.1,561.1C79.6,561.0,82.5,561.4,83.3,561.4M67.0,568.5C67.7,568.6,70.0,569.4,71.5,569.2C72.9,569.1,74.4,568.5,75.9,567.7C77.4,567.0,79.1,565.8,80.4,564.8C81.6,563.8,82.4,562.7,83.3,561.8C84.3,560.9,85.3,560.2,86.3,559.6C87.3,559.0,88.3,558.5,89.3,558.1C90.2,557.7,91.5,557.2,92.0,557.0M67.0,575.2C67.5,575.5,69.0,576.5,70.0,577.4C71.0,578.3,72.0,579.5,72.9,580.4C73.9,581.2,74.9,582.0,75.9,582.6C76.9,583.2,77.6,584.0,78.9,584.1C80.1,584.2,82.1,583.8,83.3,583.3C84.6,582.9,85.3,581.6,86.3,581.1C87.3,580.6,88.3,580.4,89.3,580.4C90.2,580.4,91.5,581.0,92.0,581.1M67.0,579.6C67.7,579.7,70.0,579.8,71.5,580.0C72.9,580.3,74.4,580.9,75.9,581.1C77.4,581.4,79.1,581.4,80.4,581.5C81.6,581.6,82.1,581.6,83.3,581.5C84.6,581.4,86.4,581.1,87.8,581.1C89.2,581.1,91.3,581.4,92.0,581.5M67.0,581.1C67.7,581.1,70.0,580.9,71.5,581.1C72.9,581.4,74.4,582.4,75.9,582.6C77.4,582.9,79.1,582.7,80.4,582.6C81.6,582.5,82.2,581.9,83.3,581.9C84.5,581.9,85.6,582.5,87.1,582.6C88.5,582.7,91.1,582.6,92.0,582.6M67.0,585.6C67.7,585.6,70.0,585.3,71.5,585.6C72.9,585.8,74.4,586.4,75.9,587.1C77.4,587.7,79.1,588.7,80.4,589.3C81.6,589.8,82.2,590.5,83.3,590.4C84.5,590.3,85.6,589.4,87.1,588.9C88.5,588.5,91.1,588.0,92.0,587.8M67.0,587.1C67.7,586.9,70.2,586.2,71.5,586.3C72.7,586.4,73.4,587.2,74.4,587.8C75.4,588.4,76.7,589.5,77.4,590.0C78.1,590.6,78.6,590.8,78.9,591.0M84.1,591.0C84.6,590.7,86.2,589.7,87.1,589.3C87.9,588.9,88.5,588.8,89.3,588.5C90.1,588.3,91.5,587.9,92.0,587.8M92.0,541.7C92.7,541.7,95.0,541.5,96.5,541.4C97.9,541.2,100.2,541.1,100.9,541.0M92.0,543.2C92.6,543.6,94.5,544.6,95.7,545.5C97.0,546.3,98.2,547.4,99.4,548.4C100.7,549.4,101.9,551.3,103.1,551.4C104.4,551.5,105.5,549.9,106.9,549.2C108.2,548.4,110.1,547.4,111.3,546.9C112.6,546.4,113.3,546.4,114.3,546.2C115.2,546.0,116.5,545.6,117.0,545.5M105.4,541.0C106.0,541.5,107.8,543.1,109.1,544.0C110.3,544.8,111.5,545.7,112.8,546.2C114.1,546.7,116.3,546.8,117.0,546.9M92.0,549.2C92.7,549.0,95.0,548.3,96.5,548.4C97.9,548.6,99.7,549.4,100.9,549.9C102.1,550.4,102.5,550.9,103.5,551.4C104.5,551.9,105.6,552.5,106.9,552.9C108.2,553.3,109.6,553.4,111.3,553.6C113.0,553.8,116.0,553.9,117.0,554.0M92.0,555.9C92.7,555.7,95.0,555.4,96.5,555.1C97.9,554.8,99.7,554.2,100.9,554.0C102.1,553.8,102.5,553.3,103.5,553.6C104.5,553.9,105.7,555.0,106.9,555.9C108.0,556.7,109.3,558.0,110.6,558.8C111.8,559.7,113.2,560.6,114.3,561.1C115.4,561.6,116.5,561.7,117.0,561.8M92.0,558.8C92.7,558.6,95.0,557.8,96.5,557.3C97.9,556.8,99.7,556.3,100.9,555.9C102.1,555.4,102.5,555.0,103.5,554.7C104.5,554.5,105.6,554.3,106.9,554.4C108.2,554.4,110.6,555.0,111.3,555.1M103.5,552.1C104.1,551.9,105.6,551.0,106.9,550.7C108.2,550.3,109.6,549.9,111.3,549.9C113.0,549.9,116.0,550.5,117.0,550.7M92.0,561.1C92.6,561.7,94.5,563.5,95.7,564.8C97.0,566.0,98.2,567.3,99.4,568.5C100.7,569.7,101.9,572.0,103.1,572.2C104.4,572.5,105.5,570.8,106.9,570.0C108.2,569.1,110.1,567.9,111.3,567.0C112.6,566.1,113.3,565.3,114.3,564.8C115.2,564.3,116.5,564.2,117.0,564.0M92.0,565.5C92.6,566.0,94.5,567.5,95.7,568.5C97.0,569.5,98.2,570.5,99.4,571.5C100.7,572.5,101.9,574.1,103.1,574.4C104.4,574.8,105.5,574.3,106.9,573.7C108.2,573.1,110.1,571.5,111.3,570.7C112.6,570.0,113.3,569.6,114.3,569.2C115.2,568.9,116.5,568.6,117.0,568.5M92.0,581.1C92.5,580.7,94.0,579.6,95.0,578.9C96.0,578.1,97.0,577.3,97.9,576.7C98.9,576.0,100.0,575.5,100.9,575.2C101.8,574.8,102.5,574.4,103.5,574.4C104.5,574.4,105.6,575.2,106.9,575.2C108.2,575.2,109.6,574.7,111.3,574.4C113.0,574.2,116.0,573.8,117.0,573.7M92.0,582.6C92.5,582.4,94.0,581.7,95.0,581.1C96.0,580.5,97.0,579.5,97.9,578.9C98.9,578.3,100.0,577.8,100.9,577.4C101.8,577.0,102.5,576.5,103.5,576.7C104.5,576.8,105.6,577.9,106.9,578.1C108.2,578.4,109.6,578.3,111.3,578.1C113.0,578.0,116.0,577.5,117.0,577.4M103.1,575.2C103.8,574.9,105.5,574.2,106.9,573.7C108.2,573.2,110.1,572.6,111.3,572.2C112.6,571.8,113.3,571.7,114.3,571.5C115.2,571.2,116.5,570.8,117.0,570.7M92.0,585.6C92.5,585.6,94.0,585.1,95.0,585.6C96.0,586.1,97.0,587.7,97.9,588.5C98.9,589.4,100.0,590.0,100.9,590.4C101.8,590.8,103.1,590.9,103.5,591.0M103.5,591.0C104.1,590.3,105.6,588.0,106.9,587.1C108.2,586.2,110.1,585.7,111.3,585.6C112.6,585.5,113.3,585.8,114.3,586.3C115.2,586.8,116.5,588.2,117.0,588.5M92.0,588.5C92.5,588.4,94.0,587.7,95.0,587.8C96.0,587.9,97.0,588.8,97.9,589.3C98.9,589.8,100.4,590.7,100.9,591.0M103.5,575.9C104.1,576.4,105.6,578.3,106.9,578.9C108.2,579.5,109.6,579.6,111.3,579.6C113.0,579.6,116.0,579.0,117.0,578.9M117.0,543.2C117.7,543.1,120.0,542.5,121.5,542.5C122.9,542.5,124.7,543.4,125.9,543.2C127.2,543.1,128.4,542.0,128.9,541.7M117.0,545.5C117.6,545.4,119.5,545.0,120.7,545.1C122.0,545.2,123.2,546.3,124.4,546.2C125.7,546.1,127.2,545.3,128.1,544.7C129.1,544.1,129.9,543.1,130.4,542.5C130.9,541.9,131.0,541.2,131.1,541.0M117.0,549.9C117.6,549.8,119.5,549.5,120.7,549.2C122.0,548.8,123.2,547.9,124.4,547.7C125.7,547.4,126.9,547.4,128.1,547.7C129.4,547.9,130.6,548.7,131.9,549.2C133.1,549.7,134.5,550.2,135.6,550.7C136.7,551.1,137.5,551.5,138.5,551.8C139.6,552.0,141.4,552.1,142.0,552.1M117.0,552.1C117.6,552.0,119.5,551.8,120.7,551.4C122.0,551.0,123.2,550.4,124.4,549.9C125.7,549.4,127.5,548.7,128.1,548.4M117.0,557.3C117.6,557.1,119.5,556.4,120.7,555.9C122.0,555.4,123.2,555.0,124.4,554.4C125.7,553.8,126.9,552.0,128.1,552.1C129.4,552.3,130.6,554.0,131.9,555.1C133.1,556.2,134.5,557.6,135.6,558.8C136.7,560.1,137.5,561.8,138.5,562.5C139.6,563.3,141.4,563.2,142.0,563.3M117.0,561.1C117.6,560.8,119.5,560.2,120.7,559.6C122.0,559.0,123.2,558.0,124.4,557.3C125.7,556.7,126.9,556.0,128.1,555.9C129.4,555.7,130.6,555.9,131.9,556.6C133.1,557.3,134.5,559.1,135.6,560.3C136.7,561.6,137.5,563.2,138.5,564.0C139.6,564.9,141.4,565.3,142.0,565.5M117.0,564.8C117.6,564.5,119.5,563.8,120.7,563.3C122.0,562.8,123.2,562.2,124.4,561.8C125.7,561.4,126.9,560.9,128.1,561.1C129.4,561.2,130.6,562.1,131.9,562.5C133.1,563.0,134.5,563.7,135.6,564.0C136.7,564.4,137.5,564.8,138.5,564.8C139.6,564.8,141.4,564.2,142.0,564.0M117.0,569.2C117.6,569.2,119.5,569.3,120.7,569.2C122.0,569.2,123.2,569.1,124.4,568.9C125.7,568.6,126.9,568.2,128.1,567.7C129.4,567.3,130.6,566.8,131.9,566.3C133.1,565.8,134.5,565.3,135.6,564.8C136.7,564.3,137.5,563.7,138.5,563.3C139.6,562.9,141.4,562.7,142.0,562.5M118.5,576.7C119.0,576.2,120.5,574.9,121.5,573.7C122.4,572.5,123.4,570.8,124.4,569.2C125.4,567.6,126.5,565.5,127.4,564.0C128.3,562.5,128.9,561.3,129.6,560.3C130.4,559.3,131.5,558.5,131.9,558.1M120.0,578.9C120.5,578.4,122.0,577.0,122.9,575.9C123.9,574.8,124.9,573.3,125.9,572.2C126.9,571.1,127.9,570.0,128.9,569.2C129.9,568.5,130.6,568.4,131.9,567.7C133.1,567.1,135.2,566.0,136.3,565.5C137.4,565.0,138.2,564.9,138.5,564.8M117.0,575.2C117.6,575.3,119.5,575.9,120.7,575.9C122.0,575.9,123.2,575.5,124.4,575.2C125.7,574.8,126.9,574.1,128.1,573.7C129.4,573.3,130.6,573.4,131.9,572.9C133.1,572.5,134.5,571.7,135.6,570.7C136.7,569.7,138.1,567.6,138.5,567.0M117.0,578.1C117.6,578.4,119.5,579.6,120.7,579.6C122.0,579.6,123.2,578.6,124.4,578.1C125.7,577.7,126.9,577.0,128.1,576.7C129.4,576.3,130.6,575.5,131.9,575.9C133.1,576.3,134.5,578.0,135.6,578.9C136.7,579.8,137.5,580.5,138.5,581.1C139.6,581.7,141.4,582.4,142.0,582.6M117.0,582.6C117.6,582.9,119.5,584.1,120.7,584.1C122.0,584.1,123.2,583.3,124.4,582.6C125.7,581.9,126.9,580.6,128.1,579.6C129.4,578.6,131.2,577.2,131.9,576.7M117.0,585.6C117.6,585.5,119.5,585.1,120.7,584.8C122.0,584.6,123.2,584.5,124.4,584.1C125.7,583.7,126.9,583.0,128.1,582.6C129.4,582.2,130.6,582.1,131.9,581.9C133.1,581.6,134.5,581.2,135.6,581.1C136.7,581.0,137.5,581.2,138.5,581.1C139.6,581.0,141.4,580.5,142.0,580.4M120.7,591.0C121.3,590.3,123.2,588.3,124.4,587.1C125.7,585.8,127.2,584.5,128.1,583.3C129.1,582.2,129.8,581.2,130.4,580.4C131.0,579.5,131.6,578.5,131.9,578.1M117.0,588.5C117.6,588.3,119.5,587.6,120.7,587.1C122.0,586.6,123.2,585.6,124.4,585.6C125.7,585.6,126.9,586.3,128.1,587.1C129.4,587.8,131.0,589.4,131.9,590.0C132.7,590.7,133.1,590.8,133.3,591.0M130.4,591.0C130.9,590.3,132.4,588.3,133.3,587.1C134.3,585.8,135.4,584.3,136.3,583.3C137.2,582.4,138.2,581.5,138.5,581.1M131.9,591.0C132.4,590.3,133.8,588.2,134.8,587.1C135.8,585.9,136.6,585.1,137.8,584.1C139.0,583.1,141.3,581.6,142.0,581.1M138.5,563.3C138.9,563.0,140.2,562.2,140.8,561.8C141.3,561.4,141.8,561.2,142.0,561.1M157.6,541.0C158.0,541.4,159.0,542.6,159.8,543.2C160.7,543.8,161.6,544.4,162.8,544.7C164.0,545.0,166.3,545.0,167.0,545.1M142.0,552.1C142.5,552.3,143.9,552.5,145.0,552.9C146.0,553.3,147.2,554.7,148.3,554.7C149.4,554.7,150.5,553.6,151.7,552.9C152.8,552.2,154.1,551.4,155.4,550.7C156.6,549.9,157.8,548.4,159.1,548.4C160.3,548.4,161.5,549.7,162.8,550.7C164.1,551.6,166.3,553.8,167.0,554.4M142.0,558.8C142.5,558.7,143.9,558.1,145.0,558.1C146.0,558.0,147.2,558.3,148.3,558.5C149.4,558.6,150.5,558.7,151.7,558.8C152.8,559.0,154.1,559.3,155.4,559.2C156.6,559.1,157.8,558.0,159.1,558.1C160.3,558.1,161.5,558.7,162.8,559.6C164.1,560.4,166.3,562.7,167.0,563.3M142.0,560.3C142.5,560.2,143.9,559.8,145.0,559.6C146.0,559.3,147.2,558.7,148.3,558.8C149.4,559.0,150.5,559.7,151.7,560.3C152.8,560.9,154.1,561.3,155.4,562.5C156.6,563.8,158.0,566.0,159.1,567.7C160.2,569.5,161.2,571.5,162.1,572.9C162.9,574.4,163.5,575.8,164.3,576.7C165.1,577.5,166.5,577.9,167.0,578.1M142.0,557.3C142.5,557.3,143.9,557.1,145.0,557.0C146.0,556.8,147.2,556.8,148.3,556.6C149.4,556.4,151.1,556.0,151.7,555.9M148.3,558.8C149.0,559.3,151.0,560.8,152.4,561.8C153.8,562.8,155.4,564.4,156.9,564.8C158.3,565.1,159.6,564.0,161.3,564.0C163.0,564.0,166.0,564.7,167.0,564.8M142.0,565.5C142.5,566.0,143.9,567.6,145.0,568.5C146.0,569.4,147.2,570.8,148.3,570.7C149.4,570.6,150.6,568.7,151.7,567.7C152.7,566.8,153.6,565.5,154.6,564.8C155.6,564.0,157.1,563.5,157.6,563.3M142.0,569.2C142.5,569.5,143.9,570.3,145.0,570.7C146.0,571.1,147.2,571.0,148.3,571.5C149.4,572.0,150.5,572.9,151.7,573.7C152.8,574.4,154.0,575.3,155.4,575.9C156.7,576.5,158.3,577.0,159.8,577.4C161.3,577.8,163.1,578.0,164.3,578.1C165.5,578.3,166.5,578.1,167.0,578.1M142.0,578.9C142.5,578.8,143.9,578.3,145.0,578.1C146.0,578.0,147.2,578.0,148.3,578.1C149.4,578.3,150.5,578.7,151.7,578.9C152.8,579.1,154.1,579.0,155.4,579.3C156.6,579.5,157.8,579.8,159.1,580.4C160.3,580.9,161.5,581.7,162.8,582.6C164.1,583.5,166.3,585.1,167.0,585.6M142.0,581.1C142.5,580.9,143.9,579.9,145.0,579.6C146.0,579.4,147.2,579.6,148.3,579.6C149.4,579.6,150.5,579.4,151.7,579.6C152.8,579.9,154.1,580.5,155.4,581.1C156.6,581.7,157.8,582.6,159.1,583.3C160.3,584.1,161.5,585.0,162.8,585.6C164.1,586.2,166.3,586.8,167.0,587.1M142.0,583.3C142.5,583.3,143.9,583.5,145.0,583.3C146.0,583.2,147.2,582.9,148.3,582.6C149.4,582.3,150.5,581.5,151.7,581.5C152.8,581.5,154.1,582.0,155.4,582.6C156.6,583.2,157.8,584.1,159.1,584.8C160.3,585.6,161.5,586.4,162.8,587.1C164.1,587.7,166.3,588.3,167.0,588.5M148.3,582.6C148.7,583.1,150.0,584.6,150.9,585.6C151.8,586.6,152.9,587.6,153.9,588.5C154.9,589.5,156.4,590.6,156.9,591.0M149.4,582.6C149.8,583.2,150.8,585.2,151.7,586.3C152.5,587.4,153.9,588.5,154.6,589.3C155.4,590.1,155.9,590.7,156.1,591.0M142.0,563.3C142.5,563.4,143.9,563.7,145.0,564.0C146.0,564.4,147.2,565.6,148.3,565.5C149.4,565.4,151.1,563.7,151.7,563.3M167.0,544.0C167.7,544.0,170.0,544.3,171.5,544.3C172.9,544.3,174.4,544.2,175.9,544.0C177.4,543.8,179.1,543.5,180.4,543.2C181.7,543.0,182.5,542.7,183.7,542.5C185.0,542.2,186.4,542.0,187.8,541.7C189.2,541.5,191.3,541.1,192.0,541.0M167.0,545.5C167.7,545.6,170.0,546.0,171.5,546.2C172.9,546.4,174.4,546.6,175.9,546.6C177.4,546.6,178.9,546.4,180.4,546.2C181.9,546.0,183.3,545.7,184.8,545.5C186.3,545.2,188.1,545.0,189.3,544.7C190.5,544.5,191.5,544.1,192.0,544.0M167.0,546.9C167.7,547.1,170.0,547.5,171.5,547.7C172.9,547.9,174.4,548.1,175.9,548.1C177.4,548.1,179.6,547.7,180.4,547.7M174.4,554.4C175.0,553.6,176.9,551.2,178.1,549.9C179.4,548.7,180.6,547.8,181.9,546.9C183.1,546.1,184.3,545.5,185.6,544.7C186.8,544.0,188.3,543.1,189.3,542.5C190.3,541.9,191.1,541.2,191.5,541.0M167.0,551.4C167.5,551.6,169.0,552.3,170.0,552.9C171.0,553.5,171.8,554.4,172.9,555.1C174.1,555.9,175.4,556.8,176.7,557.3C177.9,557.8,179.2,557.9,180.4,558.1C181.5,558.3,182.5,558.7,183.7,558.5C185.0,558.2,186.4,557.3,187.8,556.6C189.2,555.9,191.3,554.7,192.0,554.4M167.0,555.1C167.6,555.2,169.5,555.6,170.7,555.9C172.0,556.1,173.2,556.2,174.4,556.6C175.7,557.0,176.9,557.5,178.1,558.1C179.4,558.7,180.6,560.1,181.9,560.3C183.1,560.6,184.3,560.1,185.6,559.6C186.8,559.1,188.2,558.0,189.3,557.3C190.4,556.7,191.5,556.1,192.0,555.9M167.0,561.1C167.6,560.8,169.5,559.8,170.7,559.6C172.0,559.3,173.2,559.2,174.4,559.6C175.7,559.9,177.0,561.2,178.1,561.8C179.3,562.4,180.2,563.2,181.1,563.3C182.0,563.4,182.7,563.0,183.7,562.5C184.7,562.1,185.9,561.2,187.1,560.3C188.2,559.4,190.0,558.1,190.8,557.3C191.6,556.6,191.8,556.1,192.0,555.9M167.0,564.0C167.6,564.3,169.5,565.0,170.7,565.5C172.0,566.0,173.2,566.6,174.4,567.0C175.7,567.4,176.9,567.6,178.1,567.7C179.4,567.9,180.6,568.1,181.9,568.1C183.1,568.1,184.3,567.9,185.6,567.7C186.8,567.6,188.2,567.5,189.3,567.4C190.4,567.3,191.5,567.1,192.0,567.0M167.0,566.3C167.5,566.5,169.0,567.0,170.0,567.7C171.0,568.5,172.0,569.9,172.9,570.7C173.9,571.6,174.9,572.3,175.9,572.9C176.9,573.6,177.9,574.1,178.9,574.4C179.9,574.8,180.7,575.3,181.9,575.2C183.0,575.1,184.3,574.2,185.6,573.7C186.8,573.2,188.2,572.6,189.3,572.2C190.4,571.8,191.5,571.6,192.0,571.5M167.0,570.7C167.5,571.0,169.0,571.8,170.0,572.2C171.0,572.6,172.0,572.9,172.9,572.9C173.9,573.0,174.8,572.8,175.9,572.6C177.0,572.3,178.4,571.8,179.6,571.5C180.9,571.2,182.2,571.1,183.3,570.7C184.5,570.3,185.3,569.6,186.3,569.2C187.3,568.9,188.3,568.6,189.3,568.5C190.2,568.4,191.5,568.5,192.0,568.5M174.4,565.5C175.0,565.6,176.9,565.8,178.1,566.3C179.4,566.8,180.6,567.7,181.9,568.5C183.1,569.2,184.3,570.1,185.6,570.7C186.8,571.3,188.2,571.7,189.3,572.2C190.4,572.7,191.5,573.4,192.0,573.7M167.0,575.2C167.5,575.3,169.0,575.7,170.0,575.9C171.0,576.2,171.8,576.3,172.9,576.7C174.1,577.0,175.4,577.7,176.7,578.1C177.9,578.6,179.1,579.3,180.4,579.6C181.6,580.0,182.8,580.4,184.1,580.4C185.3,580.4,186.5,580.0,187.8,579.6C189.1,579.3,191.3,578.4,192.0,578.1M167.0,578.1C167.6,578.4,169.5,579.0,170.7,579.6C172.0,580.3,173.2,581.1,174.4,581.9C175.7,582.6,176.9,583.5,178.1,584.1C179.4,584.7,180.6,585.5,181.9,585.6C183.1,585.7,184.3,585.2,185.6,584.8C186.8,584.5,188.2,583.7,189.3,583.3C190.4,583.0,191.5,582.7,192.0,582.6M167.0,585.6C167.7,585.6,170.0,585.6,171.5,585.6C172.9,585.6,174.4,585.6,175.9,585.6C177.4,585.6,179.1,585.6,180.4,585.6C181.7,585.6,182.5,585.7,183.7,585.6C185.0,585.5,186.4,585.1,187.8,584.8C189.2,584.6,191.3,584.2,192.0,584.1M167.0,589.3C167.7,589.4,170.0,589.9,171.5,590.0C172.9,590.2,174.4,590.0,175.9,590.0C177.4,590.0,178.9,590.2,180.4,590.0C181.9,589.9,183.3,589.5,184.8,589.3C186.3,589.0,188.1,588.8,189.3,588.5C190.5,588.3,191.5,587.9,192.0,587.8M209.1,541.7C209.8,541.8,212.1,541.9,213.5,542.1C215.0,542.3,217.3,542.7,218.0,542.9M192.0,548.4C192.6,548.2,194.5,547.6,195.7,547.3C197.0,547.0,198.0,546.6,199.4,546.6C200.9,546.6,202.6,547.3,204.3,547.3C205.9,547.4,207.5,546.9,209.1,546.9C210.6,547.0,212.1,547.3,213.5,547.7C215.0,548.1,217.3,548.9,218.0,549.2M192.0,552.1C192.6,551.8,194.5,550.5,195.7,549.9C197.0,549.3,198.0,548.9,199.4,548.4C200.9,548.0,203.5,547.5,204.3,547.3M192.0,557.3C192.6,556.8,194.5,555.4,195.7,554.4C197.0,553.4,198.0,552.4,199.4,551.4C200.9,550.4,202.8,548.2,204.3,548.4C205.7,548.7,207.0,551.4,208.3,552.9C209.6,554.4,210.8,556.1,212.1,557.3C213.3,558.6,214.8,559.6,215.8,560.3C216.8,561.0,217.6,561.2,218.0,561.4M192.0,567.7C192.6,567.9,194.5,568.2,195.7,568.5C197.0,568.7,198.0,569.1,199.4,569.2C200.9,569.4,202.6,569.4,204.3,569.2C205.9,569.1,207.5,568.9,209.1,568.5C210.6,568.1,212.1,567.6,213.5,567.0C215.0,566.4,217.3,565.1,218.0,564.8M192.0,570.7C192.6,570.6,194.5,570.3,195.7,570.0C197.0,569.7,198.0,569.0,199.4,568.9C200.9,568.7,202.6,568.9,204.3,569.2C205.9,569.5,207.5,570.2,209.1,570.7C210.6,571.2,212.1,571.7,213.5,572.2C215.0,572.7,217.3,573.4,218.0,573.7M192.0,573.7C192.6,573.2,194.5,571.5,195.7,570.7C197.0,569.9,198.0,569.3,199.4,569.1C200.9,568.9,202.6,568.7,204.3,569.4C205.9,570.0,207.5,571.7,209.1,572.9C210.6,574.2,212.1,575.8,213.5,576.7C215.0,577.5,217.3,577.9,218.0,578.1M192.0,572.9C192.6,572.8,194.5,572.5,195.7,572.2C197.0,572.0,198.0,571.8,199.4,571.5C200.9,571.1,202.6,570.3,204.3,570.0C205.9,569.6,207.5,569.2,209.1,569.2C210.6,569.2,212.1,569.7,213.5,570.0C215.0,570.2,217.3,570.6,218.0,570.7M192.0,575.9C192.5,576.2,194.0,577.0,195.0,577.4C196.0,577.8,197.0,577.8,197.9,578.1C198.9,578.5,199.9,579.1,200.9,579.6C202.0,580.1,202.9,580.6,204.3,581.1C205.6,581.6,207.5,582.2,209.1,582.6C210.6,583.0,212.1,583.3,213.5,583.3C215.0,583.3,217.3,582.7,218.0,582.6M192.0,577.4C192.5,577.3,194.0,576.7,195.0,576.7C196.0,576.7,197.0,577.0,197.9,577.4C198.9,577.8,199.9,578.4,200.9,578.9C202.0,579.4,202.9,580.7,204.3,580.4C205.6,580.0,207.5,577.8,209.1,576.7C210.6,575.5,212.1,574.4,213.5,573.7C215.0,572.9,217.3,572.5,218.0,572.2M204.3,581.1C205.1,580.9,207.5,580.0,209.1,579.6C210.6,579.3,212.1,579.1,213.5,578.9C215.0,578.6,217.3,578.3,218.0,578.1M192.0,587.8C192.7,587.9,195.0,588.3,196.5,588.5C197.9,588.8,199.6,589.2,200.9,589.3C202.2,589.4,202.9,589.4,204.3,589.3C205.6,589.2,207.5,588.8,209.1,588.5C210.6,588.3,212.1,588.1,213.5,587.8C215.0,587.6,217.3,587.2,218.0,587.1M204.3,582.6C205.1,583.0,207.5,584.3,209.1,584.8C210.6,585.3,212.1,585.3,213.5,585.6C215.0,585.8,217.3,586.2,218.0,586.3M218.0,541.7C218.7,541.9,221.0,542.1,222.5,542.5C223.9,542.9,225.4,543.6,226.9,544.0C228.4,544.3,230.1,544.8,231.4,544.7C232.6,544.6,233.6,543.8,234.3,543.2C235.1,542.6,235.6,541.4,235.8,541.0M218.0,548.4C218.7,548.8,221.0,550.1,222.5,550.7C223.9,551.2,225.4,551.8,226.9,551.8C228.4,551.8,230.1,551.2,231.4,550.7C232.6,550.1,233.4,548.7,234.3,548.4C235.3,548.2,236.3,548.6,237.3,549.2C238.3,549.8,238.8,551.2,240.3,552.1C241.7,553.1,245.1,554.6,246.0,555.1M218.0,562.5C218.7,562.1,221.0,560.6,222.5,559.6C223.9,558.6,225.4,557.3,226.9,556.6C228.4,555.9,229.9,555.1,231.4,555.1C232.9,555.1,234.3,556.0,235.8,556.6C237.3,557.2,238.6,558.3,240.3,558.8C242.0,559.3,245.1,559.4,246.0,559.6M218.0,561.1C218.7,560.7,221.0,559.4,222.5,558.8C223.9,558.2,225.4,557.7,226.9,557.3C228.4,557.0,230.6,557.0,231.4,557.0M218.0,564.8C218.7,564.4,221.0,563.2,222.5,562.5C223.9,561.9,225.4,561.6,226.9,561.1C228.4,560.6,229.9,559.9,231.4,559.6C232.9,559.2,234.3,558.8,235.8,558.8C237.3,558.8,238.6,559.2,240.3,559.6C242.0,559.9,245.1,560.8,246.0,561.1M218.0,570.7C218.7,570.6,221.0,570.3,222.5,570.0C223.9,569.6,225.4,569.2,226.9,568.5C228.4,567.7,229.9,566.5,231.4,565.5C232.9,564.5,234.3,563.4,235.8,562.5C237.3,561.7,238.6,560.9,240.3,560.3C242.0,559.7,245.1,559.1,246.0,558.8M218.0,575.2C218.6,574.9,220.5,574.2,221.7,573.7C223.0,573.2,224.2,572.7,225.4,572.2C226.7,571.7,227.9,571.2,229.1,570.7C230.4,570.2,231.6,569.9,232.9,569.2C234.1,568.6,235.3,567.6,236.6,567.0C237.8,566.4,238.7,565.9,240.3,565.5C241.9,565.1,245.1,564.9,246.0,564.8M221.0,575.9C221.5,575.7,222.7,574.8,223.9,574.4C225.2,574.1,226.9,573.9,228.4,573.7C229.9,573.4,231.4,573.2,232.9,572.9C234.3,572.7,236.1,572.6,237.3,572.2C238.6,571.8,238.8,571.3,240.3,570.7C241.7,570.1,245.1,568.9,246.0,568.5M235.8,563.3C235.5,564.3,234.3,567.4,233.6,569.2C232.9,571.1,232.1,572.6,231.4,574.4C230.6,576.3,229.9,578.5,229.1,580.4C228.4,582.2,227.5,584.2,226.9,585.6C226.3,586.9,225.7,588.1,225.4,588.5M236.6,564.8C237.2,565.3,239.2,566.8,240.3,567.7C241.4,568.7,242.3,570.0,243.3,570.7C244.2,571.5,245.6,572.0,246.0,572.2M218.0,578.1C218.6,578.5,220.5,579.6,221.7,580.4C223.0,581.1,224.2,582.2,225.4,582.6C226.7,583.0,227.9,582.9,229.1,582.6C230.4,582.4,231.6,581.6,232.9,581.1C234.1,580.6,235.3,580.0,236.6,579.6C237.8,579.3,238.7,579.1,240.3,578.9C241.9,578.6,245.1,578.3,246.0,578.1M218.0,581.1C218.6,581.5,220.5,582.6,221.7,583.3C223.0,584.1,224.2,585.1,225.4,585.6C226.7,586.1,227.9,586.3,229.1,586.3C230.4,586.3,231.6,585.8,232.9,585.6C234.1,585.3,235.3,585.1,236.6,584.8C237.8,584.6,238.7,584.5,240.3,584.1C241.9,583.7,245.1,582.9,246.0,582.6M218.0,587.1C218.6,587.2,220.5,587.6,221.7,587.8C223.0,588.1,224.2,588.3,225.4,588.5C226.7,588.8,227.9,588.9,229.1,589.3C230.4,589.7,232.2,590.7,232.9,591.0M232.9,591.0C233.5,590.6,235.3,589.5,236.6,588.5C237.8,587.6,239.2,586.4,240.3,585.6C241.4,584.7,242.3,584.0,243.3,583.3C244.2,582.7,245.6,582.1,246.0,581.9M236.6,591.0C237.1,590.6,238.6,589.5,239.5,588.5C240.5,587.6,241.4,586.3,242.5,585.6C243.6,584.8,245.4,584.3,246.0,584.1M46.3,587.0C46.8,587.4,48.2,588.5,49.1,589.1C50.1,589.7,50.9,590.2,52.0,590.6C53.1,590.9,54.5,591.4,55.6,591.3C56.6,591.2,57.6,590.4,58.4,589.9C59.2,589.3,60.1,588.2,60.5,587.7C61.0,587.2,61.1,587.1,61.3,587.0M49.1,587.0C49.6,587.4,51.0,588.4,52.0,589.1C52.9,589.9,53.9,590.6,54.8,591.3C55.8,592.0,56.6,592.8,57.7,593.4C58.8,594.0,60.1,594.4,61.3,594.8C62.4,595.3,63.9,595.9,64.8,596.3C65.8,596.6,66.7,596.9,67.0,597.0M56.3,587.0C56.7,587.4,58.2,588.5,59.1,589.1C60.1,589.7,60.9,590.1,62.0,590.6C63.0,591.0,64.7,591.6,65.5,592.0C66.4,592.3,66.8,592.6,67.0,592.7M59.1,587.0C59.4,587.2,59.8,588.0,60.5,588.4C61.3,588.9,62.3,589.4,63.4,589.9C64.5,590.3,66.4,591.0,67.0,591.3M42.0,600.6C42.7,600.3,44.9,599.7,46.3,599.1C47.7,598.5,49.3,597.5,50.6,597.0C51.9,596.5,52.9,596.2,54.1,596.3C55.3,596.4,56.5,597.1,57.7,597.7C58.9,598.3,60.1,599.2,61.3,599.8C62.4,600.4,63.9,600.9,64.8,601.3C65.8,601.6,66.7,601.9,67.0,602.0M42.0,606.3C42.7,606.0,44.9,605.3,46.3,604.8C47.7,604.4,49.3,604.1,50.6,603.4C51.9,602.7,52.9,600.8,54.1,600.6C55.3,600.3,56.5,601.1,57.7,602.0C58.9,602.8,60.1,604.5,61.3,605.5C62.4,606.6,63.9,607.7,64.8,608.4C65.8,609.1,66.7,609.6,67.0,609.8M42.0,602.0C42.7,601.7,44.9,600.9,46.3,600.6C47.7,600.2,49.1,599.7,50.6,599.8C52.0,600.0,53.5,600.7,54.8,601.3C56.1,601.9,57.2,602.7,58.4,603.4C59.6,604.1,60.8,604.9,62.0,605.5C63.2,606.1,64.7,606.6,65.5,607.0C66.4,607.3,66.8,607.6,67.0,607.7M42.0,613.4C42.7,613.3,44.9,613.1,46.3,613.0C47.7,613.0,49.1,613.0,50.6,613.0C52.0,613.1,53.5,613.2,54.8,613.4C56.1,613.6,57.3,613.6,58.4,614.1C59.5,614.6,60.3,615.4,61.3,616.2C62.2,617.1,63.3,618.1,64.1,619.1C64.9,620.0,65.8,621.4,66.2,621.9C66.7,622.5,66.9,622.5,67.0,622.7M42.0,619.8C42.7,619.7,44.9,619.5,46.3,619.1C47.7,618.7,49.3,618.1,50.6,617.7C51.9,617.2,52.9,616.7,54.1,616.2C55.3,615.8,56.6,614.9,57.7,614.8C58.8,614.7,59.6,615.1,60.5,615.5C61.5,616.0,62.4,616.8,63.4,617.7C64.3,618.5,65.6,619.9,66.2,620.5C66.9,621.1,66.9,621.1,67.0,621.2M42.0,620.4C42.7,620.3,44.9,620.0,46.3,619.7C47.7,619.3,49.3,618.8,50.6,618.4C51.9,617.9,52.9,617.4,54.1,617.0C55.3,616.5,56.6,615.8,57.7,615.7C58.8,615.6,59.6,615.9,60.5,616.4C61.5,616.9,62.9,618.2,63.4,618.5M52.7,632.6C53.2,632.1,54.5,629.9,55.6,629.1C56.6,628.3,57.7,628.0,58.8,628.0C59.8,628.0,61.0,628.3,62.0,629.1C63.0,629.9,64.3,632.1,64.8,632.6M53.8,632.6C54.2,632.2,55.4,630.4,56.3,629.8C57.1,629.2,57.9,628.9,58.8,628.9C59.6,628.9,60.4,629.2,61.3,629.8C62.1,630.4,63.3,632.2,63.8,632.6M75.6,587.0C76.2,587.4,77.8,588.5,79.1,589.1C80.4,589.7,82.0,590.6,83.4,590.6C84.8,590.6,86.2,589.6,87.7,589.1C89.1,588.7,91.3,588.0,92.0,587.7M74.8,587.0C75.5,587.5,77.3,589.0,78.8,589.7C80.2,590.4,81.9,591.1,83.4,591.1C84.9,591.1,86.6,590.2,88.0,589.7C89.5,589.2,91.4,588.5,92.0,588.3M67.0,594.1C67.7,594.0,69.9,593.4,71.3,593.4C72.7,593.4,74.1,593.8,75.6,594.1C77.0,594.5,78.5,595.3,79.8,595.6C81.1,595.9,82.1,595.9,83.4,595.9C84.7,596.0,86.2,595.6,87.7,595.9C89.1,596.2,91.3,597.4,92.0,597.7M67.0,596.3C67.7,596.5,69.9,597.7,71.3,597.7C72.7,597.7,74.1,596.6,75.6,596.3C77.0,595.9,78.5,595.6,79.8,595.6C81.1,595.5,82.8,595.9,83.4,595.9M67.0,600.9C67.6,601.3,69.4,602.6,70.6,603.0C71.8,603.5,72.9,603.7,74.1,603.4C75.3,603.1,76.5,602.1,77.7,601.3C78.9,600.4,80.3,599.2,81.3,598.4C82.2,597.6,83.0,596.6,83.4,596.3M67.0,607.7C67.6,607.8,69.4,608.4,70.6,608.4C71.8,608.4,72.9,608.2,74.1,607.7C75.3,607.2,76.5,606.3,77.7,605.5C78.9,604.8,80.3,603.6,81.3,603.0C82.2,602.5,82.5,602.2,83.4,602.3C84.4,602.5,85.8,603.3,87.0,604.1C88.2,604.9,89.7,606.3,90.5,607.0C91.4,607.7,91.8,608.2,92.0,608.4M67.0,609.1C67.6,609.3,69.4,610.1,70.6,610.2C71.8,610.3,72.9,610.2,74.1,609.8C75.3,609.4,76.5,608.6,77.7,607.7C78.9,606.7,80.3,604.9,81.3,604.1C82.2,603.3,82.5,602.5,83.4,602.7C84.4,602.9,85.8,604.2,87.0,605.2C88.2,606.1,89.7,607.6,90.5,608.4C91.4,609.2,91.8,609.6,92.0,609.8M67.0,609.8C67.6,610.1,69.4,611.0,70.6,611.2C71.8,611.5,72.9,611.6,74.1,611.2C75.3,610.9,76.5,610.1,77.7,609.1C78.9,608.2,80.3,606.4,81.3,605.5C82.2,604.7,82.5,603.6,83.4,603.8C84.4,603.9,85.8,605.3,87.0,606.3C88.2,607.2,89.7,608.7,90.5,609.5C91.4,610.2,91.8,610.7,92.0,610.9M67.0,619.1C67.6,619.6,69.4,621.0,70.6,621.9C71.8,622.9,72.9,624.0,74.1,624.8C75.3,625.6,76.5,626.2,77.7,626.9C78.9,627.7,80.3,628.5,81.3,629.1C82.2,629.6,82.5,630.2,83.4,630.2C84.4,630.2,85.8,629.6,87.0,629.1C88.2,628.5,89.7,627.5,90.5,626.9C91.4,626.3,91.8,625.8,92.0,625.5M67.0,622.7C67.5,623.1,68.9,624.6,69.9,625.5C70.8,626.5,71.8,627.7,72.7,628.4C73.7,629.1,74.5,629.4,75.6,629.8C76.6,630.2,77.8,630.7,79.1,630.9C80.4,631.0,82.7,630.6,83.4,630.5M67.0,624.1C67.5,624.7,68.9,626.6,69.9,627.7C70.8,628.7,71.9,629.7,72.7,630.5C73.5,631.3,74.5,632.3,74.8,632.6M83.4,630.5C83.9,630.0,85.3,628.6,86.3,627.7C87.2,626.7,88.1,625.9,89.1,624.8C90.1,623.7,91.5,621.8,92.0,621.2M84.1,630.6C84.6,630.5,86.0,630.1,87.0,629.8C87.9,629.5,89.0,629.3,89.8,629.1C90.7,628.8,91.7,628.5,92.0,628.4M92.0,587.7C92.7,587.9,94.9,588.4,96.3,588.8C97.7,589.1,99.4,589.7,100.6,589.9C101.7,590.0,102.5,590.1,103.4,589.9C104.4,589.6,105.4,588.9,106.3,588.4C107.1,588.0,108.0,587.2,108.4,587.0M95.6,587.0C95.9,587.7,97.0,590.0,97.7,591.3C98.4,592.6,99.0,593.7,99.8,594.8C100.7,596.0,101.9,597.7,102.7,598.4C103.5,599.1,104.5,599.0,104.8,599.1M104.1,589.1C104.6,589.6,106.0,591.3,107.0,592.0C107.9,592.7,108.9,593.5,109.8,593.4C110.8,593.3,111.7,592.0,112.7,591.3C113.6,590.6,114.8,589.6,115.5,589.1C116.3,588.7,116.8,588.5,117.0,588.4M92.0,597.7C92.7,597.9,94.9,598.6,96.3,599.1C97.7,599.6,99.4,600.2,100.6,600.6C101.7,600.9,102.5,601.3,103.4,601.3C104.4,601.3,105.2,600.9,106.3,600.6C107.3,600.2,108.6,599.6,109.8,599.1C111.0,598.6,112.2,598.1,113.4,597.7C114.6,597.3,116.4,597.1,117.0,597.0M92.0,598.4C92.7,598.6,94.9,599.4,96.3,599.8C97.7,600.3,99.4,600.6,100.6,600.9C101.7,601.2,102.5,601.4,103.4,601.6C104.4,601.8,105.1,601.9,106.3,602.0C107.5,602.1,109.1,602.2,110.5,602.3C112.0,602.5,113.7,602.6,114.8,602.7C115.9,602.8,116.7,602.7,117.0,602.7M104.8,599.1C105.3,598.6,106.7,597.0,107.7,596.3C108.6,595.6,109.6,595.0,110.5,594.8C111.5,594.7,112.3,595.6,113.4,595.6C114.5,595.6,116.4,595.0,117.0,594.8M92.0,605.2C92.6,605.5,94.4,606.7,95.6,607.3C96.8,608.0,98.1,609.2,99.1,609.1C100.2,609.1,101.0,607.7,102.0,607.0C102.9,606.3,103.9,605.3,104.8,604.8C105.8,604.4,106.5,604.0,107.7,604.1C108.9,604.2,110.7,604.9,112.0,605.5C113.3,606.1,114.7,607.2,115.5,607.7C116.4,608.2,116.8,608.3,117.0,608.4M92.0,607.0C92.6,607.3,94.4,608.5,95.6,609.1C96.8,609.7,97.9,610.1,99.1,610.5C100.3,611.0,101.7,611.4,102.7,611.6C103.6,611.8,103.9,612.1,104.8,612.0C105.8,611.8,107.2,611.1,108.4,610.5C109.6,609.9,110.8,609.1,112.0,608.4C113.2,607.7,114.7,606.7,115.5,606.3C116.4,605.8,116.8,605.7,117.0,605.5M104.8,612.0C105.4,612.2,107.2,613.2,108.4,613.4C109.6,613.6,110.8,613.6,112.0,613.4C113.2,613.2,114.7,612.3,115.5,612.0C116.4,611.6,116.8,611.4,117.0,611.2M92.0,619.8C92.5,619.5,93.9,618.2,94.9,617.7C95.8,617.1,96.6,616.8,97.7,616.6C98.8,616.4,100.1,616.2,101.3,616.2C102.5,616.3,103.6,616.8,104.8,617.0C106.0,617.1,107.2,617.2,108.4,617.0C109.6,616.7,110.8,616.1,112.0,615.5C113.2,614.9,114.7,613.9,115.5,613.4C116.4,612.9,116.8,612.8,117.0,612.7M92.0,626.9C92.5,626.3,93.9,624.6,94.9,623.4C95.8,622.2,96.8,620.8,97.7,619.8C98.7,618.8,99.6,617.9,100.6,617.3C101.5,616.7,102.9,616.4,103.4,616.2M92.0,628.4C92.5,627.8,93.9,626.0,94.9,624.8C95.8,623.6,96.8,622.3,97.7,621.2C98.7,620.2,100.1,618.9,100.6,618.4M104.8,617.7C105.4,617.8,107.2,618.4,108.4,618.4C109.6,618.4,110.8,618.1,112.0,617.7C113.2,617.2,114.9,615.9,115.5,615.5M115.5,632.6L117.0,629.8M117.0,588.4C117.6,588.3,119.4,588.0,120.6,587.7C121.8,587.5,123.5,587.1,124.1,587.0M117.0,591.3C117.5,591.0,118.9,590.3,119.9,589.9C120.8,589.4,121.9,588.9,122.7,588.4C123.5,588.0,124.5,587.2,124.8,587.0M117.0,594.1C117.5,593.9,118.9,593.2,119.9,592.7C120.8,592.2,121.8,591.6,122.7,591.3C123.7,590.9,124.6,590.6,125.6,590.6C126.5,590.6,127.5,591.4,128.4,591.3C129.4,591.2,130.3,590.4,131.3,589.9C132.2,589.3,133.4,588.2,134.1,587.7C134.8,587.2,135.3,587.1,135.5,587.0M117.0,599.1C117.5,598.8,118.9,597.7,119.9,597.0C120.8,596.3,121.8,594.8,122.7,594.8C123.7,594.8,124.6,597.1,125.6,597.0C126.5,596.9,127.5,595.1,128.4,594.1C129.4,593.2,130.3,592.2,131.3,591.3C132.2,590.3,133.6,588.9,134.1,588.4M117.0,601.3C117.6,601.0,119.4,600.1,120.6,599.8C121.8,599.5,122.9,599.5,124.1,599.5C125.3,599.4,126.5,599.5,127.7,599.5C128.9,599.5,130.0,599.4,131.3,599.5C132.6,599.6,134.4,600.0,135.5,600.2C136.7,600.4,137.3,600.7,138.4,600.9C139.5,601.1,141.4,601.2,142.0,601.3M117.0,603.4C117.6,603.2,119.4,602.4,120.6,602.0C121.8,601.6,122.9,601.2,124.1,600.9C125.3,600.6,126.5,600.1,127.7,600.2C128.9,600.3,130.1,600.9,131.3,601.3C132.5,601.6,133.6,602.1,134.8,602.3C136.0,602.6,137.2,602.8,138.4,602.7C139.6,602.6,141.4,602.1,142.0,602.0M117.0,609.8C117.5,609.5,118.9,608.5,119.9,607.7C120.8,606.9,121.8,605.8,122.7,604.8C123.7,603.9,124.6,602.6,125.6,602.0C126.5,601.3,127.5,600.7,128.4,600.9C129.4,601.1,130.2,602.6,131.3,603.4C132.3,604.2,133.6,605.1,134.8,605.5C136.0,606.0,137.2,606.1,138.4,606.3C139.6,606.4,141.4,606.3,142.0,606.3M117.0,610.5C117.5,610.3,118.9,609.7,119.9,609.1C120.8,608.5,121.8,607.8,122.7,607.0C123.7,606.1,124.6,604.9,125.6,604.1C126.5,603.3,127.9,602.3,128.4,602.0M117.0,613.4C117.7,613.4,119.9,613.4,121.3,613.4C122.7,613.4,124.1,613.3,125.6,613.2C127.0,613.2,128.4,613.2,129.8,613.2C131.3,613.3,132.7,613.3,134.1,613.4C135.5,613.4,137.1,613.5,138.4,613.5C139.7,613.6,141.4,613.7,142.0,613.7M117.0,613.7C117.5,613.9,118.9,614.2,119.9,614.5C120.8,614.8,121.6,615.1,122.7,615.5C123.8,615.9,125.1,616.5,126.3,617.0C127.5,617.4,128.6,618.0,129.8,618.4C131.0,618.8,132.2,619.2,133.4,619.5C134.6,619.7,135.8,620.1,137.0,620.2C138.2,620.2,139.7,620.0,140.5,619.8C141.4,619.6,141.8,618.9,142.0,618.7M117.7,632.6C118.0,632.1,118.5,630.2,119.1,629.1C119.7,628.0,120.6,626.6,121.3,626.2C122.0,625.9,122.7,626.3,123.4,626.9C124.1,627.5,124.8,628.8,125.6,629.8C126.3,630.7,127.3,632.2,127.7,632.6M118.4,632.6C118.7,632.2,119.3,630.6,119.9,629.8C120.4,629.0,121.3,628.1,122.0,628.0C122.7,627.9,123.4,628.3,124.1,629.1C124.8,629.9,125.9,632.1,126.3,632.6M152.7,587.0C153.2,587.4,154.6,588.4,155.6,589.1C156.5,589.9,157.5,590.7,158.4,591.3C159.4,591.9,160.2,592.3,161.3,592.7C162.3,593.1,163.9,593.3,164.8,593.4C165.8,593.5,166.7,593.4,167.0,593.4M154.8,587.0C155.3,587.5,156.7,588.8,157.7,589.9C158.6,590.9,159.7,592.3,160.5,593.4C161.4,594.5,162.0,595.6,162.7,596.3C163.4,597.0,164.1,597.3,164.8,597.7C165.5,598.1,166.7,598.3,167.0,598.4M162.0,587.0C162.2,587.2,162.8,588.0,163.4,588.4C164.0,588.9,164.9,589.5,165.5,589.9C166.1,590.2,166.8,590.4,167.0,590.6M142.0,599.8C142.6,599.8,144.5,599.6,145.6,599.5C146.6,599.4,147.2,599.3,148.4,599.1C149.6,598.9,151.3,598.6,152.7,598.4C154.1,598.2,155.8,597.8,157.0,597.7C158.2,597.6,158.9,597.6,159.8,597.7C160.8,597.8,161.7,598.2,162.7,598.4C163.6,598.6,164.8,598.9,165.5,599.1C166.3,599.4,166.8,599.7,167.0,599.8M142.0,602.0C142.5,602.3,143.9,603.4,144.9,604.1C145.8,604.8,146.8,606.0,147.7,606.3C148.7,606.6,149.5,606.2,150.6,605.9C151.6,605.6,152.9,605.1,154.1,604.5C155.3,603.8,156.7,602.9,157.7,602.0C158.6,601.1,159.2,600.1,159.8,599.1C160.4,598.2,160.8,597.1,161.3,596.3C161.7,595.4,162.4,594.5,162.7,594.1M142.0,607.0C142.6,607.0,144.5,607.3,145.6,607.3C146.6,607.3,147.2,607.3,148.4,607.0C149.6,606.7,151.4,606.0,152.7,605.5C154.0,605.1,155.2,604.5,156.3,604.1C157.3,603.8,158.2,603.3,159.1,603.4C160.1,603.5,161.1,604.1,162.0,604.8C162.8,605.5,163.3,607.0,164.1,607.7C165.0,608.4,166.5,608.9,167.0,609.1M159.8,597.7C160.2,598.3,161.3,600.0,162.0,601.3C162.7,602.6,163.4,604.4,164.1,605.5C164.8,606.7,165.8,607.8,166.2,608.4C166.7,609.0,166.9,609.0,167.0,609.1M142.0,613.4C142.6,613.4,144.5,613.6,145.6,613.7C146.6,613.9,147.2,613.9,148.4,614.1C149.6,614.3,151.4,614.6,152.7,614.8C154.0,615.0,155.1,615.2,156.3,615.2C157.5,615.2,158.6,615.0,159.8,614.8C161.0,614.6,162.2,614.3,163.4,614.1C164.6,613.9,166.4,613.5,167.0,613.4M142.0,618.4C142.5,618.1,144.0,617.5,144.9,617.0C145.7,616.4,146.4,615.3,147.0,614.8C147.6,614.3,148.2,614.2,148.4,614.1M142.0,619.8C142.6,619.9,144.5,620.1,145.6,620.2C146.6,620.2,147.2,620.2,148.4,620.2C149.6,620.1,151.4,620.1,152.7,619.8C154.0,619.5,155.1,618.9,156.3,618.4C157.5,617.9,158.6,617.4,159.8,617.0C161.0,616.5,162.2,616.0,163.4,615.5C164.6,615.1,166.4,614.3,167.0,614.1M159.8,632.6C160.2,632.2,161.1,630.6,162.0,629.8C162.8,629.0,164.0,628.1,164.8,627.7C165.7,627.2,166.7,627.1,167.0,626.9M160.9,632.6C161.3,632.3,162.3,631.1,163.0,630.5C163.8,629.9,164.9,629.3,165.5,629.1C166.2,628.8,166.8,629.1,167.0,629.1M167.0,591.3C167.7,591.2,169.9,591.1,171.3,590.9C172.7,590.7,174.1,590.3,175.6,590.2C177.0,590.1,178.5,590.2,179.8,590.2C181.2,590.2,182.6,590.5,183.8,590.2C184.9,589.9,186.0,589.0,187.0,588.4C188.0,587.9,189.3,587.2,189.8,587.0M183.8,590.2C184.2,590.6,185.4,592.1,186.3,592.7C187.1,593.4,188.1,593.8,189.1,594.1C190.1,594.4,191.5,594.4,192.0,594.5M167.0,589.1C167.5,589.7,168.9,591.5,169.9,592.7C170.8,593.9,171.6,595.2,172.7,596.3C173.8,597.3,175.1,598.3,176.3,599.1C177.5,600.0,178.6,600.7,179.8,601.3C181.1,601.8,182.5,602.2,183.8,602.3C185.1,602.5,186.3,602.2,187.7,602.0C189.1,601.8,191.3,601.4,192.0,601.3M167.0,593.4C167.6,593.5,169.4,593.9,170.6,594.1C171.8,594.4,172.8,594.3,174.1,594.8C175.4,595.4,177.2,596.7,178.4,597.7C179.6,598.6,180.4,599.8,181.3,600.6C182.2,601.3,183.3,601.7,183.8,602.0M167.0,599.8C167.5,600.3,168.9,602.0,169.9,602.7C170.8,603.4,171.6,603.9,172.7,604.1C173.8,604.4,175.1,604.3,176.3,604.1C177.5,603.9,178.6,603.3,179.8,603.0C181.1,602.8,183.1,602.5,183.8,602.3M167.0,602.0C167.5,602.5,168.9,604.0,169.9,604.8C170.8,605.7,171.6,606.3,172.7,607.0C173.8,607.7,175.1,608.5,176.3,609.1C177.5,609.7,178.6,610.2,179.8,610.5C181.1,610.9,182.5,611.4,183.8,611.2C185.1,611.1,186.3,610.3,187.7,609.8C189.1,609.3,191.3,608.6,192.0,608.4M167.0,607.7C167.6,607.8,169.4,608.2,170.6,608.4C171.8,608.6,172.9,608.9,174.1,609.1C175.3,609.3,176.5,609.6,177.7,609.8C178.9,610.1,180.3,610.4,181.3,610.5C182.3,610.7,182.8,611.2,183.8,610.9C184.7,610.5,185.8,608.9,187.0,608.4C188.1,607.9,189.7,607.7,190.5,607.7C191.4,607.7,191.8,608.3,192.0,608.4M167.0,611.2C167.7,611.2,169.9,610.8,171.3,610.9C172.7,611.0,174.1,611.5,175.6,612.0C177.0,612.4,178.5,613.0,179.8,613.4C181.2,613.8,182.5,614.1,183.8,614.5C185.1,614.8,186.3,615.1,187.7,615.5C189.1,615.9,191.3,616.7,192.0,617.0M167.0,614.1C167.5,614.2,168.9,614.5,169.9,614.8C170.8,615.2,171.6,615.8,172.7,616.2C173.8,616.7,175.1,617.3,176.3,617.7C177.5,618.0,178.8,618.5,179.8,618.4C180.9,618.3,181.7,617.4,182.7,617.0C183.6,616.5,184.6,615.6,185.5,615.5C186.5,615.4,187.3,616.0,188.4,616.2C189.5,616.5,191.4,616.8,192.0,617.0M168.4,614.1C168.9,614.6,170.3,616.1,171.3,617.0C172.2,617.8,173.1,618.6,174.1,619.1C175.2,619.6,176.5,619.9,177.7,619.8C178.9,619.7,180.7,618.6,181.3,618.4M184.1,615.5C184.5,616.0,185.5,617.4,186.3,618.4C187.0,619.3,187.7,620.3,188.4,621.2C189.1,622.2,189.9,623.3,190.5,624.1C191.1,624.9,191.8,625.9,192.0,626.2M167.0,626.9C167.4,627.3,168.5,628.4,169.1,629.1C169.7,629.8,170.2,630.6,170.6,631.2C170.9,631.8,171.2,632.4,171.3,632.6M192.0,587.7C192.7,587.8,194.9,588.2,196.3,588.4C197.7,588.7,199.2,589.0,200.6,589.1C201.9,589.3,203.1,589.6,204.5,589.5C205.9,589.4,207.6,588.7,209.1,588.4C210.6,588.1,211.9,587.9,213.4,587.7C214.9,587.5,217.3,587.4,218.0,587.4M192.0,593.4C192.6,593.1,194.4,591.9,195.6,591.3C196.8,590.7,197.9,590.2,199.1,589.9C200.3,589.5,201.8,589.3,202.7,589.1C203.6,589.0,204.2,589.1,204.5,589.1M192.0,595.6C192.6,595.4,194.4,595.1,195.6,594.8C196.8,594.6,197.9,594.1,199.1,594.1C200.3,594.1,201.8,594.5,202.7,594.8C203.6,595.2,203.5,596.3,204.5,596.3C205.4,596.3,207.0,595.3,208.4,594.8C209.8,594.4,211.1,593.8,212.7,593.4C214.3,593.1,217.1,592.8,218.0,592.7M192.0,598.4C192.6,598.2,194.4,597.6,195.6,597.3C196.8,597.0,197.9,596.8,199.1,596.6C200.3,596.5,201.8,596.3,202.7,596.3C203.6,596.3,203.5,596.7,204.5,596.6C205.4,596.5,207.0,595.7,208.4,595.6C209.8,595.4,211.1,595.3,212.7,595.6C214.3,595.8,217.1,596.7,218.0,597.0M192.0,600.6C192.6,600.4,194.4,599.8,195.6,599.5C196.8,599.1,197.9,598.7,199.1,598.4C200.3,598.1,201.8,597.9,202.7,597.7C203.6,597.5,203.5,597.0,204.5,597.3C205.4,597.6,207.0,598.7,208.4,599.5C209.8,600.3,211.1,601.2,212.7,602.0C214.3,602.8,217.1,603.8,218.0,604.1M192.0,608.4C192.6,607.9,194.4,606.4,195.6,605.5C196.8,604.7,197.9,603.8,199.1,603.0C200.3,602.3,201.8,601.4,202.7,600.9C203.6,600.4,203.5,599.8,204.5,600.2C205.4,600.6,207.2,602.2,208.4,603.4C209.7,604.7,210.8,606.4,212.0,607.7C213.2,609.0,214.5,610.5,215.5,611.2C216.5,612.0,217.6,612.1,218.0,612.3M192.0,609.1C192.6,608.6,194.4,607.1,195.6,606.3C196.8,605.4,197.9,604.5,199.1,603.8C200.3,603.0,201.8,602.1,202.7,601.6C203.6,601.1,203.5,600.4,204.5,600.9C205.4,601.4,207.2,603.2,208.4,604.5C209.7,605.8,210.8,607.5,212.0,608.8C213.2,610.0,214.5,611.2,215.5,612.0C216.5,612.7,217.6,612.9,218.0,613.0M204.5,600.6C205.1,600.8,207.2,601.3,208.4,602.0C209.7,602.7,210.8,604.1,212.0,604.8C213.2,605.5,214.5,605.9,215.5,606.3C216.5,606.6,217.6,606.9,218.0,607.0M192.0,617.7C192.5,618.3,193.9,620.0,194.9,621.2C195.8,622.4,196.8,623.7,197.7,624.8C198.7,625.9,199.6,626.8,200.6,627.7C201.5,628.5,202.8,629.3,203.4,629.8C204.1,630.3,203.6,630.7,204.5,630.5C205.3,630.3,207.0,629.1,208.4,628.4C209.8,627.7,211.1,627.1,212.7,626.2C214.3,625.4,217.1,623.8,218.0,623.4M192.0,621.2C192.5,621.7,193.9,623.1,194.9,624.1C195.8,625.0,196.8,626.1,197.7,626.9C198.7,627.8,199.4,628.4,200.6,629.1C201.7,629.7,203.2,630.7,204.5,630.9C205.8,631.0,207.0,630.3,208.4,629.8C209.8,629.3,211.1,628.4,212.7,627.7C214.3,626.9,217.1,625.9,218.0,625.5M192.0,626.9C192.4,627.4,193.4,629.0,194.1,629.8C194.9,630.6,195.7,631.5,196.3,631.9C196.9,632.4,197.5,632.5,197.7,632.6M199.1,631.9C199.6,631.8,201.1,631.4,202.0,631.2C202.9,631.0,204.1,630.9,204.5,630.9M218.0,588.4C218.7,588.4,220.9,588.2,222.3,588.1C223.8,588.0,225.2,587.8,226.7,587.7C228.1,587.6,229.5,587.5,231.0,587.4C232.4,587.2,234.6,587.1,235.3,587.0M218.0,592.8C218.6,592.7,220.4,592.6,221.6,592.4C222.8,592.2,224.0,591.7,225.2,591.7C226.4,591.7,227.6,592.5,228.8,592.4C230.0,592.4,231.2,591.8,232.4,591.3C233.6,590.9,234.8,590.4,236.0,589.9C237.2,589.4,238.6,588.9,239.6,588.4C240.7,588.0,242.1,587.2,242.5,587.0M218.0,594.2C218.6,594.2,220.4,594.0,221.6,593.9C222.8,593.7,224.3,593.3,225.2,593.5C226.2,593.7,227.4,594.2,227.4,594.9C227.4,595.7,225.9,596.7,225.2,597.8C224.5,598.9,223.3,600.7,223.1,601.4C222.8,602.2,223.2,602.6,223.8,602.5C224.4,602.4,226.2,601.0,226.7,600.7M239.6,587.0C239.3,587.5,238.2,588.9,237.5,589.9C236.8,590.8,236.0,591.7,235.3,592.8C234.6,593.9,233.9,595.2,233.2,596.4C232.4,597.6,231.7,598.8,231.0,600.0C230.3,601.2,229.5,602.4,228.8,603.6C228.1,604.8,227.3,606.4,226.7,607.2C226.1,608.0,225.7,608.5,225.2,608.6C224.7,608.8,224.0,608.0,223.8,607.9M218.0,605.8C218.6,605.6,220.4,605.4,221.6,605.0C222.8,604.7,224.0,604.2,225.2,603.6C226.4,603.0,227.7,602.0,228.8,601.4C229.9,600.8,230.6,600.0,231.7,600.0C232.8,600.0,234.1,600.8,235.3,601.4C236.5,602.0,237.7,602.9,238.9,603.6C240.1,604.3,241.4,605.3,242.5,605.8C243.7,606.2,245.4,606.4,246.0,606.5M218.0,604.3C218.7,604.2,221.1,604.1,222.3,603.6C223.5,603.1,224.4,602.0,225.2,601.4C226.1,600.8,226.4,600.4,227.4,600.0C228.3,599.6,229.8,599.7,231.0,599.3C232.2,598.8,233.4,597.7,234.6,597.5C235.8,597.2,237.0,597.5,238.2,597.8C239.4,598.1,240.5,599.0,241.8,599.3C243.1,599.6,245.3,599.6,246.0,599.6M218.0,610.8C218.6,610.5,220.4,609.4,221.6,608.6C222.8,607.9,224.0,607.3,225.2,606.5C226.4,605.6,227.9,604.6,228.8,603.6C229.8,602.6,230.6,601.2,231.0,600.7M218.0,611.5C218.6,611.3,220.4,610.6,221.6,610.1C222.8,609.6,224.1,608.6,225.2,608.3C226.3,607.9,227.4,608.3,228.1,607.9C228.8,607.5,229.1,606.5,229.5,605.8C230.0,605.0,230.7,604.0,231.0,603.6M218.0,623.1C218.5,622.6,219.9,621.2,220.9,620.2C221.8,619.2,222.8,618.3,223.8,617.3C224.7,616.3,225.8,615.0,226.7,614.4C227.5,613.9,227.9,613.9,228.8,614.1C229.8,614.2,231.2,614.6,232.4,615.1C233.6,615.7,234.8,616.7,236.0,617.3C237.2,617.9,238.0,618.3,239.6,618.8C241.3,619.2,244.9,620.0,246.0,620.2M218.0,626.0C218.5,625.5,219.9,624.2,220.9,623.1C221.8,622.0,222.8,620.7,223.8,619.5C224.7,618.3,225.8,616.6,226.7,615.9C227.5,615.1,227.9,615.2,228.8,615.1C229.8,615.1,231.1,615.4,232.4,615.5C233.8,615.6,235.3,615.6,236.8,615.5C238.2,615.4,239.6,615.3,241.1,615.1C242.6,615.0,245.2,614.8,246.0,614.8M222.3,632.5C222.8,631.7,224.4,629.2,225.2,628.1C226.1,627.1,226.7,626.5,227.4,626.3C228.1,626.2,228.7,626.6,229.5,627.4C230.4,628.2,231.8,630.2,232.4,631.0C233.1,631.9,233.3,632.2,233.5,632.5M223.8,632.5C224.1,631.9,225.3,629.9,225.9,629.2C226.6,628.5,227.1,628.2,227.7,628.1C228.3,628.1,228.9,628.1,229.5,628.9C230.2,629.6,231.4,631.9,231.7,632.5M42.0,365.7C43.2,365.6,46.7,365.6,49.1,365.4C51.5,365.2,54.0,364.3,56.2,364.3C58.3,364.2,60.0,364.3,61.8,365.0C63.7,365.7,65.4,367.3,67.5,368.5C69.6,369.7,72.5,371.2,74.6,372.0C76.7,372.9,78.6,373.3,80.3,373.5C81.9,373.6,82.9,373.2,84.5,372.8C86.2,372.3,88.1,371.2,90.2,370.6C92.3,370.0,95.9,369.5,97.0,369.2M42.0,366.4C43.2,366.3,46.7,366.3,49.1,366.1C51.5,365.9,53.8,364.9,56.2,365.0C58.5,365.0,61.1,365.6,63.3,366.4C65.4,367.2,66.8,368.8,68.9,369.9C71.1,371.0,73.9,372.3,76.0,373.0C78.1,373.8,79.8,374.2,81.7,374.2C83.6,374.2,84.8,373.6,87.4,373.0C89.9,372.5,95.4,371.0,97.0,370.6M59.0,362.1C60.4,362.7,64.9,364.6,67.5,365.7C70.1,366.7,72.5,367.6,74.6,368.5C76.7,369.5,78.4,370.4,80.3,371.3C82.2,372.3,84.1,373.0,85.9,374.2C87.8,375.4,89.8,377.0,91.6,378.4C93.5,379.8,96.1,382.0,97.0,382.7M73.2,362.1C74.1,363.0,77.0,365.4,78.9,367.1C80.7,368.7,82.9,370.6,84.5,372.0C86.2,373.5,88.1,375.0,88.8,375.6M73.2,362.8C74.1,363.1,77.0,363.9,78.9,364.3C80.7,364.6,82.6,365.0,84.5,365.0C86.4,365.0,88.1,364.6,90.2,364.3C92.3,363.9,95.9,363.1,97.0,362.8M74.6,362.1C75.8,362.4,79.3,363.4,81.7,363.5C84.1,363.7,86.2,363.1,88.8,362.8C91.3,362.6,95.6,362.2,97.0,362.1M42.0,394.7C42.9,393.8,45.8,390.5,47.7,389.1C49.6,387.6,51.7,386.8,53.3,386.2C55.0,385.6,55.9,385.2,57.6,385.5C59.2,385.9,61.1,386.7,63.3,388.4C65.4,390.0,68.0,392.6,70.4,395.4C72.7,398.3,75.3,403.0,77.4,405.4C79.6,407.7,81.2,409.1,83.1,409.6C85.0,410.1,86.9,409.6,88.8,408.2C90.7,406.8,93.1,403.0,94.4,401.1C95.8,399.2,96.6,397.6,97.0,396.9M42.0,395.7C42.9,394.8,45.8,391.5,47.7,390.1C49.6,388.6,51.7,387.8,53.3,387.2C55.0,386.6,55.9,386.2,57.6,386.5C59.2,386.9,61.1,387.7,63.3,389.3C65.4,391.0,68.0,393.6,70.4,396.4C72.7,399.3,75.3,404.0,77.4,406.4C79.6,408.7,81.2,410.1,83.1,410.6C85.0,411.1,86.9,410.6,88.8,409.2C90.7,407.8,93.1,404.0,94.4,402.1C95.8,400.2,96.6,398.6,97.0,397.8M42.0,398.3C42.9,397.4,45.8,394.6,47.7,393.3C49.6,392.0,51.9,391.0,53.3,390.5C54.8,389.9,54.5,389.5,56.2,390.1C57.8,390.6,60.9,392.2,63.3,394.0C65.6,395.9,68.0,398.4,70.4,401.1C72.7,403.8,75.3,408.1,77.4,410.3C79.6,412.6,81.2,414.1,83.1,414.6C85.0,415.0,86.9,414.5,88.8,413.2C90.7,411.9,93.1,408.4,94.4,406.8C95.8,405.1,96.6,403.8,97.0,403.2M42.0,399.3C42.9,398.4,45.8,395.6,47.7,394.3C49.6,393.0,51.9,392.0,53.3,391.5C54.8,390.9,54.5,390.5,56.2,391.0C57.8,391.6,60.9,393.2,63.3,395.0C65.6,396.9,68.0,399.4,70.4,402.1C72.7,404.8,75.3,409.1,77.4,411.3C79.6,413.6,81.2,415.1,83.1,415.6C85.0,416.0,86.9,415.4,88.8,414.1C90.7,412.9,93.1,409.4,94.4,407.8C95.8,406.1,96.6,404.8,97.0,404.2M42.0,402.5C42.5,401.8,43.9,399.6,44.8,398.3C45.8,397.0,47.2,395.3,47.7,394.7M42.0,406.8C42.5,406.1,43.9,403.9,44.8,402.5C45.8,401.1,47.2,399.0,47.7,398.3M95.0,365.7C95.7,365.4,97.8,364.4,99.3,364.0C100.7,363.5,101.9,363.1,103.5,362.8C105.2,362.5,108.2,362.2,109.2,362.1M95.0,372.8C95.6,373.5,97.4,375.6,98.5,377.0C99.7,378.4,100.8,380.3,102.1,381.0C103.4,381.6,104.7,381.6,106.3,381.0C108.0,380.3,110.1,378.9,112.0,377.0C113.9,375.2,116.1,372.2,117.7,369.9C119.2,367.7,120.3,364.8,121.2,363.5C122.2,362.2,123.0,362.4,123.4,362.1M95.0,363.5C95.5,364.4,96.9,366.5,97.8,368.5C98.8,370.5,99.8,373.5,100.7,375.6C101.5,377.7,102.4,380.3,102.8,381.3M121.9,362.8C122.9,363.1,125.5,363.8,127.6,364.3C129.7,364.7,132.3,365.3,134.7,365.4C137.1,365.5,139.2,365.3,141.8,365.0C144.3,364.7,148.6,363.8,150.0,363.5M95.0,399.7C95.7,398.7,97.8,395.8,99.3,394.0C100.7,392.2,102.1,390.1,103.8,389.1C105.4,388.0,107.1,388.2,109.2,387.6C111.3,387.1,114.1,385.8,116.3,385.5C118.4,385.3,120.3,385.8,121.9,386.2C123.6,386.7,124.8,387.3,126.2,388.4C127.6,389.4,129.0,391.4,130.4,392.6C131.9,393.8,133.3,394.8,134.7,395.4C136.1,396.1,137.3,396.4,138.9,396.6C140.6,396.8,142.8,396.6,144.6,396.6C146.5,396.5,149.1,396.2,150.0,396.1M95.0,402.5C95.7,401.8,97.8,399.5,99.3,398.3C100.7,397.1,102.1,396.4,103.8,395.4C105.4,394.5,107.1,393.8,109.2,392.6C111.3,391.4,113.9,389.4,116.3,388.4C118.6,387.3,121.5,386.0,123.4,386.2C125.2,386.5,126.2,388.5,127.6,389.8C129.0,391.1,130.4,392.6,131.9,394.0C133.3,395.4,134.7,396.9,136.1,398.3C137.5,399.7,138.9,401.3,140.4,402.5C141.8,403.7,143.0,404.7,144.6,405.4C146.2,406.1,149.1,406.5,150.0,406.8M95.0,405.4C95.7,404.7,97.8,402.4,99.3,401.1C100.7,399.8,102.1,398.6,103.8,397.6C105.4,396.5,107.1,396.0,109.2,394.7C111.3,393.4,113.9,391.1,116.3,389.8C118.6,388.5,121.2,386.6,123.4,386.9C125.5,387.3,127.4,389.8,129.0,391.9C130.7,394.0,131.9,397.4,133.3,399.7C134.7,401.9,136.1,404.2,137.5,405.4C138.9,406.5,139.7,406.5,141.8,406.8C143.9,407.0,148.6,406.8,150.0,406.8M133.3,402.5C134.0,402.3,135.9,401.5,137.5,401.1C139.2,400.8,141.1,400.6,143.2,400.4C145.3,400.2,148.9,400.0,150.0,400.0M145.0,363.5C146.2,363.5,149.7,363.2,152.1,363.1C154.5,363.0,156.8,362.8,159.2,362.8C161.5,362.8,164.1,362.5,166.3,363.1C168.4,363.7,170.3,364.5,171.9,366.4C173.6,368.2,174.8,371.7,176.2,374.2C177.6,376.7,179.1,379.7,180.4,381.3C181.7,382.8,182.8,383.4,184.0,383.4C185.2,383.4,186.2,382.6,187.5,381.3C188.8,380.0,190.4,377.5,191.8,375.6C193.2,373.7,194.7,371.2,196.0,369.9C197.4,368.6,199.3,368.2,200.0,367.8M166.3,362.8C167.4,363.2,171.0,364.1,173.4,365.0C175.7,365.8,178.3,366.9,180.4,367.8C182.6,368.7,184.5,369.7,186.1,370.6C187.8,371.6,188.9,373.1,190.4,373.5C191.8,373.8,193.0,373.2,194.6,372.8C196.2,372.3,199.1,371.0,200.0,370.6M170.5,362.8C171.7,363.5,175.2,365.9,177.6,367.1C180.0,368.3,182.6,369.6,184.7,369.9C186.8,370.3,188.5,369.8,190.4,369.2C192.3,368.6,194.4,367.1,196.0,366.4C197.6,365.7,199.3,365.2,200.0,365.0M187.5,362.8C188.5,363.3,191.1,365.0,193.2,365.7C195.3,366.4,198.9,366.9,200.0,367.1M145.0,396.1C145.5,396.2,146.9,396.7,148.1,396.6C149.3,396.5,150.5,396.5,152.1,395.4C153.7,394.4,155.9,392.0,157.8,390.5C159.6,388.9,161.8,387.2,163.4,386.2C165.1,385.3,166.3,384.7,167.7,384.8C169.1,384.9,170.3,386.1,171.9,386.9C173.6,387.8,175.7,389.2,177.6,389.8C179.5,390.4,181.6,389.8,183.3,390.5C184.9,391.2,186.1,392.5,187.5,394.0C188.9,395.6,190.4,397.6,191.8,399.7C193.2,401.8,194.7,404.7,196.0,406.8C197.4,408.9,199.3,411.5,200.0,412.4M145.0,400.4C145.5,400.4,146.7,401.1,148.1,400.4C149.5,399.7,151.7,397.7,153.5,396.1C155.3,394.6,157.3,392.6,159.2,391.2C161.1,389.8,163.2,388.4,164.8,387.6C166.5,386.9,167.7,386.6,169.1,386.9C170.5,387.3,171.7,388.6,173.4,389.8C175.0,390.9,177.1,392.7,179.0,394.0C180.9,395.3,182.8,396.1,184.7,397.6C186.6,399.0,188.5,400.5,190.4,402.5C192.3,404.5,194.4,407.6,196.0,409.6C197.6,411.6,199.3,413.7,200.0,414.6M145.0,406.8C145.9,406.8,149.0,407.5,150.7,406.8C152.3,406.1,153.3,404.4,154.9,402.5C156.6,400.6,158.7,397.7,160.6,395.4C162.5,393.2,164.8,390.4,166.3,389.1C167.7,387.8,167.9,387.3,169.1,387.6C170.3,388.0,171.5,389.8,173.4,391.2C175.2,392.6,178.3,394.7,180.4,396.1C182.6,397.6,184.2,398.2,186.1,399.7C188.0,401.2,189.9,403.2,191.8,405.4C193.7,407.5,196.1,410.7,197.4,412.4C198.8,414.2,199.6,415.4,200.0,416.0M145.0,408.2C145.5,408.1,146.7,408.2,148.1,407.5C149.5,406.8,151.7,405.6,153.5,403.9C155.3,402.3,157.3,399.8,159.2,397.6C161.1,395.3,163.2,391.9,164.8,390.5C166.5,389.1,167.4,388.7,169.1,389.1C170.8,389.5,172.9,391.4,174.8,392.9C176.7,394.4,178.5,396.6,180.4,398.0C182.3,399.4,184.2,399.9,186.1,401.4C188.0,402.9,189.9,404.9,191.8,407.1C193.7,409.2,196.5,413.0,197.4,414.1M193.0,365.6C193.9,365.8,196.6,366.1,198.6,367.0C200.5,367.8,202.7,370.2,204.8,370.4C206.9,370.7,208.9,369.2,211.1,368.4C213.3,367.5,215.7,366.3,218.1,365.6C220.4,364.9,222.7,364.5,225.0,364.2C227.3,363.8,229.6,363.7,232.0,363.5C234.3,363.3,236.8,363.2,238.9,363.1C241.1,362.9,243.8,362.8,244.8,362.8M193.0,368.4C193.9,368.6,196.6,369.2,198.6,369.7C200.5,370.3,202.7,371.7,204.8,371.8C206.9,371.9,208.9,371.1,211.1,370.4C213.3,369.7,215.7,368.5,218.1,367.7C220.4,366.8,223.9,365.9,225.0,365.6M193.0,373.9C193.9,373.3,196.6,371.5,198.6,370.4C200.5,369.4,202.7,368.5,204.8,367.7C206.9,366.8,208.9,366.1,211.1,365.6C213.3,365.0,215.7,364.6,218.1,364.2C220.4,363.8,223.9,363.2,225.0,363.1M193.0,376.0C193.7,375.5,195.8,374.0,197.2,373.2C198.6,372.4,200.1,371.7,201.4,371.1C202.6,370.6,203.2,370.3,204.8,369.7C206.5,369.2,210.0,368.0,211.1,367.7M193.0,363.5C194.2,363.7,198.0,364.5,200.0,364.9C201.9,365.2,203.0,365.6,204.8,365.6C206.7,365.6,208.9,365.2,211.1,364.9C213.3,364.5,216.9,363.7,218.1,363.5M220.8,364.2C222.0,364.1,225.5,363.7,227.8,363.5C230.1,363.2,231.9,362.9,234.8,362.8C237.6,362.6,243.1,362.6,244.8,362.5M193.0,400.4C193.9,401.5,196.6,405.7,198.6,407.3C200.5,408.9,202.7,410.3,204.8,410.1C206.9,409.9,208.9,408.2,211.1,405.9C213.3,403.6,216.0,399.2,218.1,396.2C220.1,393.2,221.8,389.7,223.6,387.8C225.5,386.0,227.3,385.1,229.2,385.1C231.0,385.1,232.9,386.4,234.8,387.8C236.6,389.2,238.6,392.0,240.3,393.4C242.0,394.8,244.0,395.7,244.8,396.2M193.0,403.1C193.9,404.2,196.6,408.0,198.6,409.4C200.5,410.8,202.7,411.7,204.8,411.5C206.9,411.3,208.9,410.1,211.1,408.0C213.3,405.9,216.0,401.9,218.1,399.0C220.1,396.1,221.8,392.5,223.6,390.6C225.5,388.8,227.3,388.0,229.2,387.8C231.0,387.7,232.9,388.6,234.8,389.9C236.6,391.2,238.6,394.1,240.3,395.5C242.0,396.9,244.0,397.8,244.8,398.3M193.0,405.9C193.9,407.0,196.6,410.6,198.6,412.2C200.5,413.8,202.7,415.7,204.8,415.7C206.9,415.7,208.9,414.3,211.1,412.2C213.3,410.1,216.0,406.0,218.1,403.1C220.1,400.2,221.6,396.8,223.6,394.8C225.6,392.8,228.0,391.3,229.9,391.3C231.7,391.3,233.2,393.1,234.8,394.8C236.3,396.5,237.5,399.8,238.9,401.8C240.3,403.7,242.1,405.6,243.1,406.6C244.1,407.7,244.5,407.8,244.8,408.0M193.0,407.3C193.9,408.4,196.6,412.1,198.6,413.6C200.5,415.1,202.7,416.4,204.8,416.4C206.9,416.4,208.9,415.6,211.1,413.6C213.3,411.6,216.0,407.4,218.1,404.5C220.1,401.6,221.6,398.2,223.6,396.2C225.6,394.2,228.0,392.7,229.9,392.7C231.7,392.7,233.2,394.4,234.8,396.2C236.3,397.9,237.3,401.1,238.9,403.1C240.6,405.2,243.8,407.8,244.8,408.7" stroke="#1c1c1c" stroke-width="1.05" fill="none"/></g>
<text transform="translate(41.50,356.30) scale(1.05,1)" font-size="14.8" text-anchor="start" stroke="#111" stroke-width="0.3" >(c) 3D MnPSe<tspan font-size="10.5" dy="3">3</tspan></text>
<text transform="translate(263.30,356.30) scale(1.07,1)" font-size="14.8" text-anchor="start" stroke="#111" stroke-width="0.3" >(d)</text>
<text transform="translate(13.6,496.6) rotate(-90) scale(1.12,1)" font-size="15.2" text-anchor="middle" stroke="#111" stroke-width="0.3">E-E<tspan font-size="11" dy="2.6">F</tspan><tspan dy="-2.6"> (eV)</tspan></text>
</svg>
</body></html>
